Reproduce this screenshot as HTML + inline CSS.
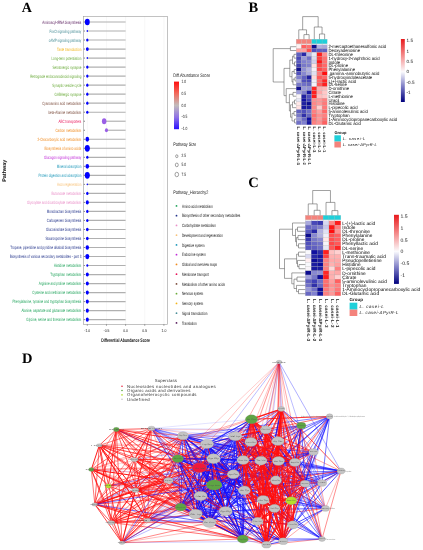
<!DOCTYPE html>
<html><head><meta charset="utf-8"><title>Figure</title>
<style>html,body{margin:0;padding:0;background:#fff;overflow:hidden}svg{display:block}text{font-family:"Liberation Sans",Arial,sans-serif;text-rendering:geometricPrecision}text.ser{font-family:"Liberation Serif",serif}</style>
</head><body>
<svg width="423" height="550" viewBox="0 0 423 550">
<rect width="423" height="550" fill="#fff"/>
<line x1="87.3" y1="16.3" x2="87.3" y2="324.3" stroke="#efefef" stroke-width="0.5"/>
<line x1="106.45" y1="16.3" x2="106.45" y2="324.3" stroke="#efefef" stroke-width="0.5"/>
<line x1="125.6" y1="16.3" x2="125.6" y2="324.3" stroke="#efefef" stroke-width="0.5"/>
<line x1="144.75" y1="16.3" x2="144.75" y2="324.3" stroke="#efefef" stroke-width="0.5"/>
<line x1="163.9" y1="16.3" x2="163.9" y2="324.3" stroke="#efefef" stroke-width="0.5"/>
<line x1="87.3" y1="22" x2="125.6" y2="22" stroke="#b0b0b0" stroke-width="1.15"/>
<line x1="87.3" y1="31.02" x2="125.6" y2="31.02" stroke="#b0b0b0" stroke-width="1.15"/>
<line x1="87.3" y1="40.04" x2="125.6" y2="40.04" stroke="#b0b0b0" stroke-width="1.15"/>
<line x1="87.3" y1="49.06" x2="125.6" y2="49.06" stroke="#b0b0b0" stroke-width="1.15"/>
<line x1="87.3" y1="58.08" x2="125.6" y2="58.08" stroke="#b0b0b0" stroke-width="1.15"/>
<line x1="87.3" y1="67.1" x2="125.6" y2="67.1" stroke="#b0b0b0" stroke-width="1.15"/>
<line x1="87.3" y1="76.12" x2="125.6" y2="76.12" stroke="#b0b0b0" stroke-width="1.15"/>
<line x1="87.3" y1="85.14" x2="125.6" y2="85.14" stroke="#b0b0b0" stroke-width="1.15"/>
<line x1="87.3" y1="94.16" x2="125.6" y2="94.16" stroke="#b0b0b0" stroke-width="1.15"/>
<line x1="87.3" y1="103.18" x2="125.6" y2="103.18" stroke="#b0b0b0" stroke-width="1.15"/>
<line x1="87.3" y1="112.2" x2="125.6" y2="112.2" stroke="#b0b0b0" stroke-width="1.15"/>
<line x1="104.15" y1="121.22" x2="125.6" y2="121.22" stroke="#b0b0b0" stroke-width="1.15"/>
<line x1="106.45" y1="130.24" x2="125.6" y2="130.24" stroke="#b0b0b0" stroke-width="1.15"/>
<line x1="87.3" y1="139.26" x2="125.6" y2="139.26" stroke="#b0b0b0" stroke-width="1.15"/>
<line x1="87.3" y1="148.28" x2="125.6" y2="148.28" stroke="#b0b0b0" stroke-width="1.15"/>
<line x1="87.3" y1="157.3" x2="125.6" y2="157.3" stroke="#b0b0b0" stroke-width="1.15"/>
<line x1="87.3" y1="166.32" x2="125.6" y2="166.32" stroke="#b0b0b0" stroke-width="1.15"/>
<line x1="87.3" y1="175.34" x2="125.6" y2="175.34" stroke="#b0b0b0" stroke-width="1.15"/>
<line x1="87.3" y1="184.36" x2="125.6" y2="184.36" stroke="#b0b0b0" stroke-width="1.15"/>
<line x1="87.3" y1="193.38" x2="125.6" y2="193.38" stroke="#b0b0b0" stroke-width="1.15"/>
<line x1="87.3" y1="202.4" x2="125.6" y2="202.4" stroke="#b0b0b0" stroke-width="1.15"/>
<line x1="87.3" y1="211.42" x2="125.6" y2="211.42" stroke="#b0b0b0" stroke-width="1.15"/>
<line x1="87.3" y1="220.44" x2="125.6" y2="220.44" stroke="#b0b0b0" stroke-width="1.15"/>
<line x1="87.3" y1="229.46" x2="125.6" y2="229.46" stroke="#b0b0b0" stroke-width="1.15"/>
<line x1="87.3" y1="238.48" x2="125.6" y2="238.48" stroke="#b0b0b0" stroke-width="1.15"/>
<line x1="87.3" y1="247.5" x2="125.6" y2="247.5" stroke="#b0b0b0" stroke-width="1.15"/>
<line x1="87.3" y1="256.52" x2="125.6" y2="256.52" stroke="#b0b0b0" stroke-width="1.15"/>
<line x1="87.3" y1="265.54" x2="125.6" y2="265.54" stroke="#b0b0b0" stroke-width="1.15"/>
<line x1="87.3" y1="274.56" x2="125.6" y2="274.56" stroke="#b0b0b0" stroke-width="1.15"/>
<line x1="87.3" y1="283.58" x2="125.6" y2="283.58" stroke="#b0b0b0" stroke-width="1.15"/>
<line x1="87.3" y1="292.6" x2="125.6" y2="292.6" stroke="#b0b0b0" stroke-width="1.15"/>
<line x1="87.3" y1="301.62" x2="125.6" y2="301.62" stroke="#b0b0b0" stroke-width="1.15"/>
<line x1="87.3" y1="310.64" x2="125.6" y2="310.64" stroke="#b0b0b0" stroke-width="1.15"/>
<line x1="87.3" y1="319.66" x2="125.6" y2="319.66" stroke="#b0b0b0" stroke-width="1.15"/>
<ellipse cx="87.3" cy="22" rx="2.43" ry="3.24" fill="#0000ff"/>
<line x1="83.6" y1="22" x2="84.9" y2="22" stroke="#555" stroke-width="0.8"/>
<text transform="translate(81.3,23.6) scale(0.65,1)" text-anchor="end" font-size="4.6" fill="#5a1e5e">Aminoacyl-tRNA biosynthesis</text>
<ellipse cx="87.3" cy="31.02" rx="0.72" ry="0.96" fill="#0000ff"/>
<line x1="83.6" y1="31.02" x2="84.9" y2="31.02" stroke="#555" stroke-width="0.8"/>
<text transform="translate(81.3,32.62) scale(0.65,1)" text-anchor="end" font-size="4.6" fill="#4b8f98">FoxO signaling pathway</text>
<ellipse cx="87.3" cy="40.04" rx="1.17" ry="1.56" fill="#0000ff"/>
<line x1="83.6" y1="40.04" x2="84.9" y2="40.04" stroke="#555" stroke-width="0.8"/>
<text transform="translate(81.3,41.64) scale(0.65,1)" text-anchor="end" font-size="4.6" fill="#4b8f98">cAMP signaling pathway</text>
<ellipse cx="87.3" cy="49.06" rx="1.44" ry="1.92" fill="#0000ff"/>
<line x1="83.6" y1="49.06" x2="84.9" y2="49.06" stroke="#555" stroke-width="0.8"/>
<text transform="translate(81.3,50.66) scale(0.65,1)" text-anchor="end" font-size="4.6" fill="#f2b418">Taste transduction</text>
<ellipse cx="87.3" cy="58.08" rx="0.72" ry="0.96" fill="#0000ff"/>
<line x1="83.6" y1="58.08" x2="84.9" y2="58.08" stroke="#555" stroke-width="0.8"/>
<text transform="translate(81.3,59.68) scale(0.65,1)" text-anchor="end" font-size="4.6" fill="#6aaa3a">Long-term potentiation</text>
<ellipse cx="87.3" cy="67.1" rx="1.17" ry="1.56" fill="#0000ff"/>
<line x1="83.6" y1="67.1" x2="84.9" y2="67.1" stroke="#555" stroke-width="0.8"/>
<text transform="translate(81.3,68.7) scale(0.65,1)" text-anchor="end" font-size="4.6" fill="#6aaa3a">Serotonergic synapse</text>
<ellipse cx="87.3" cy="76.12" rx="1.17" ry="1.56" fill="#0000ff"/>
<line x1="83.6" y1="76.12" x2="84.9" y2="76.12" stroke="#555" stroke-width="0.8"/>
<text transform="translate(81.3,77.72) scale(0.65,1)" text-anchor="end" font-size="4.6" fill="#6aaa3a">Retrograde endocannabinoid signaling</text>
<ellipse cx="87.3" cy="85.14" rx="1.17" ry="1.56" fill="#0000ff"/>
<line x1="83.6" y1="85.14" x2="84.9" y2="85.14" stroke="#555" stroke-width="0.8"/>
<text transform="translate(81.3,86.74) scale(0.65,1)" text-anchor="end" font-size="4.6" fill="#6aaa3a">Synaptic vesicle cycle</text>
<ellipse cx="87.3" cy="94.16" rx="1.17" ry="1.56" fill="#0000ff"/>
<line x1="83.6" y1="94.16" x2="84.9" y2="94.16" stroke="#555" stroke-width="0.8"/>
<text transform="translate(81.3,95.76) scale(0.65,1)" text-anchor="end" font-size="4.6" fill="#6aaa3a">GABAergic synapse</text>
<ellipse cx="87.3" cy="103.18" rx="1.17" ry="1.56" fill="#0000ff"/>
<line x1="83.6" y1="103.18" x2="84.9" y2="103.18" stroke="#555" stroke-width="0.8"/>
<text transform="translate(81.3,104.78) scale(0.65,1)" text-anchor="end" font-size="4.6" fill="#7a4a3a">Cyanoamino acid metabolism</text>
<ellipse cx="87.3" cy="112.2" rx="1.17" ry="1.56" fill="#0000ff"/>
<line x1="83.6" y1="112.2" x2="84.9" y2="112.2" stroke="#555" stroke-width="0.8"/>
<text transform="translate(81.3,113.8) scale(0.65,1)" text-anchor="end" font-size="4.6" fill="#7a4a3a">beta-Alanine metabolism</text>
<ellipse cx="104.15" cy="121.22" rx="2.25" ry="3" fill="#9a5fe6"/>
<line x1="83.6" y1="121.22" x2="84.9" y2="121.22" stroke="#555" stroke-width="0.8"/>
<text transform="translate(81.3,122.82) scale(0.65,1)" text-anchor="end" font-size="4.6" fill="#e8145a">ABC transporters</text>
<ellipse cx="106.45" cy="130.24" rx="1.53" ry="2.04" fill="#9a5fe6"/>
<line x1="83.6" y1="130.24" x2="84.9" y2="130.24" stroke="#555" stroke-width="0.8"/>
<text transform="translate(81.3,131.84) scale(0.65,1)" text-anchor="end" font-size="4.6" fill="#ef8a1e">Carbon metabolism</text>
<ellipse cx="87.3" cy="139.26" rx="1.8" ry="2.4" fill="#0000ff"/>
<line x1="83.6" y1="139.26" x2="84.9" y2="139.26" stroke="#555" stroke-width="0.8"/>
<text transform="translate(81.3,140.86) scale(0.65,1)" text-anchor="end" font-size="4.6" fill="#ef8a1e">2-Oxocarboxylic acid metabolism</text>
<ellipse cx="87.3" cy="148.28" rx="2.52" ry="3.36" fill="#0000ff"/>
<line x1="83.6" y1="148.28" x2="84.9" y2="148.28" stroke="#555" stroke-width="0.8"/>
<text transform="translate(81.3,149.88) scale(0.65,1)" text-anchor="end" font-size="4.6" fill="#ef8a1e">Biosynthesis of amino acids</text>
<ellipse cx="87.3" cy="157.3" rx="1.17" ry="1.56" fill="#0000ff"/>
<line x1="83.6" y1="157.3" x2="84.9" y2="157.3" stroke="#555" stroke-width="0.8"/>
<text transform="translate(81.3,158.9) scale(0.65,1)" text-anchor="end" font-size="4.6" fill="#c02ad8">Glucagon signaling pathway</text>
<ellipse cx="87.3" cy="166.32" rx="1.8" ry="2.4" fill="#0000ff"/>
<line x1="83.6" y1="166.32" x2="84.9" y2="166.32" stroke="#555" stroke-width="0.8"/>
<text transform="translate(81.3,167.92) scale(0.65,1)" text-anchor="end" font-size="4.6" fill="#1b96b8">Mineral absorption</text>
<ellipse cx="87.3" cy="175.34" rx="2.52" ry="3.36" fill="#0000ff"/>
<line x1="83.6" y1="175.34" x2="84.9" y2="175.34" stroke="#555" stroke-width="0.8"/>
<text transform="translate(81.3,176.94) scale(0.65,1)" text-anchor="end" font-size="4.6" fill="#1b96b8">Protein digestion and absorption</text>
<ellipse cx="87.3" cy="184.36" rx="0.72" ry="0.96" fill="#0000ff"/>
<line x1="83.6" y1="184.36" x2="84.9" y2="184.36" stroke="#555" stroke-width="0.8"/>
<text transform="translate(81.3,185.96) scale(0.65,1)" text-anchor="end" font-size="4.6" fill="#f7c27a">Axon regeneration</text>
<ellipse cx="87.3" cy="193.38" rx="1.17" ry="1.56" fill="#0000ff"/>
<line x1="83.6" y1="193.38" x2="84.9" y2="193.38" stroke="#555" stroke-width="0.8"/>
<text transform="translate(81.3,194.98) scale(0.65,1)" text-anchor="end" font-size="4.6" fill="#e98fc8">Butanoate metabolism</text>
<ellipse cx="87.3" cy="202.4" rx="1.53" ry="2.04" fill="#0000ff"/>
<line x1="83.6" y1="202.4" x2="84.9" y2="202.4" stroke="#555" stroke-width="0.8"/>
<text transform="translate(81.3,204) scale(0.65,1)" text-anchor="end" font-size="4.6" fill="#e98fc8">Glyoxylate and dicarboxylate metabolism</text>
<ellipse cx="87.3" cy="211.42" rx="1.17" ry="1.56" fill="#0000ff"/>
<line x1="83.6" y1="211.42" x2="84.9" y2="211.42" stroke="#555" stroke-width="0.8"/>
<text transform="translate(81.3,213.02) scale(0.65,1)" text-anchor="end" font-size="4.6" fill="#22338a">Monobactam biosynthesis</text>
<ellipse cx="87.3" cy="220.44" rx="1.17" ry="1.56" fill="#0000ff"/>
<line x1="83.6" y1="220.44" x2="84.9" y2="220.44" stroke="#555" stroke-width="0.8"/>
<text transform="translate(81.3,222.04) scale(0.65,1)" text-anchor="end" font-size="4.6" fill="#22338a">Carbapenem biosynthesis</text>
<ellipse cx="87.3" cy="229.46" rx="1.35" ry="1.8" fill="#0000ff"/>
<line x1="83.6" y1="229.46" x2="84.9" y2="229.46" stroke="#555" stroke-width="0.8"/>
<text transform="translate(81.3,231.06) scale(0.65,1)" text-anchor="end" font-size="4.6" fill="#22338a">Glucosinolate biosynthesis</text>
<ellipse cx="87.3" cy="238.48" rx="1.35" ry="1.8" fill="#0000ff"/>
<line x1="83.6" y1="238.48" x2="84.9" y2="238.48" stroke="#555" stroke-width="0.8"/>
<text transform="translate(81.3,240.08) scale(0.65,1)" text-anchor="end" font-size="4.6" fill="#22338a">Staurosporine biosynthesis</text>
<ellipse cx="87.3" cy="247.5" rx="1.71" ry="2.28" fill="#0000ff"/>
<line x1="83.6" y1="247.5" x2="84.9" y2="247.5" stroke="#555" stroke-width="0.8"/>
<text transform="translate(81.3,249.1) scale(0.65,1)" text-anchor="end" font-size="4.6" fill="#22338a">Tropane, piperidine and pyridine alkaloid biosynthesis</text>
<ellipse cx="87.3" cy="256.52" rx="1.98" ry="2.64" fill="#0000ff"/>
<line x1="83.6" y1="256.52" x2="84.9" y2="256.52" stroke="#555" stroke-width="0.8"/>
<text transform="translate(81.3,258.12) scale(0.65,1)" text-anchor="end" font-size="4.6" fill="#22338a">Biosynthesis of various secondary metabolites - part 3</text>
<ellipse cx="87.3" cy="265.54" rx="0.99" ry="1.32" fill="#0000ff"/>
<line x1="83.6" y1="265.54" x2="84.9" y2="265.54" stroke="#555" stroke-width="0.8"/>
<text transform="translate(81.3,267.14) scale(0.65,1)" text-anchor="end" font-size="4.6" fill="#1fa35a">Histidine metabolism</text>
<ellipse cx="87.3" cy="274.56" rx="1.53" ry="2.04" fill="#0000ff"/>
<line x1="83.6" y1="274.56" x2="84.9" y2="274.56" stroke="#555" stroke-width="0.8"/>
<text transform="translate(81.3,276.16) scale(0.65,1)" text-anchor="end" font-size="4.6" fill="#1fa35a">Tryptophan metabolism</text>
<ellipse cx="87.3" cy="283.58" rx="1.53" ry="2.04" fill="#0000ff"/>
<line x1="83.6" y1="283.58" x2="84.9" y2="283.58" stroke="#555" stroke-width="0.8"/>
<text transform="translate(81.3,285.18) scale(0.65,1)" text-anchor="end" font-size="4.6" fill="#1fa35a">Arginine and proline metabolism</text>
<ellipse cx="87.3" cy="292.6" rx="1.53" ry="2.04" fill="#0000ff"/>
<line x1="83.6" y1="292.6" x2="84.9" y2="292.6" stroke="#555" stroke-width="0.8"/>
<text transform="translate(81.3,294.2) scale(0.65,1)" text-anchor="end" font-size="4.6" fill="#1fa35a">Cysteine and methionine metabolism</text>
<ellipse cx="87.3" cy="301.62" rx="1.53" ry="2.04" fill="#0000ff"/>
<line x1="83.6" y1="301.62" x2="84.9" y2="301.62" stroke="#555" stroke-width="0.8"/>
<text transform="translate(81.3,303.22) scale(0.65,1)" text-anchor="end" font-size="4.6" fill="#1fa35a">Phenylalanine, tyrosine and tryptophan biosynthesis</text>
<ellipse cx="87.3" cy="310.64" rx="1.53" ry="2.04" fill="#0000ff"/>
<line x1="83.6" y1="310.64" x2="84.9" y2="310.64" stroke="#555" stroke-width="0.8"/>
<text transform="translate(81.3,312.24) scale(0.65,1)" text-anchor="end" font-size="4.6" fill="#1fa35a">Alanine, aspartate and glutamate metabolism</text>
<ellipse cx="87.3" cy="319.66" rx="1.53" ry="2.04" fill="#0000ff"/>
<line x1="83.6" y1="319.66" x2="84.9" y2="319.66" stroke="#555" stroke-width="0.8"/>
<text transform="translate(81.3,321.26) scale(0.65,1)" text-anchor="end" font-size="4.6" fill="#1fa35a">Glycine, serine and threonine metabolism</text>
<rect x="83.5" y="16.3" width="84.1" height="308" fill="none" stroke="#9a9a9a" stroke-width="0.6"/>
<line x1="87.3" y1="324.3" x2="87.3" y2="325.8" stroke="#444" stroke-width="0.5"/>
<text transform="translate(87.3,331.8) scale(0.8,1)" text-anchor="middle" font-size="4.3" fill="#222">-1.0</text>
<line x1="106.45" y1="324.3" x2="106.45" y2="325.8" stroke="#444" stroke-width="0.5"/>
<text transform="translate(106.45,331.8) scale(0.8,1)" text-anchor="middle" font-size="4.3" fill="#222">-0.5</text>
<line x1="125.6" y1="324.3" x2="125.6" y2="325.8" stroke="#444" stroke-width="0.5"/>
<text transform="translate(125.6,331.8) scale(0.8,1)" text-anchor="middle" font-size="4.3" fill="#222">0.0</text>
<line x1="144.75" y1="324.3" x2="144.75" y2="325.8" stroke="#444" stroke-width="0.5"/>
<text transform="translate(144.75,331.8) scale(0.8,1)" text-anchor="middle" font-size="4.3" fill="#222">0.5</text>
<line x1="163.9" y1="324.3" x2="163.9" y2="325.8" stroke="#444" stroke-width="0.5"/>
<text transform="translate(163.9,331.8) scale(0.8,1)" text-anchor="middle" font-size="4.3" fill="#222">1.0</text>
<text x="125.6" y="342.0" text-anchor="middle" font-size="5.2" font-weight="bold" fill="#111" textLength="48.9" lengthAdjust="spacingAndGlyphs">Differential Abundance Score</text>
<text transform="translate(5.6,170.8) rotate(-90)" text-anchor="middle" font-size="5.4" font-weight="bold" fill="#111">Pathway</text>
<defs><linearGradient id="gA" x1="0" y1="0" x2="0" y2="1"><stop offset="0" stop-color="#ff1010"/><stop offset="0.25" stop-color="#f26a5c"/><stop offset="0.5" stop-color="#c2bcbc"/><stop offset="0.75" stop-color="#8f72e6"/><stop offset="1" stop-color="#2a10ff"/></linearGradient></defs>
<text transform="translate(173.2,77.4) scale(0.76,1)" font-size="5.0" fill="#222">Diff.Abundance Score</text>
<rect x="174" y="81.6" width="5" height="47.6" fill="url(#gA)"/>
<text transform="translate(181.6,83.1) scale(0.72,1)" font-size="4.6" fill="#222">1.0</text>
<text transform="translate(181.6,94.85) scale(0.72,1)" font-size="4.6" fill="#222">0.5</text>
<text transform="translate(181.6,106.6) scale(0.72,1)" font-size="4.6" fill="#222">0.0</text>
<text transform="translate(181.6,118.35) scale(0.72,1)" font-size="4.6" fill="#222">-0.5</text>
<text transform="translate(181.6,130.1) scale(0.72,1)" font-size="4.6" fill="#222">-1.0</text>
<text transform="translate(173.2,146.3) scale(0.76,1)" font-size="5.0" fill="#222">Pathway Size</text>
<ellipse cx="176.8" cy="156.2" rx="1.16" ry="1.45" fill="none" stroke="#333" stroke-width="0.45"/>
<text transform="translate(181.6,157.4) scale(0.72,1)" font-size="4.6" fill="#222">2.5</text>
<ellipse cx="176.8" cy="164.9" rx="1.48" ry="1.85" fill="none" stroke="#333" stroke-width="0.45"/>
<text transform="translate(181.6,166.1) scale(0.72,1)" font-size="4.6" fill="#222">5.0</text>
<ellipse cx="176.8" cy="174.5" rx="1.8" ry="2.25" fill="none" stroke="#333" stroke-width="0.45"/>
<text transform="translate(181.6,175.7) scale(0.72,1)" font-size="4.6" fill="#222">7.5</text>
<text transform="translate(173.2,194.4) scale(0.76,1)" font-size="5.0" fill="#222">Pathway_Hierarchy2</text>
<circle cx="176.5" cy="205.9" r="0.9" fill="#1fa35a"/>
<text transform="translate(181.9,207.5) scale(0.65,1)" font-size="4.6" fill="#111">Amino acid metabolism</text>
<circle cx="176.5" cy="215.65" r="0.9" fill="#22338a"/>
<text transform="translate(181.9,217.25) scale(0.65,1)" font-size="4.6" fill="#111">Biosynthesis of other secondary metabolites</text>
<circle cx="176.5" cy="225.4" r="0.9" fill="#e98fc8"/>
<text transform="translate(181.9,227) scale(0.65,1)" font-size="4.6" fill="#111">Carbohydrate metabolism</text>
<circle cx="176.5" cy="235.15" r="0.9" fill="#f7c27a"/>
<text transform="translate(181.9,236.75) scale(0.65,1)" font-size="4.6" fill="#111">Development and regeneration</text>
<circle cx="176.5" cy="244.9" r="0.9" fill="#1b96b8"/>
<text transform="translate(181.9,246.5) scale(0.65,1)" font-size="4.6" fill="#111">Digestive system</text>
<circle cx="176.5" cy="254.65" r="0.9" fill="#c02ad8"/>
<text transform="translate(181.9,256.25) scale(0.65,1)" font-size="4.6" fill="#111">Endocrine system</text>
<circle cx="176.5" cy="264.4" r="0.9" fill="#ef8a1e"/>
<text transform="translate(181.9,266) scale(0.65,1)" font-size="4.6" fill="#111">Global and overview maps</text>
<circle cx="176.5" cy="274.15" r="0.9" fill="#e8145a"/>
<text transform="translate(181.9,275.75) scale(0.65,1)" font-size="4.6" fill="#111">Membrane transport</text>
<circle cx="176.5" cy="283.9" r="0.9" fill="#7a4a3a"/>
<text transform="translate(181.9,285.5) scale(0.65,1)" font-size="4.6" fill="#111">Metabolism of other amino acids</text>
<circle cx="176.5" cy="293.65" r="0.9" fill="#6aaa3a"/>
<text transform="translate(181.9,295.25) scale(0.65,1)" font-size="4.6" fill="#111">Nervous system</text>
<circle cx="176.5" cy="303.4" r="0.9" fill="#f2b418"/>
<text transform="translate(181.9,305) scale(0.65,1)" font-size="4.6" fill="#111">Sensory system</text>
<circle cx="176.5" cy="313.15" r="0.9" fill="#4b8f98"/>
<text transform="translate(181.9,314.75) scale(0.65,1)" font-size="4.6" fill="#111">Signal transduction</text>
<circle cx="176.5" cy="322.9" r="0.9" fill="#5a1e5e"/>
<text transform="translate(181.9,324.5) scale(0.65,1)" font-size="4.6" fill="#111">Translation</text>
<text x="21.8" y="11.7" class="ser" font-weight="bold" font-size="14" fill="#000">A</text>
<rect x="296.2" y="44.8" width="5.17" height="3.81" fill="#fff0f0" stroke="#a8a8a8" stroke-width="0.18"/>
<rect x="301.37" y="44.8" width="5.17" height="3.81" fill="#ff6060" stroke="#a8a8a8" stroke-width="0.18"/>
<rect x="306.54" y="44.8" width="5.17" height="3.81" fill="#ff7070" stroke="#a8a8a8" stroke-width="0.18"/>
<rect x="311.71" y="44.8" width="5.17" height="3.81" fill="#101090" stroke="#a8a8a8" stroke-width="0.18"/>
<rect x="316.88" y="44.8" width="5.17" height="3.81" fill="#b0b0e0" stroke="#a8a8a8" stroke-width="0.18"/>
<rect x="322.05" y="44.8" width="5.17" height="3.81" fill="#a8a8d8" stroke="#a8a8a8" stroke-width="0.18"/>
<rect x="296.2" y="48.61" width="5.17" height="3.81" fill="#ffa0a0" stroke="#a8a8a8" stroke-width="0.18"/>
<rect x="301.37" y="48.61" width="5.17" height="3.81" fill="#ffa0a0" stroke="#a8a8a8" stroke-width="0.18"/>
<rect x="306.54" y="48.61" width="5.17" height="3.81" fill="#ff5050" stroke="#a8a8a8" stroke-width="0.18"/>
<rect x="311.71" y="48.61" width="5.17" height="3.81" fill="#5050c0" stroke="#a8a8a8" stroke-width="0.18"/>
<rect x="316.88" y="48.61" width="5.17" height="3.81" fill="#6060c0" stroke="#a8a8a8" stroke-width="0.18"/>
<rect x="322.05" y="48.61" width="5.17" height="3.81" fill="#6060c0" stroke="#a8a8a8" stroke-width="0.18"/>
<rect x="296.2" y="52.42" width="5.17" height="3.81" fill="#6060c0" stroke="#a8a8a8" stroke-width="0.18"/>
<rect x="301.37" y="52.42" width="5.17" height="3.81" fill="#2828a8" stroke="#a8a8a8" stroke-width="0.18"/>
<rect x="306.54" y="52.42" width="5.17" height="3.81" fill="#b8b8e0" stroke="#a8a8a8" stroke-width="0.18"/>
<rect x="311.71" y="52.42" width="5.17" height="3.81" fill="#e8e8f4" stroke="#a8a8a8" stroke-width="0.18"/>
<rect x="316.88" y="52.42" width="5.17" height="3.81" fill="#ff1e1e" stroke="#a8a8a8" stroke-width="0.18"/>
<rect x="322.05" y="52.42" width="5.17" height="3.81" fill="#ff9090" stroke="#a8a8a8" stroke-width="0.18"/>
<rect x="296.2" y="56.23" width="5.17" height="3.81" fill="#4848b8" stroke="#a8a8a8" stroke-width="0.18"/>
<rect x="301.37" y="56.23" width="5.17" height="3.81" fill="#9898d8" stroke="#a8a8a8" stroke-width="0.18"/>
<rect x="306.54" y="56.23" width="5.17" height="3.81" fill="#7070c8" stroke="#a8a8a8" stroke-width="0.18"/>
<rect x="311.71" y="56.23" width="5.17" height="3.81" fill="#dcdcf0" stroke="#a8a8a8" stroke-width="0.18"/>
<rect x="316.88" y="56.23" width="5.17" height="3.81" fill="#ff4040" stroke="#a8a8a8" stroke-width="0.18"/>
<rect x="322.05" y="56.23" width="5.17" height="3.81" fill="#ff7070" stroke="#a8a8a8" stroke-width="0.18"/>
<rect x="296.2" y="60.04" width="5.17" height="3.81" fill="#5858c0" stroke="#a8a8a8" stroke-width="0.18"/>
<rect x="301.37" y="60.04" width="5.17" height="3.81" fill="#8080d0" stroke="#a8a8a8" stroke-width="0.18"/>
<rect x="306.54" y="60.04" width="5.17" height="3.81" fill="#8888d0" stroke="#a8a8a8" stroke-width="0.18"/>
<rect x="311.71" y="60.04" width="5.17" height="3.81" fill="#d0d0ec" stroke="#a8a8a8" stroke-width="0.18"/>
<rect x="316.88" y="60.04" width="5.17" height="3.81" fill="#ff1616" stroke="#a8a8a8" stroke-width="0.18"/>
<rect x="322.05" y="60.04" width="5.17" height="3.81" fill="#ff7070" stroke="#a8a8a8" stroke-width="0.18"/>
<rect x="296.2" y="63.85" width="5.17" height="3.81" fill="#4040b0" stroke="#a8a8a8" stroke-width="0.18"/>
<rect x="301.37" y="63.85" width="5.17" height="3.81" fill="#7878c8" stroke="#a8a8a8" stroke-width="0.18"/>
<rect x="306.54" y="63.85" width="5.17" height="3.81" fill="#8080cc" stroke="#a8a8a8" stroke-width="0.18"/>
<rect x="311.71" y="63.85" width="5.17" height="3.81" fill="#ffe0e0" stroke="#a8a8a8" stroke-width="0.18"/>
<rect x="316.88" y="63.85" width="5.17" height="3.81" fill="#ff4848" stroke="#a8a8a8" stroke-width="0.18"/>
<rect x="322.05" y="63.85" width="5.17" height="3.81" fill="#ff6868" stroke="#a8a8a8" stroke-width="0.18"/>
<rect x="296.2" y="67.66" width="5.17" height="3.81" fill="#10108c" stroke="#a8a8a8" stroke-width="0.18"/>
<rect x="301.37" y="67.66" width="5.17" height="3.81" fill="#9090d4" stroke="#a8a8a8" stroke-width="0.18"/>
<rect x="306.54" y="67.66" width="5.17" height="3.81" fill="#b0b0e0" stroke="#a8a8a8" stroke-width="0.18"/>
<rect x="311.71" y="67.66" width="5.17" height="3.81" fill="#f4f0f8" stroke="#a8a8a8" stroke-width="0.18"/>
<rect x="316.88" y="67.66" width="5.17" height="3.81" fill="#ff4848" stroke="#a8a8a8" stroke-width="0.18"/>
<rect x="322.05" y="67.66" width="5.17" height="3.81" fill="#ff6060" stroke="#a8a8a8" stroke-width="0.18"/>
<rect x="296.2" y="71.47" width="5.17" height="3.81" fill="#5050bc" stroke="#a8a8a8" stroke-width="0.18"/>
<rect x="301.37" y="71.47" width="5.17" height="3.81" fill="#8888d0" stroke="#a8a8a8" stroke-width="0.18"/>
<rect x="306.54" y="71.47" width="5.17" height="3.81" fill="#a8a8dc" stroke="#a8a8a8" stroke-width="0.18"/>
<rect x="311.71" y="71.47" width="5.17" height="3.81" fill="#e0e0f0" stroke="#a8a8a8" stroke-width="0.18"/>
<rect x="316.88" y="71.47" width="5.17" height="3.81" fill="#ff7878" stroke="#a8a8a8" stroke-width="0.18"/>
<rect x="322.05" y="71.47" width="5.17" height="3.81" fill="#ff0e0e" stroke="#a8a8a8" stroke-width="0.18"/>
<rect x="296.2" y="75.28" width="5.17" height="3.81" fill="#8080cc" stroke="#a8a8a8" stroke-width="0.18"/>
<rect x="301.37" y="75.28" width="5.17" height="3.81" fill="#6060c0" stroke="#a8a8a8" stroke-width="0.18"/>
<rect x="306.54" y="75.28" width="5.17" height="3.81" fill="#2020a0" stroke="#a8a8a8" stroke-width="0.18"/>
<rect x="311.71" y="75.28" width="5.17" height="3.81" fill="#ffd8d8" stroke="#a8a8a8" stroke-width="0.18"/>
<rect x="316.88" y="75.28" width="5.17" height="3.81" fill="#ff5858" stroke="#a8a8a8" stroke-width="0.18"/>
<rect x="322.05" y="75.28" width="5.17" height="3.81" fill="#ff6868" stroke="#a8a8a8" stroke-width="0.18"/>
<rect x="296.2" y="79.09" width="5.17" height="3.81" fill="#b0b0e0" stroke="#a8a8a8" stroke-width="0.18"/>
<rect x="301.37" y="79.09" width="5.17" height="3.81" fill="#5050bc" stroke="#a8a8a8" stroke-width="0.18"/>
<rect x="306.54" y="79.09" width="5.17" height="3.81" fill="#4848b8" stroke="#a8a8a8" stroke-width="0.18"/>
<rect x="311.71" y="79.09" width="5.17" height="3.81" fill="#f0eef8" stroke="#a8a8a8" stroke-width="0.18"/>
<rect x="316.88" y="79.09" width="5.17" height="3.81" fill="#ff6868" stroke="#a8a8a8" stroke-width="0.18"/>
<rect x="322.05" y="79.09" width="5.17" height="3.81" fill="#ff2626" stroke="#a8a8a8" stroke-width="0.18"/>
<rect x="296.2" y="82.9" width="5.17" height="3.81" fill="#7878c8" stroke="#a8a8a8" stroke-width="0.18"/>
<rect x="301.37" y="82.9" width="5.17" height="3.81" fill="#7070c8" stroke="#a8a8a8" stroke-width="0.18"/>
<rect x="306.54" y="82.9" width="5.17" height="3.81" fill="#6868c0" stroke="#a8a8a8" stroke-width="0.18"/>
<rect x="311.71" y="82.9" width="5.17" height="3.81" fill="#f4f4fc" stroke="#a8a8a8" stroke-width="0.18"/>
<rect x="316.88" y="82.9" width="5.17" height="3.81" fill="#ff5858" stroke="#a8a8a8" stroke-width="0.18"/>
<rect x="322.05" y="82.9" width="5.17" height="3.81" fill="#ff1e1e" stroke="#a8a8a8" stroke-width="0.18"/>
<rect x="296.2" y="86.71" width="5.17" height="3.81" fill="#101090" stroke="#a8a8a8" stroke-width="0.18"/>
<rect x="301.37" y="86.71" width="5.17" height="3.81" fill="#9898d8" stroke="#a8a8a8" stroke-width="0.18"/>
<rect x="306.54" y="86.71" width="5.17" height="3.81" fill="#9090d4" stroke="#a8a8a8" stroke-width="0.18"/>
<rect x="311.71" y="86.71" width="5.17" height="3.81" fill="#ff2626" stroke="#a8a8a8" stroke-width="0.18"/>
<rect x="316.88" y="86.71" width="5.17" height="3.81" fill="#ffb0b0" stroke="#a8a8a8" stroke-width="0.18"/>
<rect x="322.05" y="86.71" width="5.17" height="3.81" fill="#ffb8b8" stroke="#a8a8a8" stroke-width="0.18"/>
<rect x="296.2" y="90.52" width="5.17" height="3.81" fill="#a0a0dc" stroke="#a8a8a8" stroke-width="0.18"/>
<rect x="301.37" y="90.52" width="5.17" height="3.81" fill="#8080cc" stroke="#a8a8a8" stroke-width="0.18"/>
<rect x="306.54" y="90.52" width="5.17" height="3.81" fill="#1818a0" stroke="#a8a8a8" stroke-width="0.18"/>
<rect x="311.71" y="90.52" width="5.17" height="3.81" fill="#ff1e1e" stroke="#a8a8a8" stroke-width="0.18"/>
<rect x="316.88" y="90.52" width="5.17" height="3.81" fill="#ffa8a8" stroke="#a8a8a8" stroke-width="0.18"/>
<rect x="322.05" y="90.52" width="5.17" height="3.81" fill="#ffc8c8" stroke="#a8a8a8" stroke-width="0.18"/>
<rect x="296.2" y="94.33" width="5.17" height="3.81" fill="#f8f4f8" stroke="#a8a8a8" stroke-width="0.18"/>
<rect x="301.37" y="94.33" width="5.17" height="3.81" fill="#2020a0" stroke="#a8a8a8" stroke-width="0.18"/>
<rect x="306.54" y="94.33" width="5.17" height="3.81" fill="#5050bc" stroke="#a8a8a8" stroke-width="0.18"/>
<rect x="311.71" y="94.33" width="5.17" height="3.81" fill="#ff1e1e" stroke="#a8a8a8" stroke-width="0.18"/>
<rect x="316.88" y="94.33" width="5.17" height="3.81" fill="#ffc0c0" stroke="#a8a8a8" stroke-width="0.18"/>
<rect x="322.05" y="94.33" width="5.17" height="3.81" fill="#ffc8c8" stroke="#a8a8a8" stroke-width="0.18"/>
<rect x="296.2" y="98.14" width="5.17" height="3.81" fill="#e8e8f4" stroke="#a8a8a8" stroke-width="0.18"/>
<rect x="301.37" y="98.14" width="5.17" height="3.81" fill="#1010a0" stroke="#a8a8a8" stroke-width="0.18"/>
<rect x="306.54" y="98.14" width="5.17" height="3.81" fill="#4040b8" stroke="#a8a8a8" stroke-width="0.18"/>
<rect x="311.71" y="98.14" width="5.17" height="3.81" fill="#ff9090" stroke="#a8a8a8" stroke-width="0.18"/>
<rect x="316.88" y="98.14" width="5.17" height="3.81" fill="#ff9898" stroke="#a8a8a8" stroke-width="0.18"/>
<rect x="322.05" y="98.14" width="5.17" height="3.81" fill="#ff8080" stroke="#a8a8a8" stroke-width="0.18"/>
<rect x="296.2" y="101.95" width="5.17" height="3.81" fill="#ffe8e8" stroke="#a8a8a8" stroke-width="0.18"/>
<rect x="301.37" y="101.95" width="5.17" height="3.81" fill="#2020a0" stroke="#a8a8a8" stroke-width="0.18"/>
<rect x="306.54" y="101.95" width="5.17" height="3.81" fill="#0c0c90" stroke="#a8a8a8" stroke-width="0.18"/>
<rect x="311.71" y="101.95" width="5.17" height="3.81" fill="#ff8888" stroke="#a8a8a8" stroke-width="0.18"/>
<rect x="316.88" y="101.95" width="5.17" height="3.81" fill="#ff9898" stroke="#a8a8a8" stroke-width="0.18"/>
<rect x="322.05" y="101.95" width="5.17" height="3.81" fill="#ff7878" stroke="#a8a8a8" stroke-width="0.18"/>
<rect x="296.2" y="105.76" width="5.17" height="3.81" fill="#ffe0e0" stroke="#a8a8a8" stroke-width="0.18"/>
<rect x="301.37" y="105.76" width="5.17" height="3.81" fill="#1818a0" stroke="#a8a8a8" stroke-width="0.18"/>
<rect x="306.54" y="105.76" width="5.17" height="3.81" fill="#2020a0" stroke="#a8a8a8" stroke-width="0.18"/>
<rect x="311.71" y="105.76" width="5.17" height="3.81" fill="#ff8888" stroke="#a8a8a8" stroke-width="0.18"/>
<rect x="316.88" y="105.76" width="5.17" height="3.81" fill="#ffd0d0" stroke="#a8a8a8" stroke-width="0.18"/>
<rect x="322.05" y="105.76" width="5.17" height="3.81" fill="#ff7878" stroke="#a8a8a8" stroke-width="0.18"/>
<rect x="296.2" y="109.57" width="5.17" height="3.81" fill="#6060c0" stroke="#a8a8a8" stroke-width="0.18"/>
<rect x="301.37" y="109.57" width="5.17" height="3.81" fill="#5050bc" stroke="#a8a8a8" stroke-width="0.18"/>
<rect x="306.54" y="109.57" width="5.17" height="3.81" fill="#7070c8" stroke="#a8a8a8" stroke-width="0.18"/>
<rect x="311.71" y="109.57" width="5.17" height="3.81" fill="#ff8080" stroke="#a8a8a8" stroke-width="0.18"/>
<rect x="316.88" y="109.57" width="5.17" height="3.81" fill="#ffa0a0" stroke="#a8a8a8" stroke-width="0.18"/>
<rect x="322.05" y="109.57" width="5.17" height="3.81" fill="#ff6868" stroke="#a8a8a8" stroke-width="0.18"/>
<rect x="296.2" y="113.38" width="5.17" height="3.81" fill="#7878c8" stroke="#a8a8a8" stroke-width="0.18"/>
<rect x="301.37" y="113.38" width="5.17" height="3.81" fill="#3030a8" stroke="#a8a8a8" stroke-width="0.18"/>
<rect x="306.54" y="113.38" width="5.17" height="3.81" fill="#6868c0" stroke="#a8a8a8" stroke-width="0.18"/>
<rect x="311.71" y="113.38" width="5.17" height="3.81" fill="#ff7070" stroke="#a8a8a8" stroke-width="0.18"/>
<rect x="316.88" y="113.38" width="5.17" height="3.81" fill="#ff9090" stroke="#a8a8a8" stroke-width="0.18"/>
<rect x="322.05" y="113.38" width="5.17" height="3.81" fill="#ff8080" stroke="#a8a8a8" stroke-width="0.18"/>
<rect x="296.2" y="117.19" width="5.17" height="3.81" fill="#9898d8" stroke="#a8a8a8" stroke-width="0.18"/>
<rect x="301.37" y="117.19" width="5.17" height="3.81" fill="#6868c4" stroke="#a8a8a8" stroke-width="0.18"/>
<rect x="306.54" y="117.19" width="5.17" height="3.81" fill="#1010a0" stroke="#a8a8a8" stroke-width="0.18"/>
<rect x="311.71" y="117.19" width="5.17" height="3.81" fill="#ff7878" stroke="#a8a8a8" stroke-width="0.18"/>
<rect x="316.88" y="117.19" width="5.17" height="3.81" fill="#ff9898" stroke="#a8a8a8" stroke-width="0.18"/>
<rect x="322.05" y="117.19" width="5.17" height="3.81" fill="#ff7070" stroke="#a8a8a8" stroke-width="0.18"/>
<rect x="296.2" y="121" width="5.17" height="3.81" fill="#7070c8" stroke="#a8a8a8" stroke-width="0.18"/>
<rect x="301.37" y="121" width="5.17" height="3.81" fill="#8080d0" stroke="#a8a8a8" stroke-width="0.18"/>
<rect x="306.54" y="121" width="5.17" height="3.81" fill="#1818a0" stroke="#a8a8a8" stroke-width="0.18"/>
<rect x="311.71" y="121" width="5.17" height="3.81" fill="#ff8080" stroke="#a8a8a8" stroke-width="0.18"/>
<rect x="316.88" y="121" width="5.17" height="3.81" fill="#ff9090" stroke="#a8a8a8" stroke-width="0.18"/>
<rect x="322.05" y="121" width="5.17" height="3.81" fill="#ff6060" stroke="#a8a8a8" stroke-width="0.18"/>
<rect x="296.2" y="39.2" width="5.17" height="4.6" fill="#f4837c" stroke="#b0b0b0" stroke-width="0.2"/>
<rect x="301.37" y="39.2" width="5.17" height="4.6" fill="#f4837c" stroke="#b0b0b0" stroke-width="0.2"/>
<rect x="306.54" y="39.2" width="5.17" height="4.6" fill="#f4837c" stroke="#b0b0b0" stroke-width="0.2"/>
<rect x="311.71" y="39.2" width="5.17" height="4.6" fill="#1fd0da" stroke="#b0b0b0" stroke-width="0.2"/>
<rect x="316.88" y="39.2" width="5.17" height="4.6" fill="#1fd0da" stroke="#b0b0b0" stroke-width="0.2"/>
<rect x="322.05" y="39.2" width="5.17" height="4.6" fill="#1fd0da" stroke="#b0b0b0" stroke-width="0.2"/>
<path d="M296.2 46.7H290.4V50.52H296.2" fill="none" stroke="#555" stroke-width="0.55"/>
<path d="M296.2 54.32H294V58.13H296.2" fill="none" stroke="#555" stroke-width="0.55"/>
<path d="M296.2 61.94H294.5V65.75H296.2" fill="none" stroke="#555" stroke-width="0.55"/>
<path d="M294 56.23H292.5V63.85H294.5" fill="none" stroke="#555" stroke-width="0.55"/>
<path d="M296.2 69.56H294.2V73.38H296.2" fill="none" stroke="#555" stroke-width="0.55"/>
<path d="M296.2 77.19H295V81H296.2" fill="none" stroke="#555" stroke-width="0.55"/>
<path d="M295 79.09H293V84.81H296.2" fill="none" stroke="#555" stroke-width="0.55"/>
<path d="M294.2 71.47H292V81.95H293" fill="none" stroke="#555" stroke-width="0.55"/>
<path d="M292.5 60.04H289.8V76.71H292" fill="none" stroke="#555" stroke-width="0.55"/>
<path d="M296.2 92.42H293V96.23H296.2" fill="none" stroke="#555" stroke-width="0.55"/>
<path d="M296.2 100.04H294.5V103.85H296.2" fill="none" stroke="#555" stroke-width="0.55"/>
<path d="M294.5 101.95H292.5V107.66H296.2" fill="none" stroke="#555" stroke-width="0.55"/>
<path d="M296.2 111.47H294V115.28H296.2" fill="none" stroke="#555" stroke-width="0.55"/>
<path d="M296.2 119.09H294.5V122.91H296.2" fill="none" stroke="#555" stroke-width="0.55"/>
<path d="M294 113.38H292V121H294.5" fill="none" stroke="#555" stroke-width="0.55"/>
<path d="M292.5 104.81H290.5V117.19H292" fill="none" stroke="#555" stroke-width="0.55"/>
<path d="M293 94.33H289.4V111H290.5" fill="none" stroke="#555" stroke-width="0.55"/>
<path d="M296.2 88.61H286.2V102.66H289.4" fill="none" stroke="#555" stroke-width="0.55"/>
<path d="M289.8 68.37H284V95.64H286.2" fill="none" stroke="#555" stroke-width="0.55"/>
<path d="M290.4 48.61H273.2V82.01H284" fill="none" stroke="#555" stroke-width="0.55"/>
<path d="M303.95 39.2V34.6H309.12V39.2" fill="none" stroke="#555" stroke-width="0.55"/>
<path d="M298.78 39.2V29.8H306.54V34.6" fill="none" stroke="#555" stroke-width="0.55"/>
<path d="M319.46 39.2V34H324.63V39.2" fill="none" stroke="#555" stroke-width="0.55"/>
<path d="M314.29 39.2V27H322.05V34" fill="none" stroke="#555" stroke-width="0.55"/>
<path d="M302.66 29.8V16.6H318.17V27" fill="none" stroke="#555" stroke-width="0.55"/>
<text transform="translate(328.5,48.31) scale(0.92,1)" font-size="4.6" fill="#000">2-mercaptoethanesulfonic acid</text>
<text transform="translate(328.5,52.12) scale(0.92,1)" font-size="4.6" fill="#000">Deoxyadenosine</text>
<text transform="translate(328.5,55.93) scale(0.92,1)" font-size="4.6" fill="#000">DL-threonine</text>
<text transform="translate(328.5,59.74) scale(0.92,1)" font-size="4.6" fill="#000">1-hydroxy-2-naphthoic acid</text>
<text transform="translate(328.5,63.55) scale(0.92,1)" font-size="4.6" fill="#000">Indole</text>
<text transform="translate(328.5,67.36) scale(0.92,1)" font-size="4.6" fill="#000">DL-proline</text>
<text transform="translate(328.5,71.17) scale(0.92,1)" font-size="4.6" fill="#000">Phenylalanine</text>
<text transform="translate(328.5,74.98) scale(0.92,1)" font-size="4.6" fill="#000">.gamma.-aminobutyric acid</text>
<text transform="translate(328.5,78.8) scale(0.92,1)" font-size="4.6" fill="#000">5-hydroxyindoleacetate</text>
<text transform="translate(328.5,82.61) scale(0.92,1)" font-size="4.6" fill="#000">L(+)-lactic acid</text>
<text transform="translate(328.5,86.42) scale(0.92,1)" font-size="4.6" fill="#000">DL-serine</text>
<text transform="translate(328.5,90.22) scale(0.92,1)" font-size="4.6" fill="#000">D-ornithine</text>
<text transform="translate(328.5,94.03) scale(0.92,1)" font-size="4.6" fill="#000">Citrate</text>
<text transform="translate(328.5,97.84) scale(0.92,1)" font-size="4.6" fill="#000">L-methionine</text>
<text transform="translate(328.5,101.65) scale(0.92,1)" font-size="4.6" fill="#000">Uracil</text>
<text transform="translate(328.5,105.46) scale(0.92,1)" font-size="4.6" fill="#000">Histidine</text>
<text transform="translate(328.5,109.27) scale(0.92,1)" font-size="4.6" fill="#000">L-pipecolic acid</text>
<text transform="translate(328.5,113.08) scale(0.92,1)" font-size="4.6" fill="#000">5-aminolevulinic acid</text>
<text transform="translate(328.5,116.89) scale(0.92,1)" font-size="4.6" fill="#000">Tryptophan</text>
<text transform="translate(328.5,120.7) scale(0.92,1)" font-size="4.6" fill="#000">1-Aminocyclopropanecarboxylic acid</text>
<text transform="translate(328.5,124.52) scale(0.92,1)" font-size="4.6" fill="#000">DL-Glutamic acid</text>
<text transform="translate(297.45,126.6) rotate(90)" font-size="4.14" font-weight="bold" textLength="38.3" lengthAdjust="spacing" fill="#1a1a1a">L. casei-ΔPyrR-L-3</text>
<text transform="translate(302.62,126.6) rotate(90)" font-size="4.14" font-weight="bold" textLength="38.3" lengthAdjust="spacing" fill="#1a1a1a">L. casei-ΔPyrR-L-2</text>
<text transform="translate(307.79,126.6) rotate(90)" font-size="4.14" font-weight="bold" textLength="38.3" lengthAdjust="spacing" fill="#1a1a1a">L. casei-ΔPyrR-L-1</text>
<text transform="translate(312.96,126.6) rotate(90)" font-size="4.14" font-weight="bold" textLength="25.6" lengthAdjust="spacing" fill="#1a1a1a">L. casei-L-3</text>
<text transform="translate(318.13,126.6) rotate(90)" font-size="4.14" font-weight="bold" textLength="25.6" lengthAdjust="spacing" fill="#1a1a1a">L. casei-L-2</text>
<text transform="translate(323.3,126.6) rotate(90)" font-size="4.14" font-weight="bold" textLength="25.6" lengthAdjust="spacing" fill="#1a1a1a">L. casei-L-1</text>
<defs><linearGradient id="gB" x1="0" y1="0" x2="0" y2="1"><stop offset="0" stop-color="#e8191c"/><stop offset="0.26" stop-color="#f48a8a"/><stop offset="0.52" stop-color="#fbfbfd"/><stop offset="0.76" stop-color="#7a7ac4"/><stop offset="1" stop-color="#00007e"/></linearGradient></defs>
<rect x="400.9" y="39" width="3.9" height="63" fill="url(#gB)"/>
<text x="406.6" y="42.16" font-size="4.6" fill="#222">1.5</text>
<text x="406.6" y="52.76" font-size="4.6" fill="#222">1</text>
<text x="406.6" y="62.96" font-size="4.6" fill="#222">0.5</text>
<text x="406.6" y="73.36" font-size="4.6" fill="#222">0</text>
<text x="406.6" y="83.56" font-size="4.6" fill="#222">-0.5</text>
<text x="406.6" y="94.16" font-size="4.6" fill="#222">-1</text>
<text x="334.4" y="133.8" font-size="4.03" font-weight="bold" fill="#111">Group</text>
<rect x="334.4" y="135.3" width="6.5" height="6.3" fill="#1fd0da"/>
<rect x="334.4" y="141.6" width="6.5" height="5.9" fill="#f4837c"/>
<text x="342.8" y="139.75" font-size="3.96" font-style="italic" textLength="22.5" lengthAdjust="spacing" fill="#111">L. casei-L</text>
<text x="342.8" y="145.85" font-size="3.96" font-style="italic" textLength="33.9" lengthAdjust="spacing" fill="#111">L. casei-ΔPyrR-L</text>
<text x="248.6" y="11.8" class="ser" font-weight="bold" font-size="14.5" fill="#000">B</text>
<rect x="305.3" y="220.9" width="5.92" height="4.16" fill="#a8a8dc" stroke="#a8a8a8" stroke-width="0.18"/>
<rect x="311.22" y="220.9" width="5.92" height="4.16" fill="#4848b8" stroke="#a8a8a8" stroke-width="0.18"/>
<rect x="317.14" y="220.9" width="5.92" height="4.16" fill="#3838b0" stroke="#a8a8a8" stroke-width="0.18"/>
<rect x="323.06" y="220.9" width="5.92" height="4.16" fill="#d8d8f0" stroke="#a8a8a8" stroke-width="0.18"/>
<rect x="328.98" y="220.9" width="5.92" height="4.16" fill="#ff8888" stroke="#a8a8a8" stroke-width="0.18"/>
<rect x="334.9" y="220.9" width="5.92" height="4.16" fill="#ff1e1e" stroke="#a8a8a8" stroke-width="0.18"/>
<rect x="305.3" y="225.06" width="5.92" height="4.16" fill="#6868c4" stroke="#a8a8a8" stroke-width="0.18"/>
<rect x="311.22" y="225.06" width="5.92" height="4.16" fill="#7070c8" stroke="#a8a8a8" stroke-width="0.18"/>
<rect x="317.14" y="225.06" width="5.92" height="4.16" fill="#8080cc" stroke="#a8a8a8" stroke-width="0.18"/>
<rect x="323.06" y="225.06" width="5.92" height="4.16" fill="#c8c8e8" stroke="#a8a8a8" stroke-width="0.18"/>
<rect x="328.98" y="225.06" width="5.92" height="4.16" fill="#ff1616" stroke="#a8a8a8" stroke-width="0.18"/>
<rect x="334.9" y="225.06" width="5.92" height="4.16" fill="#ff8080" stroke="#a8a8a8" stroke-width="0.18"/>
<rect x="305.3" y="229.22" width="5.92" height="4.16" fill="#5858c0" stroke="#a8a8a8" stroke-width="0.18"/>
<rect x="311.22" y="229.22" width="5.92" height="4.16" fill="#2828a8" stroke="#a8a8a8" stroke-width="0.18"/>
<rect x="317.14" y="229.22" width="5.92" height="4.16" fill="#b0b0e0" stroke="#a8a8a8" stroke-width="0.18"/>
<rect x="323.06" y="229.22" width="5.92" height="4.16" fill="#e0e0f4" stroke="#a8a8a8" stroke-width="0.18"/>
<rect x="328.98" y="229.22" width="5.92" height="4.16" fill="#ff0e0e" stroke="#a8a8a8" stroke-width="0.18"/>
<rect x="334.9" y="229.22" width="5.92" height="4.16" fill="#ff9090" stroke="#a8a8a8" stroke-width="0.18"/>
<rect x="305.3" y="233.38" width="5.92" height="4.16" fill="#0c0c90" stroke="#a8a8a8" stroke-width="0.18"/>
<rect x="311.22" y="233.38" width="5.92" height="4.16" fill="#8888d0" stroke="#a8a8a8" stroke-width="0.18"/>
<rect x="317.14" y="233.38" width="5.92" height="4.16" fill="#b0b0e0" stroke="#a8a8a8" stroke-width="0.18"/>
<rect x="323.06" y="233.38" width="5.92" height="4.16" fill="#eeeef8" stroke="#a8a8a8" stroke-width="0.18"/>
<rect x="328.98" y="233.38" width="5.92" height="4.16" fill="#ff5050" stroke="#a8a8a8" stroke-width="0.18"/>
<rect x="334.9" y="233.38" width="5.92" height="4.16" fill="#ff6060" stroke="#a8a8a8" stroke-width="0.18"/>
<rect x="305.3" y="237.54" width="5.92" height="4.16" fill="#3838b0" stroke="#a8a8a8" stroke-width="0.18"/>
<rect x="311.22" y="237.54" width="5.92" height="4.16" fill="#7878c8" stroke="#a8a8a8" stroke-width="0.18"/>
<rect x="317.14" y="237.54" width="5.92" height="4.16" fill="#8888d0" stroke="#a8a8a8" stroke-width="0.18"/>
<rect x="323.06" y="237.54" width="5.92" height="4.16" fill="#ffe8e8" stroke="#a8a8a8" stroke-width="0.18"/>
<rect x="328.98" y="237.54" width="5.92" height="4.16" fill="#ff5050" stroke="#a8a8a8" stroke-width="0.18"/>
<rect x="334.9" y="237.54" width="5.92" height="4.16" fill="#ff6060" stroke="#a8a8a8" stroke-width="0.18"/>
<rect x="305.3" y="241.7" width="5.92" height="4.16" fill="#5050bc" stroke="#a8a8a8" stroke-width="0.18"/>
<rect x="311.22" y="241.7" width="5.92" height="4.16" fill="#6868c4" stroke="#a8a8a8" stroke-width="0.18"/>
<rect x="317.14" y="241.7" width="5.92" height="4.16" fill="#7070c8" stroke="#a8a8a8" stroke-width="0.18"/>
<rect x="323.06" y="241.7" width="5.92" height="4.16" fill="#f8f4f8" stroke="#a8a8a8" stroke-width="0.18"/>
<rect x="328.98" y="241.7" width="5.92" height="4.16" fill="#ff4848" stroke="#a8a8a8" stroke-width="0.18"/>
<rect x="334.9" y="241.7" width="5.92" height="4.16" fill="#ff5858" stroke="#a8a8a8" stroke-width="0.18"/>
<rect x="305.3" y="245.86" width="5.92" height="4.16" fill="#5858c0" stroke="#a8a8a8" stroke-width="0.18"/>
<rect x="311.22" y="245.86" width="5.92" height="4.16" fill="#6060c0" stroke="#a8a8a8" stroke-width="0.18"/>
<rect x="317.14" y="245.86" width="5.92" height="4.16" fill="#7070c8" stroke="#a8a8a8" stroke-width="0.18"/>
<rect x="323.06" y="245.86" width="5.92" height="4.16" fill="#e8e8f4" stroke="#a8a8a8" stroke-width="0.18"/>
<rect x="328.98" y="245.86" width="5.92" height="4.16" fill="#ff5858" stroke="#a8a8a8" stroke-width="0.18"/>
<rect x="334.9" y="245.86" width="5.92" height="4.16" fill="#ff2626" stroke="#a8a8a8" stroke-width="0.18"/>
<rect x="305.3" y="250.02" width="5.92" height="4.16" fill="#f8f8fc" stroke="#a8a8a8" stroke-width="0.18"/>
<rect x="311.22" y="250.02" width="5.92" height="4.16" fill="#1010a0" stroke="#a8a8a8" stroke-width="0.18"/>
<rect x="317.14" y="250.02" width="5.92" height="4.16" fill="#3030a8" stroke="#a8a8a8" stroke-width="0.18"/>
<rect x="323.06" y="250.02" width="5.92" height="4.16" fill="#ff1e1e" stroke="#a8a8a8" stroke-width="0.18"/>
<rect x="328.98" y="250.02" width="5.92" height="4.16" fill="#ffc0c0" stroke="#a8a8a8" stroke-width="0.18"/>
<rect x="334.9" y="250.02" width="5.92" height="4.16" fill="#ffd0d0" stroke="#a8a8a8" stroke-width="0.18"/>
<rect x="305.3" y="254.18" width="5.92" height="4.16" fill="#d8d8f0" stroke="#a8a8a8" stroke-width="0.18"/>
<rect x="311.22" y="254.18" width="5.92" height="4.16" fill="#2828a8" stroke="#a8a8a8" stroke-width="0.18"/>
<rect x="317.14" y="254.18" width="5.92" height="4.16" fill="#1818a0" stroke="#a8a8a8" stroke-width="0.18"/>
<rect x="323.06" y="254.18" width="5.92" height="4.16" fill="#ff4040" stroke="#a8a8a8" stroke-width="0.18"/>
<rect x="328.98" y="254.18" width="5.92" height="4.16" fill="#ffb0b0" stroke="#a8a8a8" stroke-width="0.18"/>
<rect x="334.9" y="254.18" width="5.92" height="4.16" fill="#ffb0b0" stroke="#a8a8a8" stroke-width="0.18"/>
<rect x="305.3" y="258.34" width="5.92" height="4.16" fill="#ffeef0" stroke="#a8a8a8" stroke-width="0.18"/>
<rect x="311.22" y="258.34" width="5.92" height="4.16" fill="#0c0c98" stroke="#a8a8a8" stroke-width="0.18"/>
<rect x="317.14" y="258.34" width="5.92" height="4.16" fill="#2020a0" stroke="#a8a8a8" stroke-width="0.18"/>
<rect x="323.06" y="258.34" width="5.92" height="4.16" fill="#ff8080" stroke="#a8a8a8" stroke-width="0.18"/>
<rect x="328.98" y="258.34" width="5.92" height="4.16" fill="#ffa8a8" stroke="#a8a8a8" stroke-width="0.18"/>
<rect x="334.9" y="258.34" width="5.92" height="4.16" fill="#ffa8a8" stroke="#a8a8a8" stroke-width="0.18"/>
<rect x="305.3" y="262.5" width="5.92" height="4.16" fill="#f8f8fc" stroke="#a8a8a8" stroke-width="0.18"/>
<rect x="311.22" y="262.5" width="5.92" height="4.16" fill="#1c1ca0" stroke="#a8a8a8" stroke-width="0.18"/>
<rect x="317.14" y="262.5" width="5.92" height="4.16" fill="#0c0c98" stroke="#a8a8a8" stroke-width="0.18"/>
<rect x="323.06" y="262.5" width="5.92" height="4.16" fill="#ff8080" stroke="#a8a8a8" stroke-width="0.18"/>
<rect x="328.98" y="262.5" width="5.92" height="4.16" fill="#ffb0b0" stroke="#a8a8a8" stroke-width="0.18"/>
<rect x="334.9" y="262.5" width="5.92" height="4.16" fill="#ffa0a0" stroke="#a8a8a8" stroke-width="0.18"/>
<rect x="305.3" y="266.66" width="5.92" height="4.16" fill="#f8f4f8" stroke="#a8a8a8" stroke-width="0.18"/>
<rect x="311.22" y="266.66" width="5.92" height="4.16" fill="#1818a0" stroke="#a8a8a8" stroke-width="0.18"/>
<rect x="317.14" y="266.66" width="5.92" height="4.16" fill="#1c1ca0" stroke="#a8a8a8" stroke-width="0.18"/>
<rect x="323.06" y="266.66" width="5.92" height="4.16" fill="#ff8080" stroke="#a8a8a8" stroke-width="0.18"/>
<rect x="328.98" y="266.66" width="5.92" height="4.16" fill="#ffd8d8" stroke="#a8a8a8" stroke-width="0.18"/>
<rect x="334.9" y="266.66" width="5.92" height="4.16" fill="#ff8080" stroke="#a8a8a8" stroke-width="0.18"/>
<rect x="305.3" y="270.82" width="5.92" height="4.16" fill="#0c0c90" stroke="#a8a8a8" stroke-width="0.18"/>
<rect x="311.22" y="270.82" width="5.92" height="4.16" fill="#8888d0" stroke="#a8a8a8" stroke-width="0.18"/>
<rect x="317.14" y="270.82" width="5.92" height="4.16" fill="#9090d4" stroke="#a8a8a8" stroke-width="0.18"/>
<rect x="323.06" y="270.82" width="5.92" height="4.16" fill="#ff2626" stroke="#a8a8a8" stroke-width="0.18"/>
<rect x="328.98" y="270.82" width="5.92" height="4.16" fill="#ffb0b0" stroke="#a8a8a8" stroke-width="0.18"/>
<rect x="334.9" y="270.82" width="5.92" height="4.16" fill="#ffa8a8" stroke="#a8a8a8" stroke-width="0.18"/>
<rect x="305.3" y="274.98" width="5.92" height="4.16" fill="#a0a0dc" stroke="#a8a8a8" stroke-width="0.18"/>
<rect x="311.22" y="274.98" width="5.92" height="4.16" fill="#7878c8" stroke="#a8a8a8" stroke-width="0.18"/>
<rect x="317.14" y="274.98" width="5.92" height="4.16" fill="#0c0c98" stroke="#a8a8a8" stroke-width="0.18"/>
<rect x="323.06" y="274.98" width="5.92" height="4.16" fill="#ff1e1e" stroke="#a8a8a8" stroke-width="0.18"/>
<rect x="328.98" y="274.98" width="5.92" height="4.16" fill="#ffb0b0" stroke="#a8a8a8" stroke-width="0.18"/>
<rect x="334.9" y="274.98" width="5.92" height="4.16" fill="#ffd0d0" stroke="#a8a8a8" stroke-width="0.18"/>
<rect x="305.3" y="279.14" width="5.92" height="4.16" fill="#6060c0" stroke="#a8a8a8" stroke-width="0.18"/>
<rect x="311.22" y="279.14" width="5.92" height="4.16" fill="#4040b8" stroke="#a8a8a8" stroke-width="0.18"/>
<rect x="317.14" y="279.14" width="5.92" height="4.16" fill="#7070c8" stroke="#a8a8a8" stroke-width="0.18"/>
<rect x="323.06" y="279.14" width="5.92" height="4.16" fill="#ff7070" stroke="#a8a8a8" stroke-width="0.18"/>
<rect x="328.98" y="279.14" width="5.92" height="4.16" fill="#ffa0a0" stroke="#a8a8a8" stroke-width="0.18"/>
<rect x="334.9" y="279.14" width="5.92" height="4.16" fill="#ff6060" stroke="#a8a8a8" stroke-width="0.18"/>
<rect x="305.3" y="283.3" width="5.92" height="4.16" fill="#7070c8" stroke="#a8a8a8" stroke-width="0.18"/>
<rect x="311.22" y="283.3" width="5.92" height="4.16" fill="#3030a8" stroke="#a8a8a8" stroke-width="0.18"/>
<rect x="317.14" y="283.3" width="5.92" height="4.16" fill="#6868c4" stroke="#a8a8a8" stroke-width="0.18"/>
<rect x="323.06" y="283.3" width="5.92" height="4.16" fill="#ff6868" stroke="#a8a8a8" stroke-width="0.18"/>
<rect x="328.98" y="283.3" width="5.92" height="4.16" fill="#ff9090" stroke="#a8a8a8" stroke-width="0.18"/>
<rect x="334.9" y="283.3" width="5.92" height="4.16" fill="#ff8080" stroke="#a8a8a8" stroke-width="0.18"/>
<rect x="305.3" y="287.46" width="5.92" height="4.16" fill="#9898d8" stroke="#a8a8a8" stroke-width="0.18"/>
<rect x="311.22" y="287.46" width="5.92" height="4.16" fill="#7070c8" stroke="#a8a8a8" stroke-width="0.18"/>
<rect x="317.14" y="287.46" width="5.92" height="4.16" fill="#0c0c98" stroke="#a8a8a8" stroke-width="0.18"/>
<rect x="323.06" y="287.46" width="5.92" height="4.16" fill="#ff7878" stroke="#a8a8a8" stroke-width="0.18"/>
<rect x="328.98" y="287.46" width="5.92" height="4.16" fill="#ff9898" stroke="#a8a8a8" stroke-width="0.18"/>
<rect x="334.9" y="287.46" width="5.92" height="4.16" fill="#ff7878" stroke="#a8a8a8" stroke-width="0.18"/>
<rect x="305.3" y="291.62" width="5.92" height="4.16" fill="#6868c4" stroke="#a8a8a8" stroke-width="0.18"/>
<rect x="311.22" y="291.62" width="5.92" height="4.16" fill="#8080d0" stroke="#a8a8a8" stroke-width="0.18"/>
<rect x="317.14" y="291.62" width="5.92" height="4.16" fill="#1414a0" stroke="#a8a8a8" stroke-width="0.18"/>
<rect x="323.06" y="291.62" width="5.92" height="4.16" fill="#ff8080" stroke="#a8a8a8" stroke-width="0.18"/>
<rect x="328.98" y="291.62" width="5.92" height="4.16" fill="#ff9898" stroke="#a8a8a8" stroke-width="0.18"/>
<rect x="334.9" y="291.62" width="5.92" height="4.16" fill="#ff6060" stroke="#a8a8a8" stroke-width="0.18"/>
<rect x="305.3" y="215.3" width="5.92" height="4.5" fill="#f4837c" stroke="#b0b0b0" stroke-width="0.2"/>
<rect x="311.22" y="215.3" width="5.92" height="4.5" fill="#f4837c" stroke="#b0b0b0" stroke-width="0.2"/>
<rect x="317.14" y="215.3" width="5.92" height="4.5" fill="#f4837c" stroke="#b0b0b0" stroke-width="0.2"/>
<rect x="323.06" y="215.3" width="5.92" height="4.5" fill="#1fd0da" stroke="#b0b0b0" stroke-width="0.2"/>
<rect x="328.98" y="215.3" width="5.92" height="4.5" fill="#1fd0da" stroke="#b0b0b0" stroke-width="0.2"/>
<rect x="334.9" y="215.3" width="5.92" height="4.5" fill="#1fd0da" stroke="#b0b0b0" stroke-width="0.2"/>
<path d="M305.3 227.14H297.5V231.3H305.3" fill="none" stroke="#555" stroke-width="0.55"/>
<path d="M305.3 235.46H298V239.62H305.3" fill="none" stroke="#555" stroke-width="0.55"/>
<path d="M305.3 243.78H298.5V247.94H305.3" fill="none" stroke="#555" stroke-width="0.55"/>
<path d="M298 237.54H296.5V245.86H298.5" fill="none" stroke="#555" stroke-width="0.55"/>
<path d="M297.5 229.22H295.5V241.7H296.5" fill="none" stroke="#555" stroke-width="0.55"/>
<path d="M305.3 222.98H292.5V235.46H295.5" fill="none" stroke="#555" stroke-width="0.55"/>
<path d="M305.3 252.1H298.5V256.26H305.3" fill="none" stroke="#555" stroke-width="0.55"/>
<path d="M305.3 264.58H299V268.74H305.3" fill="none" stroke="#555" stroke-width="0.55"/>
<path d="M305.3 260.42H297.5V266.66H299" fill="none" stroke="#555" stroke-width="0.55"/>
<path d="M298.5 254.18H296.6V263.54H297.5" fill="none" stroke="#555" stroke-width="0.55"/>
<path d="M305.3 277.06H297V281.22H305.3" fill="none" stroke="#555" stroke-width="0.55"/>
<path d="M305.3 289.54H298.5V293.7H305.3" fill="none" stroke="#555" stroke-width="0.55"/>
<path d="M305.3 285.38H296.5V291.62H298.5" fill="none" stroke="#555" stroke-width="0.55"/>
<path d="M297 279.14H294V288.5H296.5" fill="none" stroke="#555" stroke-width="0.55"/>
<path d="M305.3 272.9H291.8V283.82H294" fill="none" stroke="#555" stroke-width="0.55"/>
<path d="M296.6 258.86H284.5V278.36H291.8" fill="none" stroke="#555" stroke-width="0.55"/>
<path d="M292.5 229.22H279.5V268.61H284.5" fill="none" stroke="#555" stroke-width="0.55"/>
<path d="M314.18 215.3V210.3H320.1V215.3" fill="none" stroke="#555" stroke-width="0.55"/>
<path d="M308.26 215.3V203.9H317.14V210.3" fill="none" stroke="#555" stroke-width="0.55"/>
<path d="M331.94 215.3V210.6H337.86V215.3" fill="none" stroke="#555" stroke-width="0.55"/>
<path d="M326.02 215.3V202.4H334.9V210.6" fill="none" stroke="#555" stroke-width="0.55"/>
<path d="M312.7 203.9V190.5H330.46V202.4" fill="none" stroke="#555" stroke-width="0.55"/>
<text transform="translate(342.3,224.66) scale(1,1)" font-size="4.8" fill="#000">L-(+)-lactic acid</text>
<text transform="translate(342.3,228.82) scale(1,1)" font-size="4.8" fill="#000">Indole</text>
<text transform="translate(342.3,232.98) scale(1,1)" font-size="4.8" fill="#000">DL-threonine</text>
<text transform="translate(342.3,237.14) scale(1,1)" font-size="4.8" fill="#000">Phenylalanine</text>
<text transform="translate(342.3,241.3) scale(1,1)" font-size="4.8" fill="#000">DL-proline</text>
<text transform="translate(342.3,245.46) scale(1,1)" font-size="4.8" fill="#000">Phenyllactic acid</text>
<text transform="translate(342.3,249.62) scale(1,1)" font-size="4.8" fill="#000">DL-serine</text>
<text transform="translate(342.3,253.78) scale(1,1)" font-size="4.8" fill="#000">L-methionine</text>
<text transform="translate(342.3,257.94) scale(1,1)" font-size="4.8" fill="#000">Trans-traumatic acid</text>
<text transform="translate(342.3,262.1) scale(1,1)" font-size="4.8" fill="#000">Pseudopelletierine</text>
<text transform="translate(342.3,266.26) scale(1,1)" font-size="4.8" fill="#000">Histidine</text>
<text transform="translate(342.3,270.42) scale(1,1)" font-size="4.8" fill="#000">L-pipecolic acid</text>
<text transform="translate(342.3,274.58) scale(1,1)" font-size="4.8" fill="#000">D-ornithine</text>
<text transform="translate(342.3,278.74) scale(1,1)" font-size="4.8" fill="#000">Citrate</text>
<text transform="translate(342.3,282.9) scale(1,1)" font-size="4.8" fill="#000">5-aminolevulinic acid</text>
<text transform="translate(342.3,287.06) scale(1,1)" font-size="4.8" fill="#000">Tryptophan</text>
<text transform="translate(342.3,291.22) scale(1,1)" font-size="4.8" fill="#000">1-Aminocyclopropanecarboxylic acid</text>
<text transform="translate(342.3,295.38) scale(1,1)" font-size="4.8" fill="#000">DL-Glutamic acid</text>
<text transform="translate(306.82,299) rotate(90)" font-size="4.48" font-weight="bold" textLength="42.3" lengthAdjust="spacing" fill="#1a1a1a">L. casei-ΔPyrR-L-3</text>
<text transform="translate(312.74,299) rotate(90)" font-size="4.48" font-weight="bold" textLength="42.3" lengthAdjust="spacing" fill="#1a1a1a">L. casei-ΔPyrR-L-2</text>
<text transform="translate(318.66,299) rotate(90)" font-size="4.48" font-weight="bold" textLength="42.3" lengthAdjust="spacing" fill="#1a1a1a">L. casei-ΔPyrR-L-1</text>
<text transform="translate(324.58,299) rotate(90)" font-size="4.48" font-weight="bold" textLength="28.4" lengthAdjust="spacing" fill="#1a1a1a">L. casei-L-3</text>
<text transform="translate(330.5,299) rotate(90)" font-size="4.48" font-weight="bold" textLength="28.4" lengthAdjust="spacing" fill="#1a1a1a">L. casei-L-2</text>
<text transform="translate(336.42,299) rotate(90)" font-size="4.48" font-weight="bold" textLength="28.4" lengthAdjust="spacing" fill="#1a1a1a">L. casei-L-1</text>
<defs><linearGradient id="gC" x1="0" y1="0" x2="0" y2="1"><stop offset="0" stop-color="#e8191c"/><stop offset="0.27" stop-color="#f48a8a"/><stop offset="0.53" stop-color="#fbfbfd"/><stop offset="0.77" stop-color="#7a7ac4"/><stop offset="1" stop-color="#00007e"/></linearGradient></defs>
<rect x="394" y="214.8" width="4.9" height="69.1" fill="url(#gC)"/>
<text x="400.5" y="218.24" font-size="5.1" fill="#222">1.5</text>
<text x="400.5" y="229.74" font-size="5.1" fill="#222">1</text>
<text x="400.5" y="241.64" font-size="5.1" fill="#222">0.5</text>
<text x="400.5" y="253.44" font-size="5.1" fill="#222">0</text>
<text x="400.5" y="264.94" font-size="5.1" fill="#222">-0.5</text>
<text x="400.5" y="276.94" font-size="5.1" fill="#222">-1</text>
<text x="349.6" y="300.84" font-size="4.48" font-weight="bold" fill="#111">Group</text>
<rect x="349.6" y="302.7" width="7.7" height="6.9" fill="#1fd0da"/>
<rect x="349.6" y="309.6" width="7.7" height="6.4" fill="#f4837c"/>
<text x="359.6" y="307.59" font-size="4.4" font-style="italic" textLength="24.1" lengthAdjust="spacing" fill="#111">L. casei-L</text>
<text x="359.6" y="314.24" font-size="4.4" font-style="italic" textLength="38.8" lengthAdjust="spacing" fill="#111">L. casei-ΔPyrR-L</text>
<text x="248.3" y="187.3" class="ser" font-weight="bold" font-size="14.5" fill="#000">C</text>
<line x1="199.5" y1="467.8" x2="235.3" y2="436.3" stroke="#1010ff" stroke-width="0.94" stroke-opacity="0.88"/>
<line x1="225.6" y1="511.2" x2="257.5" y2="521.4" stroke="#1010ff" stroke-width="0.72" stroke-opacity="0.93"/>
<line x1="183" y1="435.8" x2="294.9" y2="462.4" stroke="#1010ff" stroke-width="1.01" stroke-opacity="0.77"/>
<line x1="147.5" y1="520.3" x2="274.5" y2="508.4" stroke="#1010ff" stroke-width="0.32" stroke-opacity="0.4"/>
<line x1="94.8" y1="504.4" x2="235.3" y2="436.3" stroke="#1010ff" stroke-width="0.58" stroke-opacity="0.64"/>
<line x1="168.5" y1="480.5" x2="250.9" y2="442" stroke="#1010ff" stroke-width="0.41" stroke-opacity="0.63"/>
<line x1="207" y1="444" x2="265.7" y2="429.8" stroke="#ff1010" stroke-width="0.51" stroke-opacity="0.99"/>
<line x1="200.6" y1="495.9" x2="257.5" y2="521.4" stroke="#1010ff" stroke-width="0.76" stroke-opacity="0.92"/>
<line x1="251.5" y1="419.3" x2="233.3" y2="474.3" stroke="#1010ff" stroke-width="0.86" stroke-opacity="0.92"/>
<line x1="111.2" y1="522.6" x2="313.5" y2="452" stroke="#ff1010" stroke-width="0.34" stroke-opacity="0.42"/>
<line x1="265.7" y1="429.8" x2="209.4" y2="522.6" stroke="#1010ff" stroke-width="0.95" stroke-opacity="0.98"/>
<line x1="199.5" y1="467.8" x2="291.2" y2="500.7" stroke="#ff1010" stroke-width="0.9" stroke-opacity="0.84"/>
<line x1="260.9" y1="460.7" x2="233.3" y2="474.3" stroke="#1010ff" stroke-width="0.82" stroke-opacity="0.95"/>
<line x1="111.2" y1="522.6" x2="265.7" y2="429.8" stroke="#ff1010" stroke-width="0.31" stroke-opacity="0.41"/>
<line x1="244.3" y1="490.4" x2="209.4" y2="522.6" stroke="#1010ff" stroke-width="1" stroke-opacity="0.94"/>
<line x1="183" y1="435.8" x2="243" y2="460.1" stroke="#1010ff" stroke-width="0.54" stroke-opacity="0.98"/>
<line x1="199.5" y1="467.8" x2="244.3" y2="490.4" stroke="#1010ff" stroke-width="1.1" stroke-opacity="0.98"/>
<line x1="195.6" y1="514" x2="341" y2="471" stroke="#1010ff" stroke-width="0.61" stroke-opacity="0.82"/>
<line x1="147.5" y1="520.3" x2="275.9" y2="480.3" stroke="#1010ff" stroke-width="0.43" stroke-opacity="0.36"/>
<line x1="183" y1="435.8" x2="322" y2="539" stroke="#1010ff" stroke-width="0.42" stroke-opacity="0.63"/>
<line x1="147.5" y1="520.3" x2="257.5" y2="521.4" stroke="#1010ff" stroke-width="0.34" stroke-opacity="0.58"/>
<line x1="122" y1="542.7" x2="294.9" y2="462.4" stroke="#1010ff" stroke-width="0.54" stroke-opacity="0.54"/>
<line x1="257.5" y1="521.4" x2="242.8" y2="539" stroke="#1010ff" stroke-width="0.98" stroke-opacity="0.97"/>
<line x1="243" y1="460.1" x2="200.6" y2="495.9" stroke="#1010ff" stroke-width="0.68" stroke-opacity="0.79"/>
<line x1="207" y1="444" x2="325.4" y2="508.4" stroke="#1010ff" stroke-width="0.74" stroke-opacity="0.75"/>
<line x1="195.6" y1="514" x2="266.5" y2="544.7" stroke="#ff1010" stroke-width="0.83" stroke-opacity="0.79"/>
<line x1="91.3" y1="469.5" x2="283.2" y2="541.2" stroke="#ff1010" stroke-width="0.54" stroke-opacity="0.66"/>
<line x1="233.3" y1="474.3" x2="275.9" y2="480.3" stroke="#1010ff" stroke-width="0.58" stroke-opacity="0.93"/>
<line x1="301.3" y1="425.5" x2="209.4" y2="522.6" stroke="#1010ff" stroke-width="0.38" stroke-opacity="0.76"/>
<line x1="233.3" y1="474.3" x2="279.1" y2="362.1" stroke="#ff1010" stroke-width="0.31" stroke-opacity="0.8"/>
<line x1="99.3" y1="445.4" x2="301.3" y2="425.5" stroke="#ff1010" stroke-width="0.34" stroke-opacity="0.38"/>
<line x1="195.6" y1="514" x2="235.3" y2="436.3" stroke="#1010ff" stroke-width="0.88" stroke-opacity="0.78"/>
<line x1="135.3" y1="490.2" x2="263.1" y2="499.9" stroke="#ff1010" stroke-width="0.34" stroke-opacity="0.55"/>
<line x1="199.5" y1="467.8" x2="294.9" y2="462.4" stroke="#1010ff" stroke-width="0.74" stroke-opacity="0.8"/>
<line x1="207" y1="444" x2="278.4" y2="461" stroke="#1010ff" stroke-width="1.03" stroke-opacity="0.9"/>
<line x1="116.3" y1="429.5" x2="244.3" y2="490.4" stroke="#ff1010" stroke-width="0.51" stroke-opacity="0.63"/>
<line x1="168.5" y1="480.5" x2="275.9" y2="480.3" stroke="#1010ff" stroke-width="0.33" stroke-opacity="0.52"/>
<line x1="209.4" y1="522.6" x2="329.6" y2="416.5" stroke="#1010ff" stroke-width="0.58" stroke-opacity="0.7"/>
<line x1="177.9" y1="458.7" x2="257.5" y2="521.4" stroke="#1010ff" stroke-width="0.59" stroke-opacity="0.88"/>
<line x1="195.6" y1="514" x2="251.5" y2="419.3" stroke="#1010ff" stroke-width="0.73" stroke-opacity="0.76"/>
<line x1="214.2" y1="484.9" x2="292.9" y2="524.8" stroke="#1010ff" stroke-width="0.67" stroke-opacity="0.84"/>
<line x1="151.5" y1="428.4" x2="277.9" y2="441.1" stroke="#1010ff" stroke-width="0.36" stroke-opacity="0.36"/>
<line x1="225.6" y1="511.2" x2="325.4" y2="508.4" stroke="#1010ff" stroke-width="0.6" stroke-opacity="0.72"/>
<line x1="116.3" y1="429.5" x2="265.7" y2="429.8" stroke="#ff1010" stroke-width="0.45" stroke-opacity="0.41"/>
<line x1="183" y1="435.8" x2="274.5" y2="508.4" stroke="#1010ff" stroke-width="0.71" stroke-opacity="0.75"/>
<line x1="242.8" y1="539" x2="329.6" y2="416.5" stroke="#ff1010" stroke-width="0.42" stroke-opacity="0.71"/>
<line x1="213.5" y1="458.7" x2="322" y2="483" stroke="#1010ff" stroke-width="0.64" stroke-opacity="0.97"/>
<line x1="214.2" y1="484.9" x2="322" y2="483" stroke="#1010ff" stroke-width="0.57" stroke-opacity="0.77"/>
<line x1="225.6" y1="511.2" x2="305" y2="483.7" stroke="#1010ff" stroke-width="0.51" stroke-opacity="0.78"/>
<line x1="207" y1="444" x2="235.3" y2="436.3" stroke="#1010ff" stroke-width="1.04" stroke-opacity="0.95"/>
<line x1="135.3" y1="490.2" x2="244.3" y2="490.4" stroke="#1010ff" stroke-width="0.53" stroke-opacity="0.67"/>
<line x1="235.3" y1="436.3" x2="209.4" y2="522.6" stroke="#1010ff" stroke-width="0.89" stroke-opacity="0.91"/>
<line x1="199.5" y1="467.8" x2="325.4" y2="508.4" stroke="#1010ff" stroke-width="0.69" stroke-opacity="0.96"/>
<line x1="214.2" y1="484.9" x2="325.4" y2="508.4" stroke="#1010ff" stroke-width="0.59" stroke-opacity="0.6"/>
<line x1="250.9" y1="442" x2="214.2" y2="484.9" stroke="#1010ff" stroke-width="0.67" stroke-opacity="0.81"/>
<line x1="195.6" y1="514" x2="279.1" y2="362.1" stroke="#ff1010" stroke-width="0.4" stroke-opacity="0.83"/>
<line x1="108.4" y1="486" x2="278.4" y2="461" stroke="#ff1010" stroke-width="0.36" stroke-opacity="0.66"/>
<line x1="250.9" y1="442" x2="233.3" y2="474.3" stroke="#1010ff" stroke-width="1.09" stroke-opacity="0.76"/>
<line x1="207" y1="444" x2="313.5" y2="452" stroke="#1010ff" stroke-width="0.79" stroke-opacity="0.8"/>
<line x1="233.3" y1="474.3" x2="292.9" y2="524.8" stroke="#1010ff" stroke-width="0.57" stroke-opacity="0.98"/>
<line x1="251.5" y1="419.3" x2="209.4" y2="522.6" stroke="#1010ff" stroke-width="0.84" stroke-opacity="0.85"/>
<line x1="94.8" y1="504.4" x2="283.2" y2="541.2" stroke="#ff1010" stroke-width="0.3" stroke-opacity="0.52"/>
<line x1="243" y1="460.1" x2="242.8" y2="539" stroke="#1010ff" stroke-width="1.1" stroke-opacity="0.88"/>
<line x1="183" y1="435.8" x2="301.3" y2="425.5" stroke="#1010ff" stroke-width="0.38" stroke-opacity="0.88"/>
<line x1="243" y1="460.1" x2="233.3" y2="474.3" stroke="#1010ff" stroke-width="0.77" stroke-opacity="0.93"/>
<line x1="116.3" y1="429.5" x2="266.5" y2="544.7" stroke="#ff1010" stroke-width="0.43" stroke-opacity="0.59"/>
<line x1="199.5" y1="467.8" x2="250.9" y2="442" stroke="#1010ff" stroke-width="0.63" stroke-opacity="0.94"/>
<line x1="244.3" y1="490.4" x2="242.8" y2="539" stroke="#1010ff" stroke-width="1" stroke-opacity="0.81"/>
<line x1="214.2" y1="484.9" x2="266.5" y2="544.7" stroke="#1010ff" stroke-width="0.92" stroke-opacity="0.86"/>
<line x1="233.3" y1="474.3" x2="329.6" y2="416.5" stroke="#1010ff" stroke-width="0.37" stroke-opacity="0.72"/>
<line x1="183" y1="435.8" x2="325.4" y2="508.4" stroke="#1010ff" stroke-width="0.38" stroke-opacity="0.9"/>
<line x1="108.4" y1="486" x2="283.2" y2="541.2" stroke="#ff1010" stroke-width="0.55" stroke-opacity="0.5"/>
<line x1="147.5" y1="520.3" x2="281.3" y2="409" stroke="#1010ff" stroke-width="0.38" stroke-opacity="0.37"/>
<line x1="183" y1="435.8" x2="235.3" y2="436.3" stroke="#1010ff" stroke-width="0.58" stroke-opacity="0.86"/>
<line x1="147.5" y1="520.3" x2="313.5" y2="452" stroke="#1010ff" stroke-width="0.28" stroke-opacity="0.42"/>
<line x1="177.9" y1="458.7" x2="313.5" y2="452" stroke="#ff1010" stroke-width="0.7" stroke-opacity="0.69"/>
<line x1="91.3" y1="469.5" x2="322" y2="483" stroke="#1010ff" stroke-width="0.33" stroke-opacity="0.46"/>
<line x1="214.2" y1="484.9" x2="283.2" y2="541.2" stroke="#1010ff" stroke-width="0.69" stroke-opacity="0.87"/>
<line x1="294.9" y1="462.4" x2="214.2" y2="484.9" stroke="#1010ff" stroke-width="0.52" stroke-opacity="0.92"/>
<line x1="111.2" y1="522.6" x2="243" y2="460.1" stroke="#ff1010" stroke-width="0.48" stroke-opacity="0.53"/>
<line x1="135.3" y1="490.2" x2="277.9" y2="441.1" stroke="#ff1010" stroke-width="0.55" stroke-opacity="0.44"/>
<line x1="151.5" y1="428.4" x2="305" y2="483.7" stroke="#1010ff" stroke-width="0.38" stroke-opacity="0.62"/>
<line x1="301.3" y1="425.5" x2="242.8" y2="539" stroke="#1010ff" stroke-width="0.5" stroke-opacity="0.74"/>
<line x1="183" y1="435.8" x2="250.9" y2="442" stroke="#1010ff" stroke-width="0.59" stroke-opacity="0.98"/>
<line x1="213.5" y1="458.7" x2="341" y2="471" stroke="#1010ff" stroke-width="0.49" stroke-opacity="0.77"/>
<line x1="111.2" y1="522.6" x2="244.3" y2="490.4" stroke="#ff1010" stroke-width="0.55" stroke-opacity="0.68"/>
<line x1="213.5" y1="458.7" x2="292.9" y2="524.8" stroke="#1010ff" stroke-width="0.61" stroke-opacity="0.76"/>
<line x1="214.2" y1="484.9" x2="313.5" y2="452" stroke="#ff1010" stroke-width="0.8" stroke-opacity="0.9"/>
<line x1="168.5" y1="480.5" x2="313.5" y2="452" stroke="#1010ff" stroke-width="0.37" stroke-opacity="0.46"/>
<line x1="213.5" y1="458.7" x2="244.3" y2="490.4" stroke="#1010ff" stroke-width="1.05" stroke-opacity="0.9"/>
<line x1="177.9" y1="458.7" x2="251.5" y2="419.3" stroke="#1010ff" stroke-width="0.58" stroke-opacity="0.8"/>
<line x1="207" y1="444" x2="281.3" y2="409" stroke="#1010ff" stroke-width="0.59" stroke-opacity="0.81"/>
<line x1="214.2" y1="484.9" x2="341" y2="471" stroke="#1010ff" stroke-width="0.67" stroke-opacity="0.99"/>
<line x1="242.8" y1="539" x2="341" y2="471" stroke="#1010ff" stroke-width="0.53" stroke-opacity="0.68"/>
<line x1="199.5" y1="467.8" x2="313.5" y2="452" stroke="#ff1010" stroke-width="0.53" stroke-opacity="0.92"/>
<line x1="180.8" y1="507.2" x2="243" y2="460.1" stroke="#1010ff" stroke-width="0.99" stroke-opacity="0.79"/>
<line x1="122" y1="542.7" x2="257.5" y2="521.4" stroke="#ff1010" stroke-width="0.55" stroke-opacity="0.52"/>
<line x1="277.9" y1="441.1" x2="233.3" y2="474.3" stroke="#1010ff" stroke-width="0.72" stroke-opacity="0.9"/>
<line x1="225.6" y1="511.2" x2="266.5" y2="544.7" stroke="#1010ff" stroke-width="0.83" stroke-opacity="0.95"/>
<line x1="168.5" y1="480.5" x2="260.9" y2="460.7" stroke="#1010ff" stroke-width="0.25" stroke-opacity="0.45"/>
<line x1="108.4" y1="486" x2="291.2" y2="500.7" stroke="#ff1010" stroke-width="0.33" stroke-opacity="0.57"/>
<line x1="177.9" y1="458.7" x2="301.3" y2="425.5" stroke="#1010ff" stroke-width="0.54" stroke-opacity="0.81"/>
<line x1="233.3" y1="474.3" x2="266.5" y2="544.7" stroke="#ff1010" stroke-width="0.6" stroke-opacity="0.8"/>
<line x1="183" y1="435.8" x2="292.9" y2="524.8" stroke="#1010ff" stroke-width="0.78" stroke-opacity="0.98"/>
<line x1="183" y1="435.8" x2="329.6" y2="416.5" stroke="#1010ff" stroke-width="0.58" stroke-opacity="0.88"/>
<line x1="177.9" y1="458.7" x2="322" y2="483" stroke="#1010ff" stroke-width="0.41" stroke-opacity="0.7"/>
<line x1="225.6" y1="511.2" x2="329.6" y2="416.5" stroke="#1010ff" stroke-width="0.44" stroke-opacity="0.78"/>
<line x1="168.5" y1="480.5" x2="281.3" y2="409" stroke="#1010ff" stroke-width="0.32" stroke-opacity="0.39"/>
<line x1="207" y1="444" x2="243" y2="460.1" stroke="#1010ff" stroke-width="0.59" stroke-opacity="0.98"/>
<line x1="251.5" y1="419.3" x2="225.6" y2="511.2" stroke="#1010ff" stroke-width="0.85" stroke-opacity="0.8"/>
<line x1="151.5" y1="428.4" x2="265.7" y2="429.8" stroke="#1010ff" stroke-width="0.42" stroke-opacity="0.4"/>
<line x1="91.3" y1="469.5" x2="301.3" y2="425.5" stroke="#ff1010" stroke-width="0.38" stroke-opacity="0.48"/>
<line x1="180.8" y1="507.2" x2="283.2" y2="541.2" stroke="#1010ff" stroke-width="0.95" stroke-opacity="0.99"/>
<line x1="177.9" y1="458.7" x2="265.7" y2="429.8" stroke="#1010ff" stroke-width="0.71" stroke-opacity="0.77"/>
<line x1="108.4" y1="486" x2="305" y2="483.7" stroke="#1010ff" stroke-width="0.37" stroke-opacity="0.49"/>
<line x1="94.8" y1="504.4" x2="266.5" y2="544.7" stroke="#ff1010" stroke-width="0.37" stroke-opacity="0.63"/>
<line x1="200.6" y1="495.9" x2="313.5" y2="452" stroke="#1010ff" stroke-width="0.56" stroke-opacity="0.99"/>
<line x1="147.5" y1="520.3" x2="251.5" y2="419.3" stroke="#1010ff" stroke-width="0.35" stroke-opacity="0.45"/>
<line x1="243" y1="460.1" x2="214.2" y2="484.9" stroke="#1010ff" stroke-width="0.69" stroke-opacity="0.95"/>
<line x1="94.8" y1="504.4" x2="265.7" y2="429.8" stroke="#1010ff" stroke-width="0.54" stroke-opacity="0.44"/>
<line x1="168.5" y1="480.5" x2="277.9" y2="441.1" stroke="#1010ff" stroke-width="0.37" stroke-opacity="0.54"/>
<line x1="199.5" y1="467.8" x2="322" y2="539" stroke="#1010ff" stroke-width="0.47" stroke-opacity="0.98"/>
<line x1="244.3" y1="490.4" x2="200.6" y2="495.9" stroke="#1010ff" stroke-width="1.06" stroke-opacity="0.91"/>
<line x1="278.4" y1="461" x2="225.6" y2="511.2" stroke="#1010ff" stroke-width="1.03" stroke-opacity="0.9"/>
<line x1="151.5" y1="428.4" x2="250.9" y2="442" stroke="#ff1010" stroke-width="0.44" stroke-opacity="0.51"/>
<line x1="122" y1="542.7" x2="265.7" y2="429.8" stroke="#ff1010" stroke-width="0.43" stroke-opacity="0.55"/>
<line x1="301.3" y1="425.5" x2="233.3" y2="474.3" stroke="#1010ff" stroke-width="0.46" stroke-opacity="0.69"/>
<line x1="183" y1="435.8" x2="341" y2="471" stroke="#1010ff" stroke-width="0.72" stroke-opacity="0.88"/>
<line x1="250.9" y1="442" x2="209.4" y2="522.6" stroke="#ff1010" stroke-width="0.98" stroke-opacity="0.84"/>
<line x1="242.8" y1="539" x2="322" y2="539" stroke="#1010ff" stroke-width="0.68" stroke-opacity="0.99"/>
<line x1="199.5" y1="467.8" x2="275.9" y2="480.3" stroke="#1010ff" stroke-width="0.53" stroke-opacity="0.77"/>
<line x1="294.9" y1="462.4" x2="200.6" y2="495.9" stroke="#1010ff" stroke-width="0.66" stroke-opacity="0.96"/>
<line x1="207" y1="444" x2="266.5" y2="544.7" stroke="#1010ff" stroke-width="0.88" stroke-opacity="0.91"/>
<line x1="214.2" y1="484.9" x2="329.6" y2="416.5" stroke="#1010ff" stroke-width="0.43" stroke-opacity="0.63"/>
<line x1="199.5" y1="467.8" x2="305" y2="483.7" stroke="#ff1010" stroke-width="0.52" stroke-opacity="0.77"/>
<line x1="116.3" y1="429.5" x2="292.9" y2="524.8" stroke="#ff1010" stroke-width="0.37" stroke-opacity="0.54"/>
<line x1="199.5" y1="467.8" x2="329.6" y2="416.5" stroke="#1010ff" stroke-width="0.51" stroke-opacity="0.96"/>
<line x1="235.3" y1="436.3" x2="200.6" y2="495.9" stroke="#1010ff" stroke-width="0.99" stroke-opacity="0.77"/>
<line x1="147.5" y1="520.3" x2="266.5" y2="544.7" stroke="#1010ff" stroke-width="0.29" stroke-opacity="0.44"/>
<line x1="168.5" y1="480.5" x2="294.9" y2="462.4" stroke="#1010ff" stroke-width="0.31" stroke-opacity="0.41"/>
<line x1="265.7" y1="429.8" x2="200.6" y2="495.9" stroke="#1010ff" stroke-width="0.52" stroke-opacity="0.81"/>
<line x1="168.5" y1="480.5" x2="257.5" y2="521.4" stroke="#ff1010" stroke-width="0.43" stroke-opacity="0.48"/>
<line x1="251.5" y1="419.3" x2="242.8" y2="539" stroke="#1010ff" stroke-width="0.56" stroke-opacity="0.91"/>
<line x1="134.5" y1="459.6" x2="281.3" y2="409" stroke="#ff1010" stroke-width="0.46" stroke-opacity="0.73"/>
<line x1="209.4" y1="522.6" x2="325.4" y2="508.4" stroke="#ff1010" stroke-width="0.6" stroke-opacity="0.91"/>
<line x1="180.8" y1="507.2" x2="244.3" y2="490.4" stroke="#1010ff" stroke-width="0.56" stroke-opacity="0.81"/>
<line x1="207" y1="444" x2="322" y2="483" stroke="#ff1010" stroke-width="0.67" stroke-opacity="0.85"/>
<line x1="243" y1="460.1" x2="225.6" y2="511.2" stroke="#1010ff" stroke-width="1.01" stroke-opacity="0.96"/>
<line x1="134.5" y1="459.6" x2="275.9" y2="480.3" stroke="#ff1010" stroke-width="0.3" stroke-opacity="0.57"/>
<line x1="180.8" y1="507.2" x2="313.5" y2="452" stroke="#1010ff" stroke-width="0.75" stroke-opacity="0.73"/>
<line x1="134.5" y1="459.6" x2="250.9" y2="442" stroke="#1010ff" stroke-width="0.58" stroke-opacity="0.47"/>
<line x1="199.5" y1="467.8" x2="279.1" y2="362.1" stroke="#1010ff" stroke-width="0.37" stroke-opacity="0.75"/>
<line x1="199.5" y1="467.8" x2="266.5" y2="544.7" stroke="#ff1010" stroke-width="0.78" stroke-opacity="0.84"/>
<line x1="147.5" y1="520.3" x2="322" y2="483" stroke="#1010ff" stroke-width="0.32" stroke-opacity="0.41"/>
<line x1="233.3" y1="474.3" x2="341" y2="471" stroke="#1010ff" stroke-width="0.73" stroke-opacity="0.83"/>
<line x1="199.5" y1="467.8" x2="257.5" y2="521.4" stroke="#1010ff" stroke-width="1.08" stroke-opacity="0.8"/>
<line x1="177.9" y1="458.7" x2="243" y2="460.1" stroke="#1010ff" stroke-width="0.7" stroke-opacity="0.77"/>
<line x1="199.5" y1="467.8" x2="243" y2="460.1" stroke="#1010ff" stroke-width="0.63" stroke-opacity="0.85"/>
<line x1="225.6" y1="511.2" x2="283.2" y2="541.2" stroke="#1010ff" stroke-width="1.06" stroke-opacity="0.92"/>
<line x1="111.2" y1="522.6" x2="257.5" y2="521.4" stroke="#ff1010" stroke-width="0.38" stroke-opacity="0.5"/>
<line x1="209.4" y1="522.6" x2="266.5" y2="544.7" stroke="#ff1010" stroke-width="0.59" stroke-opacity="0.92"/>
<line x1="207" y1="444" x2="283.2" y2="541.2" stroke="#ff1010" stroke-width="0.87" stroke-opacity="0.92"/>
<line x1="213.5" y1="458.7" x2="260.9" y2="460.7" stroke="#1010ff" stroke-width="0.68" stroke-opacity="0.9"/>
<line x1="177.9" y1="458.7" x2="244.3" y2="490.4" stroke="#1010ff" stroke-width="1.02" stroke-opacity="0.76"/>
<line x1="213.5" y1="458.7" x2="235.3" y2="436.3" stroke="#1010ff" stroke-width="0.75" stroke-opacity="0.89"/>
<line x1="233.3" y1="474.3" x2="322" y2="483" stroke="#1010ff" stroke-width="0.55" stroke-opacity="0.87"/>
<line x1="214.2" y1="484.9" x2="263.1" y2="499.9" stroke="#1010ff" stroke-width="0.84" stroke-opacity="0.83"/>
<line x1="177.9" y1="458.7" x2="275.9" y2="480.3" stroke="#1010ff" stroke-width="0.74" stroke-opacity="0.86"/>
<line x1="199.5" y1="467.8" x2="251.5" y2="419.3" stroke="#1010ff" stroke-width="1.08" stroke-opacity="0.83"/>
<line x1="243" y1="460.1" x2="209.4" y2="522.6" stroke="#1010ff" stroke-width="0.76" stroke-opacity="0.98"/>
<line x1="213.5" y1="458.7" x2="243" y2="460.1" stroke="#1010ff" stroke-width="0.98" stroke-opacity="0.83"/>
<line x1="168.5" y1="480.5" x2="266.5" y2="544.7" stroke="#1010ff" stroke-width="0.25" stroke-opacity="0.52"/>
<line x1="180.8" y1="507.2" x2="250.9" y2="442" stroke="#1010ff" stroke-width="0.54" stroke-opacity="0.94"/>
<line x1="168.5" y1="480.5" x2="305" y2="483.7" stroke="#1010ff" stroke-width="0.31" stroke-opacity="0.51"/>
<line x1="195.6" y1="514" x2="263.1" y2="499.9" stroke="#1010ff" stroke-width="0.75" stroke-opacity="0.95"/>
<line x1="180.8" y1="507.2" x2="277.9" y2="441.1" stroke="#ff1010" stroke-width="0.83" stroke-opacity="0.99"/>
<line x1="235.3" y1="436.3" x2="225.6" y2="511.2" stroke="#1010ff" stroke-width="0.84" stroke-opacity="0.86"/>
<line x1="99.3" y1="445.4" x2="243" y2="460.1" stroke="#ff1010" stroke-width="0.54" stroke-opacity="0.46"/>
<line x1="207" y1="444" x2="251.5" y2="419.3" stroke="#1010ff" stroke-width="1" stroke-opacity="0.91"/>
<line x1="195.6" y1="514" x2="243" y2="460.1" stroke="#1010ff" stroke-width="0.59" stroke-opacity="0.9"/>
<line x1="195.6" y1="514" x2="292.9" y2="524.8" stroke="#1010ff" stroke-width="0.89" stroke-opacity="0.94"/>
<line x1="151.5" y1="428.4" x2="266.5" y2="544.7" stroke="#1010ff" stroke-width="0.37" stroke-opacity="0.62"/>
<line x1="91.3" y1="469.5" x2="305" y2="483.7" stroke="#ff1010" stroke-width="0.52" stroke-opacity="0.49"/>
<line x1="135.3" y1="490.2" x2="292.9" y2="524.8" stroke="#ff1010" stroke-width="0.45" stroke-opacity="0.53"/>
<line x1="94.8" y1="504.4" x2="257.5" y2="521.4" stroke="#ff1010" stroke-width="0.31" stroke-opacity="0.45"/>
<line x1="135.3" y1="490.2" x2="291.2" y2="500.7" stroke="#ff1010" stroke-width="0.43" stroke-opacity="0.58"/>
<line x1="235.3" y1="436.3" x2="233.3" y2="474.3" stroke="#1010ff" stroke-width="0.88" stroke-opacity="0.93"/>
<line x1="225.6" y1="511.2" x2="274.5" y2="508.4" stroke="#1010ff" stroke-width="0.95" stroke-opacity="0.84"/>
<line x1="122" y1="542.7" x2="235.3" y2="436.3" stroke="#ff1010" stroke-width="0.6" stroke-opacity="0.52"/>
<line x1="250.9" y1="442" x2="225.6" y2="511.2" stroke="#ff1010" stroke-width="0.94" stroke-opacity="0.82"/>
<line x1="151.5" y1="428.4" x2="278.4" y2="461" stroke="#1010ff" stroke-width="0.32" stroke-opacity="0.4"/>
<line x1="242.8" y1="539" x2="279.1" y2="362.1" stroke="#1010ff" stroke-width="0.32" stroke-opacity="0.78"/>
<line x1="213.5" y1="458.7" x2="301.3" y2="425.5" stroke="#1010ff" stroke-width="0.58" stroke-opacity="0.99"/>
<line x1="200.6" y1="495.9" x2="263.1" y2="499.9" stroke="#1010ff" stroke-width="0.93" stroke-opacity="0.75"/>
<line x1="301.3" y1="425.5" x2="214.2" y2="484.9" stroke="#ff1010" stroke-width="0.51" stroke-opacity="0.94"/>
<line x1="151.5" y1="428.4" x2="275.9" y2="480.3" stroke="#1010ff" stroke-width="0.41" stroke-opacity="0.65"/>
<line x1="180.8" y1="507.2" x2="260.9" y2="460.7" stroke="#1010ff" stroke-width="0.68" stroke-opacity="0.76"/>
<line x1="180.8" y1="507.2" x2="235.3" y2="436.3" stroke="#1010ff" stroke-width="1.04" stroke-opacity="0.76"/>
<line x1="207" y1="444" x2="244.3" y2="490.4" stroke="#1010ff" stroke-width="0.76" stroke-opacity="0.97"/>
<line x1="177.9" y1="458.7" x2="250.9" y2="442" stroke="#1010ff" stroke-width="0.66" stroke-opacity="0.89"/>
<line x1="91.3" y1="469.5" x2="281.3" y2="409" stroke="#ff1010" stroke-width="0.52" stroke-opacity="0.63"/>
<line x1="195.6" y1="514" x2="260.9" y2="460.7" stroke="#1010ff" stroke-width="0.94" stroke-opacity="0.98"/>
<line x1="135.3" y1="490.2" x2="250.9" y2="442" stroke="#ff1010" stroke-width="0.47" stroke-opacity="0.67"/>
<line x1="233.3" y1="474.3" x2="325.4" y2="508.4" stroke="#1010ff" stroke-width="0.35" stroke-opacity="0.93"/>
<line x1="134.5" y1="459.6" x2="266.5" y2="544.7" stroke="#ff1010" stroke-width="0.33" stroke-opacity="0.69"/>
<line x1="151.5" y1="428.4" x2="251.5" y2="419.3" stroke="#1010ff" stroke-width="0.27" stroke-opacity="0.45"/>
<line x1="233.3" y1="474.3" x2="244.3" y2="490.4" stroke="#1010ff" stroke-width="1.03" stroke-opacity="0.97"/>
<line x1="122" y1="542.7" x2="283.2" y2="541.2" stroke="#1010ff" stroke-width="0.3" stroke-opacity="0.65"/>
<line x1="235.3" y1="436.3" x2="242.8" y2="539" stroke="#1010ff" stroke-width="0.84" stroke-opacity="0.82"/>
<line x1="183" y1="435.8" x2="322" y2="483" stroke="#1010ff" stroke-width="0.51" stroke-opacity="0.62"/>
<line x1="177.9" y1="458.7" x2="260.9" y2="460.7" stroke="#1010ff" stroke-width="1.08" stroke-opacity="0.78"/>
<line x1="91.3" y1="469.5" x2="294.9" y2="462.4" stroke="#ff1010" stroke-width="0.46" stroke-opacity="0.58"/>
<line x1="147.5" y1="520.3" x2="250.9" y2="442" stroke="#1010ff" stroke-width="0.44" stroke-opacity="0.44"/>
<line x1="199.5" y1="467.8" x2="274.5" y2="508.4" stroke="#ff1010" stroke-width="0.67" stroke-opacity="0.84"/>
<line x1="151.5" y1="428.4" x2="274.5" y2="508.4" stroke="#1010ff" stroke-width="0.39" stroke-opacity="0.64"/>
<line x1="207" y1="444" x2="279.1" y2="362.1" stroke="#ff1010" stroke-width="0.49" stroke-opacity="0.57"/>
<line x1="168.5" y1="480.5" x2="301.3" y2="425.5" stroke="#1010ff" stroke-width="0.3" stroke-opacity="0.53"/>
<line x1="195.6" y1="514" x2="244.3" y2="490.4" stroke="#1010ff" stroke-width="0.91" stroke-opacity="0.91"/>
<line x1="177.9" y1="458.7" x2="279.1" y2="362.1" stroke="#ff1010" stroke-width="0.32" stroke-opacity="0.68"/>
<line x1="94.8" y1="504.4" x2="294.9" y2="462.4" stroke="#ff1010" stroke-width="0.6" stroke-opacity="0.62"/>
<line x1="122" y1="542.7" x2="251.5" y2="419.3" stroke="#ff1010" stroke-width="0.38" stroke-opacity="0.54"/>
<line x1="183" y1="435.8" x2="244.3" y2="490.4" stroke="#1010ff" stroke-width="0.64" stroke-opacity="0.78"/>
<line x1="111.2" y1="522.6" x2="235.3" y2="436.3" stroke="#ff1010" stroke-width="0.33" stroke-opacity="0.73"/>
<line x1="180.8" y1="507.2" x2="281.3" y2="409" stroke="#1010ff" stroke-width="0.62" stroke-opacity="0.9"/>
<line x1="168.5" y1="480.5" x2="291.2" y2="500.7" stroke="#1010ff" stroke-width="0.36" stroke-opacity="0.46"/>
<line x1="147.5" y1="520.3" x2="277.9" y2="441.1" stroke="#1010ff" stroke-width="0.39" stroke-opacity="0.5"/>
<line x1="180.8" y1="507.2" x2="341" y2="471" stroke="#1010ff" stroke-width="0.76" stroke-opacity="0.85"/>
<line x1="200.6" y1="495.9" x2="329.6" y2="416.5" stroke="#1010ff" stroke-width="0.44" stroke-opacity="0.63"/>
<line x1="207" y1="444" x2="257.5" y2="521.4" stroke="#1010ff" stroke-width="0.84" stroke-opacity="0.92"/>
<line x1="135.3" y1="490.2" x2="266.5" y2="544.7" stroke="#ff1010" stroke-width="0.56" stroke-opacity="0.75"/>
<line x1="168.5" y1="480.5" x2="325.4" y2="508.4" stroke="#1010ff" stroke-width="0.35" stroke-opacity="0.59"/>
<line x1="244.3" y1="490.4" x2="225.6" y2="511.2" stroke="#1010ff" stroke-width="0.61" stroke-opacity="0.91"/>
<line x1="213.5" y1="458.7" x2="325.4" y2="508.4" stroke="#1010ff" stroke-width="0.61" stroke-opacity="0.62"/>
<line x1="213.5" y1="458.7" x2="322" y2="539" stroke="#1010ff" stroke-width="0.71" stroke-opacity="0.83"/>
<line x1="207" y1="444" x2="263.1" y2="499.9" stroke="#1010ff" stroke-width="0.8" stroke-opacity="0.76"/>
<line x1="225.6" y1="511.2" x2="279.1" y2="362.1" stroke="#ff1010" stroke-width="0.34" stroke-opacity="0.81"/>
<line x1="274.5" y1="508.4" x2="329.6" y2="416.5" stroke="#1010ff" stroke-width="0.64" stroke-opacity="0.75"/>
<line x1="244.3" y1="490.4" x2="279.1" y2="362.1" stroke="#ff1010" stroke-width="0.31" stroke-opacity="0.65"/>
<line x1="292.9" y1="524.8" x2="279.1" y2="362.1" stroke="#ff1010" stroke-width="0.42" stroke-opacity="0.81"/>
<line x1="251.5" y1="419.3" x2="329.6" y2="416.5" stroke="#ff1010" stroke-width="0.9" stroke-opacity="0.96"/>
<line x1="265.7" y1="429.8" x2="322" y2="483" stroke="#1010ff" stroke-width="0.45" stroke-opacity="0.98"/>
<line x1="291.2" y1="500.7" x2="341" y2="471" stroke="#ff1010" stroke-width="0.7" stroke-opacity="0.76"/>
<line x1="291.2" y1="500.7" x2="329.6" y2="416.5" stroke="#1010ff" stroke-width="0.47" stroke-opacity="0.93"/>
<line x1="235.3" y1="436.3" x2="301.3" y2="425.5" stroke="#1010ff" stroke-width="0.88" stroke-opacity="0.73"/>
<line x1="329.6" y1="416.5" x2="305" y2="483.7" stroke="#1010ff" stroke-width="0.57" stroke-opacity="0.92"/>
<line x1="301.3" y1="425.5" x2="305" y2="483.7" stroke="#1010ff" stroke-width="0.64" stroke-opacity="0.94"/>
<line x1="294.9" y1="462.4" x2="329.6" y2="416.5" stroke="#ff1010" stroke-width="0.66" stroke-opacity="0.86"/>
<line x1="341" y1="471" x2="305" y2="483.7" stroke="#1010ff" stroke-width="0.89" stroke-opacity="0.77"/>
<line x1="260.9" y1="460.7" x2="325.4" y2="508.4" stroke="#1010ff" stroke-width="0.46" stroke-opacity="0.75"/>
<line x1="294.9" y1="462.4" x2="325.4" y2="508.4" stroke="#1010ff" stroke-width="0.73" stroke-opacity="0.73"/>
<line x1="291.2" y1="500.7" x2="313.5" y2="452" stroke="#ff1010" stroke-width="0.52" stroke-opacity="0.81"/>
<line x1="294.9" y1="462.4" x2="313.5" y2="452" stroke="#ff1010" stroke-width="0.79" stroke-opacity="0.82"/>
<line x1="266.5" y1="544.7" x2="322" y2="539" stroke="#ff1010" stroke-width="0.61" stroke-opacity="0.71"/>
<line x1="294.9" y1="462.4" x2="279.1" y2="362.1" stroke="#ff1010" stroke-width="0.32" stroke-opacity="0.61"/>
<line x1="250.9" y1="442" x2="279.1" y2="362.1" stroke="#ff1010" stroke-width="0.32" stroke-opacity="0.76"/>
<line x1="292.9" y1="524.8" x2="325.4" y2="508.4" stroke="#1010ff" stroke-width="0.89" stroke-opacity="0.81"/>
<line x1="341" y1="471" x2="322" y2="539" stroke="#ff1010" stroke-width="0.55" stroke-opacity="0.87"/>
<line x1="305" y1="483.7" x2="322" y2="483" stroke="#ff1010" stroke-width="0.49" stroke-opacity="0.92"/>
<line x1="263.1" y1="499.9" x2="322" y2="539" stroke="#1010ff" stroke-width="0.69" stroke-opacity="0.73"/>
<line x1="265.7" y1="429.8" x2="279.1" y2="362.1" stroke="#ff1010" stroke-width="0.38" stroke-opacity="0.79"/>
<line x1="263.1" y1="499.9" x2="279.1" y2="362.1" stroke="#1010ff" stroke-width="0.45" stroke-opacity="0.53"/>
<line x1="275.9" y1="480.3" x2="329.6" y2="416.5" stroke="#1010ff" stroke-width="0.42" stroke-opacity="0.91"/>
<line x1="277.9" y1="441.1" x2="322" y2="539" stroke="#ff1010" stroke-width="0.69" stroke-opacity="0.92"/>
<line x1="275.9" y1="480.3" x2="279.1" y2="362.1" stroke="#ff1010" stroke-width="0.43" stroke-opacity="0.66"/>
<line x1="278.4" y1="461" x2="325.4" y2="508.4" stroke="#ff1010" stroke-width="0.68" stroke-opacity="0.73"/>
<line x1="274.5" y1="508.4" x2="341" y2="471" stroke="#1010ff" stroke-width="0.84" stroke-opacity="0.88"/>
<line x1="283.2" y1="541.2" x2="325.4" y2="508.4" stroke="#ff1010" stroke-width="0.48" stroke-opacity="0.74"/>
<line x1="291.2" y1="500.7" x2="325.4" y2="508.4" stroke="#1010ff" stroke-width="0.84" stroke-opacity="0.87"/>
<line x1="274.5" y1="508.4" x2="279.1" y2="362.1" stroke="#ff1010" stroke-width="0.39" stroke-opacity="0.5"/>
<line x1="292.9" y1="524.8" x2="322" y2="483" stroke="#1010ff" stroke-width="0.44" stroke-opacity="0.75"/>
<line x1="341" y1="471" x2="279.1" y2="362.1" stroke="#1010ff" stroke-width="0.53" stroke-opacity="0.63"/>
<line x1="301.3" y1="425.5" x2="283.2" y2="541.2" stroke="#1010ff" stroke-width="0.82" stroke-opacity="0.95"/>
<line x1="274.5" y1="508.4" x2="325.4" y2="508.4" stroke="#1010ff" stroke-width="0.42" stroke-opacity="0.75"/>
<line x1="281.3" y1="409" x2="279.1" y2="362.1" stroke="#1010ff" stroke-width="0.51" stroke-opacity="0.71"/>
<line x1="305" y1="483.7" x2="279.1" y2="362.1" stroke="#ff1010" stroke-width="0.55" stroke-opacity="0.67"/>
<line x1="305" y1="483.7" x2="322" y2="539" stroke="#ff1010" stroke-width="0.41" stroke-opacity="0.93"/>
<line x1="275.9" y1="480.3" x2="325.4" y2="508.4" stroke="#ff1010" stroke-width="0.56" stroke-opacity="0.74"/>
<line x1="277.9" y1="441.1" x2="341" y2="471" stroke="#ff1010" stroke-width="0.46" stroke-opacity="0.85"/>
<line x1="257.5" y1="521.4" x2="279.1" y2="362.1" stroke="#ff1010" stroke-width="0.36" stroke-opacity="0.58"/>
<line x1="278.4" y1="461" x2="279.1" y2="362.1" stroke="#ff1010" stroke-width="0.33" stroke-opacity="0.79"/>
<line x1="341" y1="471" x2="325.4" y2="508.4" stroke="#ff1010" stroke-width="0.41" stroke-opacity="0.74"/>
<line x1="301.3" y1="425.5" x2="292.9" y2="524.8" stroke="#ff1010" stroke-width="0.88" stroke-opacity="0.92"/>
<line x1="301.3" y1="425.5" x2="257.5" y2="521.4" stroke="#1010ff" stroke-width="0.77" stroke-opacity="0.73"/>
<line x1="250.9" y1="442" x2="313.5" y2="452" stroke="#ff1010" stroke-width="0.44" stroke-opacity="0.88"/>
<line x1="265.7" y1="429.8" x2="329.6" y2="416.5" stroke="#ff1010" stroke-width="0.76" stroke-opacity="0.76"/>
<line x1="301.3" y1="425.5" x2="322" y2="539" stroke="#ff1010" stroke-width="0.66" stroke-opacity="0.7"/>
<line x1="281.3" y1="409" x2="301.3" y2="425.5" stroke="#1010ff" stroke-width="0.61" stroke-opacity="0.95"/>
<line x1="278.4" y1="461" x2="341" y2="471" stroke="#1010ff" stroke-width="0.84" stroke-opacity="0.85"/>
<line x1="292.9" y1="524.8" x2="341" y2="471" stroke="#1010ff" stroke-width="0.87" stroke-opacity="0.8"/>
<line x1="275.9" y1="480.3" x2="341" y2="471" stroke="#ff1010" stroke-width="0.67" stroke-opacity="0.99"/>
<line x1="266.5" y1="544.7" x2="325.4" y2="508.4" stroke="#1010ff" stroke-width="0.74" stroke-opacity="0.8"/>
<line x1="277.9" y1="441.1" x2="322" y2="483" stroke="#1010ff" stroke-width="0.47" stroke-opacity="0.88"/>
<line x1="292.9" y1="524.8" x2="322" y2="539" stroke="#1010ff" stroke-width="0.61" stroke-opacity="0.96"/>
<line x1="277.9" y1="441.1" x2="279.1" y2="362.1" stroke="#ff1010" stroke-width="0.51" stroke-opacity="0.83"/>
<line x1="263.1" y1="499.9" x2="325.4" y2="508.4" stroke="#1010ff" stroke-width="0.64" stroke-opacity="0.87"/>
<line x1="263.1" y1="499.9" x2="322" y2="483" stroke="#1010ff" stroke-width="0.45" stroke-opacity="0.86"/>
<line x1="301.3" y1="425.5" x2="291.2" y2="500.7" stroke="#ff1010" stroke-width="0.89" stroke-opacity="0.79"/>
<line x1="283.2" y1="541.2" x2="329.6" y2="416.5" stroke="#1010ff" stroke-width="0.65" stroke-opacity="0.88"/>
<line x1="278.4" y1="461" x2="313.5" y2="452" stroke="#1010ff" stroke-width="0.76" stroke-opacity="0.77"/>
<line x1="301.3" y1="425.5" x2="294.9" y2="462.4" stroke="#1010ff" stroke-width="0.71" stroke-opacity="0.84"/>
<line x1="281.3" y1="409" x2="313.5" y2="452" stroke="#ff1010" stroke-width="0.55" stroke-opacity="0.89"/>
<line x1="313.5" y1="452" x2="325.4" y2="508.4" stroke="#ff1010" stroke-width="0.4" stroke-opacity="0.84"/>
<line x1="301.3" y1="425.5" x2="275.9" y2="480.3" stroke="#1010ff" stroke-width="0.59" stroke-opacity="0.88"/>
<line x1="278.4" y1="461" x2="322" y2="483" stroke="#1010ff" stroke-width="0.49" stroke-opacity="0.99"/>
<line x1="244.3" y1="490.4" x2="322" y2="483" stroke="#1010ff" stroke-width="0.74" stroke-opacity="0.75"/>
<line x1="277.9" y1="441.1" x2="313.5" y2="452" stroke="#ff1010" stroke-width="0.83" stroke-opacity="0.92"/>
<line x1="257.5" y1="521.4" x2="322" y2="483" stroke="#ff1010" stroke-width="0.57" stroke-opacity="0.8"/>
<line x1="329.6" y1="416.5" x2="322" y2="483" stroke="#1010ff" stroke-width="0.61" stroke-opacity="0.93"/>
<line x1="283.2" y1="541.2" x2="322" y2="483" stroke="#1010ff" stroke-width="0.76" stroke-opacity="0.8"/>
<line x1="294.9" y1="462.4" x2="322" y2="539" stroke="#1010ff" stroke-width="0.58" stroke-opacity="0.85"/>
<line x1="275.9" y1="480.3" x2="322" y2="483" stroke="#ff1010" stroke-width="0.58" stroke-opacity="0.82"/>
<line x1="294.9" y1="462.4" x2="341" y2="471" stroke="#1010ff" stroke-width="0.68" stroke-opacity="0.79"/>
<line x1="325.4" y1="508.4" x2="279.1" y2="362.1" stroke="#1010ff" stroke-width="0.53" stroke-opacity="0.54"/>
<line x1="292.9" y1="524.8" x2="313.5" y2="452" stroke="#1010ff" stroke-width="0.55" stroke-opacity="0.92"/>
<line x1="283.2" y1="541.2" x2="313.5" y2="452" stroke="#ff1010" stroke-width="0.63" stroke-opacity="0.7"/>
<line x1="263.1" y1="499.9" x2="313.5" y2="452" stroke="#1010ff" stroke-width="0.46" stroke-opacity="0.75"/>
<line x1="260.9" y1="460.7" x2="341" y2="471" stroke="#1010ff" stroke-width="0.72" stroke-opacity="0.86"/>
<line x1="301.3" y1="425.5" x2="274.5" y2="508.4" stroke="#ff1010" stroke-width="0.43" stroke-opacity="0.96"/>
<line x1="278.4" y1="461" x2="329.6" y2="416.5" stroke="#1010ff" stroke-width="0.87" stroke-opacity="0.77"/>
<line x1="281.3" y1="409" x2="325.4" y2="508.4" stroke="#ff1010" stroke-width="0.55" stroke-opacity="0.82"/>
<line x1="313.5" y1="452" x2="305" y2="483.7" stroke="#1010ff" stroke-width="0.54" stroke-opacity="0.86"/>
<line x1="260.9" y1="460.7" x2="279.1" y2="362.1" stroke="#ff1010" stroke-width="0.33" stroke-opacity="0.56"/>
<line x1="292.9" y1="524.8" x2="329.6" y2="416.5" stroke="#1010ff" stroke-width="0.48" stroke-opacity="0.72"/>
<line x1="266.5" y1="544.7" x2="329.6" y2="416.5" stroke="#1010ff" stroke-width="0.67" stroke-opacity="0.96"/>
<line x1="281.3" y1="409" x2="322" y2="483" stroke="#1010ff" stroke-width="0.47" stroke-opacity="0.74"/>
<line x1="260.9" y1="460.7" x2="313.5" y2="452" stroke="#1010ff" stroke-width="0.65" stroke-opacity="0.87"/>
<line x1="283.2" y1="541.2" x2="322" y2="539" stroke="#1010ff" stroke-width="0.44" stroke-opacity="0.94"/>
<line x1="301.3" y1="425.5" x2="278.4" y2="461" stroke="#ff1010" stroke-width="0.76" stroke-opacity="0.84"/>
<line x1="283.2" y1="541.2" x2="279.1" y2="362.1" stroke="#ff1010" stroke-width="0.43" stroke-opacity="0.71"/>
<line x1="281.3" y1="409" x2="322" y2="539" stroke="#ff1010" stroke-width="0.52" stroke-opacity="0.73"/>
<line x1="265.7" y1="429.8" x2="313.5" y2="452" stroke="#ff1010" stroke-width="0.86" stroke-opacity="0.77"/>
<line x1="275.9" y1="480.3" x2="322" y2="539" stroke="#1010ff" stroke-width="0.74" stroke-opacity="0.77"/>
<line x1="274.5" y1="508.4" x2="322" y2="539" stroke="#1010ff" stroke-width="0.63" stroke-opacity="0.87"/>
<line x1="277.9" y1="441.1" x2="329.6" y2="416.5" stroke="#1010ff" stroke-width="0.66" stroke-opacity="0.91"/>
<line x1="281.3" y1="409" x2="341" y2="471" stroke="#ff1010" stroke-width="0.7" stroke-opacity="0.99"/>
<line x1="278.4" y1="461" x2="322" y2="539" stroke="#1010ff" stroke-width="0.59" stroke-opacity="0.82"/>
<line x1="134.5" y1="459.6" x2="213.5" y2="458.7" stroke="#ff1010" stroke-width="0.68" stroke-opacity="0.95"/>
<line x1="177.9" y1="458.7" x2="225.6" y2="511.2" stroke="#ff1010" stroke-width="0.83" stroke-opacity="0.99"/>
<line x1="183" y1="435.8" x2="122" y2="542.7" stroke="#ff1010" stroke-width="0.44" stroke-opacity="1"/>
<line x1="91.3" y1="469.5" x2="122" y2="542.7" stroke="#ff1010" stroke-width="0.85" stroke-opacity="0.91"/>
<line x1="147.5" y1="520.3" x2="122" y2="542.7" stroke="#ff1010" stroke-width="0.62" stroke-opacity="0.95"/>
<line x1="94.8" y1="504.4" x2="147.5" y2="520.3" stroke="#ff1010" stroke-width="1.04" stroke-opacity="0.85"/>
<line x1="213.5" y1="458.7" x2="242.8" y2="539" stroke="#1010ff" stroke-width="1.15" stroke-opacity="0.95"/>
<line x1="134.5" y1="459.6" x2="147.5" y2="520.3" stroke="#ff1010" stroke-width="0.78" stroke-opacity="0.89"/>
<line x1="183" y1="435.8" x2="242.8" y2="539" stroke="#ff1010" stroke-width="1.09" stroke-opacity="0.91"/>
<line x1="94.8" y1="504.4" x2="200.6" y2="495.9" stroke="#ff1010" stroke-width="0.85" stroke-opacity="0.71"/>
<line x1="91.3" y1="469.5" x2="147.5" y2="520.3" stroke="#ff1010" stroke-width="0.55" stroke-opacity="0.88"/>
<line x1="122" y1="542.7" x2="242.8" y2="539" stroke="#ff1010" stroke-width="0.63" stroke-opacity="0.78"/>
<line x1="111.2" y1="522.6" x2="214.2" y2="484.9" stroke="#ff1010" stroke-width="0.52" stroke-opacity="0.73"/>
<line x1="99.3" y1="445.4" x2="94.8" y2="504.4" stroke="#ff1010" stroke-width="0.71" stroke-opacity="0.91"/>
<line x1="183" y1="435.8" x2="213.5" y2="458.7" stroke="#1010ff" stroke-width="0.62" stroke-opacity="0.97"/>
<line x1="94.8" y1="504.4" x2="233.3" y2="474.3" stroke="#ff1010" stroke-width="0.88" stroke-opacity="0.78"/>
<line x1="135.3" y1="490.2" x2="233.3" y2="474.3" stroke="#ff1010" stroke-width="0.8" stroke-opacity="0.83"/>
<line x1="195.6" y1="514" x2="207" y2="444" stroke="#ff1010" stroke-width="0.83" stroke-opacity="1"/>
<line x1="183" y1="435.8" x2="209.4" y2="522.6" stroke="#1010ff" stroke-width="0.61" stroke-opacity="0.96"/>
<line x1="233.3" y1="474.3" x2="225.6" y2="511.2" stroke="#1010ff" stroke-width="0.85" stroke-opacity="0.95"/>
<line x1="183" y1="435.8" x2="135.3" y2="490.2" stroke="#ff1010" stroke-width="0.99" stroke-opacity="0.95"/>
<line x1="180.8" y1="507.2" x2="225.6" y2="511.2" stroke="#1010ff" stroke-width="0.76" stroke-opacity="0.93"/>
<line x1="168.5" y1="480.5" x2="214.2" y2="484.9" stroke="#1010ff" stroke-width="0.39" stroke-opacity="0.66"/>
<line x1="177.9" y1="458.7" x2="242.8" y2="539" stroke="#1010ff" stroke-width="1.03" stroke-opacity="0.95"/>
<line x1="233.3" y1="474.3" x2="214.2" y2="484.9" stroke="#1010ff" stroke-width="0.84" stroke-opacity="0.99"/>
<line x1="111.2" y1="522.6" x2="147.5" y2="520.3" stroke="#ff1010" stroke-width="1.01" stroke-opacity="0.89"/>
<line x1="168.5" y1="480.5" x2="207" y2="444" stroke="#ff1010" stroke-width="0.79" stroke-opacity="0.8"/>
<line x1="122" y1="542.7" x2="207" y2="444" stroke="#ff1010" stroke-width="0.81" stroke-opacity="0.82"/>
<line x1="151.5" y1="428.4" x2="213.5" y2="458.7" stroke="#1010ff" stroke-width="0.8" stroke-opacity="0.76"/>
<line x1="116.3" y1="429.5" x2="122" y2="542.7" stroke="#ff1010" stroke-width="0.65" stroke-opacity="0.91"/>
<line x1="134.5" y1="459.6" x2="214.2" y2="484.9" stroke="#ff1010" stroke-width="0.58" stroke-opacity="0.74"/>
<line x1="213.5" y1="458.7" x2="200.6" y2="495.9" stroke="#1010ff" stroke-width="1.07" stroke-opacity="0.99"/>
<line x1="135.3" y1="490.2" x2="94.8" y2="504.4" stroke="#ff1010" stroke-width="1.07" stroke-opacity="1"/>
<line x1="94.8" y1="504.4" x2="111.2" y2="522.6" stroke="#ff1010" stroke-width="0.71" stroke-opacity="0.95"/>
<line x1="207" y1="444" x2="233.3" y2="474.3" stroke="#1010ff" stroke-width="1.14" stroke-opacity="0.97"/>
<line x1="177.9" y1="458.7" x2="207" y2="444" stroke="#1010ff" stroke-width="0.72" stroke-opacity="0.99"/>
<line x1="177.9" y1="458.7" x2="147.5" y2="520.3" stroke="#ff1010" stroke-width="0.68" stroke-opacity="0.94"/>
<line x1="116.3" y1="429.5" x2="111.2" y2="522.6" stroke="#ff1010" stroke-width="0.62" stroke-opacity="0.94"/>
<line x1="99.3" y1="445.4" x2="207" y2="444" stroke="#ff1010" stroke-width="0.48" stroke-opacity="0.97"/>
<line x1="134.5" y1="459.6" x2="242.8" y2="539" stroke="#ff1010" stroke-width="0.66" stroke-opacity="0.78"/>
<line x1="151.5" y1="428.4" x2="135.3" y2="490.2" stroke="#ff1010" stroke-width="0.74" stroke-opacity="0.82"/>
<line x1="116.3" y1="429.5" x2="213.5" y2="458.7" stroke="#ff1010" stroke-width="0.99" stroke-opacity="0.74"/>
<line x1="147.5" y1="520.3" x2="242.8" y2="539" stroke="#ff1010" stroke-width="0.56" stroke-opacity="0.91"/>
<line x1="147.5" y1="520.3" x2="200.6" y2="495.9" stroke="#1010ff" stroke-width="0.75" stroke-opacity="0.68"/>
<line x1="177.9" y1="458.7" x2="180.8" y2="507.2" stroke="#1010ff" stroke-width="0.63" stroke-opacity="0.99"/>
<line x1="214.2" y1="484.9" x2="200.6" y2="495.9" stroke="#1010ff" stroke-width="0.78" stroke-opacity="0.98"/>
<line x1="135.3" y1="490.2" x2="225.6" y2="511.2" stroke="#ff1010" stroke-width="0.78" stroke-opacity="0.72"/>
<line x1="195.6" y1="514" x2="214.2" y2="484.9" stroke="#1010ff" stroke-width="1.06" stroke-opacity="0.96"/>
<line x1="151.5" y1="428.4" x2="134.5" y2="459.6" stroke="#ff1010" stroke-width="1.07" stroke-opacity="0.94"/>
<line x1="108.4" y1="486" x2="213.5" y2="458.7" stroke="#ff1010" stroke-width="0.96" stroke-opacity="0.75"/>
<line x1="116.3" y1="429.5" x2="99.3" y2="445.4" stroke="#ff1010" stroke-width="0.82" stroke-opacity="0.87"/>
<line x1="151.5" y1="428.4" x2="233.3" y2="474.3" stroke="#1010ff" stroke-width="0.7" stroke-opacity="0.72"/>
<line x1="111.2" y1="522.6" x2="122" y2="542.7" stroke="#ff1010" stroke-width="0.68" stroke-opacity="0.84"/>
<line x1="177.9" y1="458.7" x2="200.6" y2="495.9" stroke="#ff1010" stroke-width="1.03" stroke-opacity="0.98"/>
<line x1="233.3" y1="474.3" x2="242.8" y2="539" stroke="#1010ff" stroke-width="1.03" stroke-opacity="0.86"/>
<line x1="199.5" y1="467.8" x2="225.6" y2="511.2" stroke="#1010ff" stroke-width="0.8" stroke-opacity="0.88"/>
<line x1="122" y1="542.7" x2="209.4" y2="522.6" stroke="#ff1010" stroke-width="0.58" stroke-opacity="0.86"/>
<line x1="199.5" y1="467.8" x2="108.4" y2="486" stroke="#1010ff" stroke-width="0.63" stroke-opacity="0.77"/>
<line x1="177.9" y1="458.7" x2="94.8" y2="504.4" stroke="#ff1010" stroke-width="0.85" stroke-opacity="0.89"/>
<line x1="151.5" y1="428.4" x2="99.3" y2="445.4" stroke="#ff1010" stroke-width="0.64" stroke-opacity="0.85"/>
<line x1="91.3" y1="469.5" x2="209.4" y2="522.6" stroke="#ff1010" stroke-width="0.9" stroke-opacity="0.87"/>
<line x1="147.5" y1="520.3" x2="195.6" y2="514" stroke="#ff1010" stroke-width="0.72" stroke-opacity="0.66"/>
<line x1="116.3" y1="429.5" x2="147.5" y2="520.3" stroke="#ff1010" stroke-width="0.69" stroke-opacity="0.92"/>
<line x1="207" y1="444" x2="209.4" y2="522.6" stroke="#1010ff" stroke-width="0.6" stroke-opacity="0.98"/>
<line x1="94.8" y1="504.4" x2="209.4" y2="522.6" stroke="#1010ff" stroke-width="0.8" stroke-opacity="0.79"/>
<line x1="199.5" y1="467.8" x2="242.8" y2="539" stroke="#1010ff" stroke-width="1.09" stroke-opacity="0.91"/>
<line x1="183" y1="435.8" x2="94.8" y2="504.4" stroke="#ff1010" stroke-width="0.66" stroke-opacity="0.85"/>
<line x1="99.3" y1="445.4" x2="111.2" y2="522.6" stroke="#ff1010" stroke-width="0.82" stroke-opacity="0.99"/>
<line x1="134.5" y1="459.6" x2="177.9" y2="458.7" stroke="#ff1010" stroke-width="0.63" stroke-opacity="0.84"/>
<line x1="151.5" y1="428.4" x2="122" y2="542.7" stroke="#ff1010" stroke-width="0.59" stroke-opacity="0.85"/>
<line x1="122" y1="542.7" x2="233.3" y2="474.3" stroke="#ff1010" stroke-width="0.48" stroke-opacity="0.93"/>
<line x1="183" y1="435.8" x2="180.8" y2="507.2" stroke="#1010ff" stroke-width="0.72" stroke-opacity="0.9"/>
<line x1="134.5" y1="459.6" x2="180.8" y2="507.2" stroke="#ff1010" stroke-width="0.56" stroke-opacity="0.9"/>
<line x1="135.3" y1="490.2" x2="180.8" y2="507.2" stroke="#ff1010" stroke-width="0.43" stroke-opacity="0.98"/>
<line x1="147.5" y1="520.3" x2="209.4" y2="522.6" stroke="#1010ff" stroke-width="0.65" stroke-opacity="0.86"/>
<line x1="183" y1="435.8" x2="214.2" y2="484.9" stroke="#1010ff" stroke-width="0.76" stroke-opacity="0.87"/>
<line x1="135.3" y1="490.2" x2="122" y2="542.7" stroke="#ff1010" stroke-width="1.01" stroke-opacity="0.97"/>
<line x1="213.5" y1="458.7" x2="225.6" y2="511.2" stroke="#1010ff" stroke-width="1.02" stroke-opacity="0.94"/>
<line x1="199.5" y1="467.8" x2="168.5" y2="480.5" stroke="#1010ff" stroke-width="0.35" stroke-opacity="0.71"/>
<line x1="99.3" y1="445.4" x2="180.8" y2="507.2" stroke="#ff1010" stroke-width="0.41" stroke-opacity="0.99"/>
<line x1="116.3" y1="429.5" x2="168.5" y2="480.5" stroke="#ff1010" stroke-width="0.57" stroke-opacity="0.86"/>
<line x1="99.3" y1="445.4" x2="147.5" y2="520.3" stroke="#ff1010" stroke-width="1.02" stroke-opacity="0.97"/>
<line x1="199.5" y1="467.8" x2="147.5" y2="520.3" stroke="#1010ff" stroke-width="0.49" stroke-opacity="0.61"/>
<line x1="99.3" y1="445.4" x2="199.5" y2="467.8" stroke="#ff1010" stroke-width="0.48" stroke-opacity="0.75"/>
<line x1="183" y1="435.8" x2="147.5" y2="520.3" stroke="#ff1010" stroke-width="0.6" stroke-opacity="0.75"/>
<line x1="180.8" y1="507.2" x2="242.8" y2="539" stroke="#1010ff" stroke-width="1.13" stroke-opacity="0.85"/>
<line x1="214.2" y1="484.9" x2="225.6" y2="511.2" stroke="#1010ff" stroke-width="1.06" stroke-opacity="0.88"/>
<line x1="99.3" y1="445.4" x2="209.4" y2="522.6" stroke="#ff1010" stroke-width="0.77" stroke-opacity="0.85"/>
<line x1="111.2" y1="522.6" x2="225.6" y2="511.2" stroke="#ff1010" stroke-width="0.46" stroke-opacity="0.73"/>
<line x1="195.6" y1="514" x2="225.6" y2="511.2" stroke="#1010ff" stroke-width="0.75" stroke-opacity="0.91"/>
<line x1="151.5" y1="428.4" x2="209.4" y2="522.6" stroke="#1010ff" stroke-width="0.77" stroke-opacity="0.95"/>
<line x1="180.8" y1="507.2" x2="111.2" y2="522.6" stroke="#ff1010" stroke-width="0.96" stroke-opacity="0.77"/>
<line x1="183" y1="435.8" x2="207" y2="444" stroke="#1010ff" stroke-width="1.18" stroke-opacity="0.87"/>
<line x1="91.3" y1="469.5" x2="111.2" y2="522.6" stroke="#ff1010" stroke-width="0.8" stroke-opacity="0.8"/>
<line x1="99.3" y1="445.4" x2="213.5" y2="458.7" stroke="#ff1010" stroke-width="0.67" stroke-opacity="0.88"/>
<line x1="168.5" y1="480.5" x2="225.6" y2="511.2" stroke="#1010ff" stroke-width="0.74" stroke-opacity="0.95"/>
<line x1="168.5" y1="480.5" x2="94.8" y2="504.4" stroke="#ff1010" stroke-width="0.99" stroke-opacity="0.93"/>
<line x1="200.6" y1="495.9" x2="209.4" y2="522.6" stroke="#1010ff" stroke-width="0.91" stroke-opacity="0.91"/>
<line x1="116.3" y1="429.5" x2="233.3" y2="474.3" stroke="#ff1010" stroke-width="0.9" stroke-opacity="0.98"/>
<line x1="195.6" y1="514" x2="200.6" y2="495.9" stroke="#1010ff" stroke-width="0.79" stroke-opacity="0.94"/>
<line x1="183" y1="435.8" x2="177.9" y2="458.7" stroke="#1010ff" stroke-width="0.69" stroke-opacity="0.96"/>
<line x1="91.3" y1="469.5" x2="94.8" y2="504.4" stroke="#ff1010" stroke-width="0.71" stroke-opacity="0.8"/>
<line x1="180.8" y1="507.2" x2="233.3" y2="474.3" stroke="#1010ff" stroke-width="0.6" stroke-opacity="0.98"/>
<line x1="134.5" y1="459.6" x2="195.6" y2="514" stroke="#ff1010" stroke-width="0.94" stroke-opacity="0.76"/>
<line x1="151.5" y1="428.4" x2="91.3" y2="469.5" stroke="#ff1010" stroke-width="0.75" stroke-opacity="0.87"/>
<line x1="94.8" y1="504.4" x2="242.8" y2="539" stroke="#ff1010" stroke-width="0.71" stroke-opacity="0.97"/>
<line x1="108.4" y1="486" x2="168.5" y2="480.5" stroke="#ff1010" stroke-width="0.67" stroke-opacity="0.8"/>
<line x1="134.5" y1="459.6" x2="200.6" y2="495.9" stroke="#ff1010" stroke-width="0.9" stroke-opacity="0.7"/>
<line x1="116.3" y1="429.5" x2="91.3" y2="469.5" stroke="#ff1010" stroke-width="0.54" stroke-opacity="0.82"/>
<line x1="180.8" y1="507.2" x2="147.5" y2="520.3" stroke="#ff1010" stroke-width="0.39" stroke-opacity="0.82"/>
<line x1="214.2" y1="484.9" x2="209.4" y2="522.6" stroke="#1010ff" stroke-width="0.88" stroke-opacity="0.96"/>
<line x1="195.6" y1="514" x2="213.5" y2="458.7" stroke="#1010ff" stroke-width="1.04" stroke-opacity="0.92"/>
<line x1="183" y1="435.8" x2="134.5" y2="459.6" stroke="#ff1010" stroke-width="0.8" stroke-opacity="0.94"/>
<line x1="111.2" y1="522.6" x2="242.8" y2="539" stroke="#ff1010" stroke-width="0.59" stroke-opacity="0.99"/>
<line x1="213.5" y1="458.7" x2="214.2" y2="484.9" stroke="#ff1010" stroke-width="0.78" stroke-opacity="0.85"/>
<line x1="199.5" y1="467.8" x2="195.6" y2="514" stroke="#1010ff" stroke-width="1" stroke-opacity="0.91"/>
<line x1="151.5" y1="428.4" x2="177.9" y2="458.7" stroke="#1010ff" stroke-width="0.63" stroke-opacity="0.84"/>
<line x1="135.3" y1="490.2" x2="111.2" y2="522.6" stroke="#ff1010" stroke-width="1.04" stroke-opacity="0.92"/>
<line x1="91.3" y1="469.5" x2="195.6" y2="514" stroke="#ff1010" stroke-width="0.41" stroke-opacity="0.79"/>
<line x1="99.3" y1="445.4" x2="91.3" y2="469.5" stroke="#ff1010" stroke-width="0.98" stroke-opacity="0.99"/>
<line x1="116.3" y1="429.5" x2="108.4" y2="486" stroke="#ff1010" stroke-width="1.02" stroke-opacity="0.86"/>
<line x1="99.3" y1="445.4" x2="195.6" y2="514" stroke="#ff1010" stroke-width="0.55" stroke-opacity="0.79"/>
<line x1="135.3" y1="490.2" x2="207" y2="444" stroke="#ff1010" stroke-width="0.53" stroke-opacity="0.82"/>
<line x1="108.4" y1="486" x2="207" y2="444" stroke="#ff1010" stroke-width="0.55" stroke-opacity="0.83"/>
<line x1="199.5" y1="467.8" x2="180.8" y2="507.2" stroke="#1010ff" stroke-width="0.74" stroke-opacity="0.89"/>
<line x1="200.6" y1="495.9" x2="225.6" y2="511.2" stroke="#1010ff" stroke-width="1.07" stroke-opacity="0.91"/>
<line x1="180.8" y1="507.2" x2="214.2" y2="484.9" stroke="#1010ff" stroke-width="1.05" stroke-opacity="0.92"/>
<line x1="213.5" y1="458.7" x2="209.4" y2="522.6" stroke="#1010ff" stroke-width="1" stroke-opacity="0.92"/>
<line x1="99.3" y1="445.4" x2="242.8" y2="539" stroke="#ff1010" stroke-width="0.72" stroke-opacity="0.84"/>
<line x1="94.8" y1="504.4" x2="207" y2="444" stroke="#ff1010" stroke-width="0.56" stroke-opacity="0.85"/>
<line x1="168.5" y1="480.5" x2="242.8" y2="539" stroke="#1010ff" stroke-width="0.75" stroke-opacity="0.76"/>
<line x1="135.3" y1="490.2" x2="200.6" y2="495.9" stroke="#ff1010" stroke-width="0.51" stroke-opacity="0.84"/>
<line x1="168.5" y1="480.5" x2="209.4" y2="522.6" stroke="#ff1010" stroke-width="0.68" stroke-opacity="0.67"/>
<line x1="207" y1="444" x2="200.6" y2="495.9" stroke="#1010ff" stroke-width="0.76" stroke-opacity="0.89"/>
<line x1="99.3" y1="445.4" x2="135.3" y2="490.2" stroke="#ff1010" stroke-width="1" stroke-opacity="1"/>
<line x1="116.3" y1="429.5" x2="195.6" y2="514" stroke="#ff1010" stroke-width="0.58" stroke-opacity="0.94"/>
<line x1="233.3" y1="474.3" x2="200.6" y2="495.9" stroke="#ff1010" stroke-width="0.77" stroke-opacity="0.85"/>
<line x1="180.8" y1="507.2" x2="213.5" y2="458.7" stroke="#1010ff" stroke-width="1.16" stroke-opacity="0.96"/>
<line x1="151.5" y1="428.4" x2="207" y2="444" stroke="#1010ff" stroke-width="0.51" stroke-opacity="0.64"/>
<line x1="199.5" y1="467.8" x2="135.3" y2="490.2" stroke="#ff1010" stroke-width="0.98" stroke-opacity="0.89"/>
<line x1="91.3" y1="469.5" x2="168.5" y2="480.5" stroke="#ff1010" stroke-width="1.08" stroke-opacity="0.99"/>
<line x1="151.5" y1="428.4" x2="180.8" y2="507.2" stroke="#ff1010" stroke-width="0.42" stroke-opacity="0.72"/>
<line x1="111.2" y1="522.6" x2="209.4" y2="522.6" stroke="#ff1010" stroke-width="0.59" stroke-opacity="0.83"/>
<line x1="108.4" y1="486" x2="147.5" y2="520.3" stroke="#ff1010" stroke-width="0.64" stroke-opacity="0.9"/>
<line x1="134.5" y1="459.6" x2="135.3" y2="490.2" stroke="#ff1010" stroke-width="0.65" stroke-opacity="0.95"/>
<line x1="134.5" y1="459.6" x2="233.3" y2="474.3" stroke="#ff1010" stroke-width="0.94" stroke-opacity="0.85"/>
<line x1="147.5" y1="520.3" x2="225.6" y2="511.2" stroke="#1010ff" stroke-width="0.69" stroke-opacity="0.83"/>
<line x1="195.6" y1="514" x2="209.4" y2="522.6" stroke="#1010ff" stroke-width="0.85" stroke-opacity="0.95"/>
<line x1="214.2" y1="484.9" x2="242.8" y2="539" stroke="#1010ff" stroke-width="0.64" stroke-opacity="0.89"/>
<line x1="177.9" y1="458.7" x2="213.5" y2="458.7" stroke="#1010ff" stroke-width="0.73" stroke-opacity="0.99"/>
<line x1="91.3" y1="469.5" x2="108.4" y2="486" stroke="#ff1010" stroke-width="0.59" stroke-opacity="0.89"/>
<line x1="151.5" y1="428.4" x2="200.6" y2="495.9" stroke="#1010ff" stroke-width="0.68" stroke-opacity="0.68"/>
<line x1="94.8" y1="504.4" x2="213.5" y2="458.7" stroke="#ff1010" stroke-width="0.42" stroke-opacity="0.75"/>
<line x1="233.3" y1="474.3" x2="209.4" y2="522.6" stroke="#1010ff" stroke-width="1.11" stroke-opacity="0.9"/>
<line x1="151.5" y1="428.4" x2="225.6" y2="511.2" stroke="#ff1010" stroke-width="0.36" stroke-opacity="0.7"/>
<line x1="134.5" y1="459.6" x2="225.6" y2="511.2" stroke="#ff1010" stroke-width="0.96" stroke-opacity="0.91"/>
<line x1="177.9" y1="458.7" x2="168.5" y2="480.5" stroke="#1010ff" stroke-width="0.67" stroke-opacity="0.62"/>
<line x1="183" y1="435.8" x2="200.6" y2="495.9" stroke="#1010ff" stroke-width="0.63" stroke-opacity="0.88"/>
<line x1="147.5" y1="520.3" x2="213.5" y2="458.7" stroke="#ff1010" stroke-width="0.57" stroke-opacity="0.77"/>
<line x1="151.5" y1="428.4" x2="199.5" y2="467.8" stroke="#ff1010" stroke-width="0.75" stroke-opacity="0.87"/>
<line x1="111.2" y1="522.6" x2="233.3" y2="474.3" stroke="#ff1010" stroke-width="0.92" stroke-opacity="0.97"/>
<line x1="91.3" y1="469.5" x2="199.5" y2="467.8" stroke="#ff1010" stroke-width="0.55" stroke-opacity="0.79"/>
<line x1="225.6" y1="511.2" x2="242.8" y2="539" stroke="#1010ff" stroke-width="0.63" stroke-opacity="0.94"/>
<line x1="199.5" y1="467.8" x2="213.5" y2="458.7" stroke="#1010ff" stroke-width="1.01" stroke-opacity="0.88"/>
<line x1="180.8" y1="507.2" x2="122" y2="542.7" stroke="#ff1010" stroke-width="0.41" stroke-opacity="0.89"/>
<line x1="134.5" y1="459.6" x2="168.5" y2="480.5" stroke="#ff1010" stroke-width="0.89" stroke-opacity="0.82"/>
<line x1="180.8" y1="507.2" x2="195.6" y2="514" stroke="#1010ff" stroke-width="1.07" stroke-opacity="0.91"/>
<line x1="94.8" y1="504.4" x2="122" y2="542.7" stroke="#ff1010" stroke-width="0.8" stroke-opacity="0.98"/>
<line x1="207" y1="444" x2="213.5" y2="458.7" stroke="#1010ff" stroke-width="1.11" stroke-opacity="0.86"/>
<line x1="116.3" y1="429.5" x2="199.5" y2="467.8" stroke="#1010ff" stroke-width="0.64" stroke-opacity="0.99"/>
<line x1="180.8" y1="507.2" x2="209.4" y2="522.6" stroke="#1010ff" stroke-width="0.91" stroke-opacity="0.89"/>
<line x1="225.6" y1="511.2" x2="209.4" y2="522.6" stroke="#1010ff" stroke-width="1.01" stroke-opacity="0.97"/>
<line x1="91.3" y1="469.5" x2="135.3" y2="490.2" stroke="#ff1010" stroke-width="0.65" stroke-opacity="0.99"/>
<line x1="134.5" y1="459.6" x2="111.2" y2="522.6" stroke="#ff1010" stroke-width="0.91" stroke-opacity="0.86"/>
<line x1="213.5" y1="458.7" x2="233.3" y2="474.3" stroke="#ff1010" stroke-width="1.03" stroke-opacity="0.98"/>
<line x1="199.5" y1="467.8" x2="207" y2="444" stroke="#1010ff" stroke-width="0.62" stroke-opacity="0.9"/>
<line x1="168.5" y1="480.5" x2="122" y2="542.7" stroke="#ff1010" stroke-width="0.68" stroke-opacity="0.82"/>
<line x1="177.9" y1="458.7" x2="195.6" y2="514" stroke="#1010ff" stroke-width="0.99" stroke-opacity="0.9"/>
<line x1="207" y1="444" x2="214.2" y2="484.9" stroke="#1010ff" stroke-width="1.02" stroke-opacity="0.93"/>
<line x1="183" y1="435.8" x2="199.5" y2="467.8" stroke="#1010ff" stroke-width="0.69" stroke-opacity="0.98"/>
<line x1="207" y1="444" x2="242.8" y2="539" stroke="#1010ff" stroke-width="0.85" stroke-opacity="0.99"/>
<line x1="116.3" y1="429.5" x2="151.5" y2="428.4" stroke="#ff1010" stroke-width="0.59" stroke-opacity="0.93"/>
<line x1="151.5" y1="428.4" x2="147.5" y2="520.3" stroke="#ff1010" stroke-width="0.72" stroke-opacity="0.81"/>
<line x1="183" y1="435.8" x2="233.3" y2="474.3" stroke="#1010ff" stroke-width="0.87" stroke-opacity="0.9"/>
<line x1="108.4" y1="486" x2="209.4" y2="522.6" stroke="#ff1010" stroke-width="0.65" stroke-opacity="0.89"/>
<line x1="116.3" y1="429.5" x2="177.9" y2="458.7" stroke="#ff1010" stroke-width="0.78" stroke-opacity="0.98"/>
<line x1="177.9" y1="458.7" x2="122" y2="542.7" stroke="#1010ff" stroke-width="0.64" stroke-opacity="0.75"/>
<line x1="195.6" y1="514" x2="233.3" y2="474.3" stroke="#1010ff" stroke-width="0.85" stroke-opacity="0.88"/>
<line x1="209.4" y1="522.6" x2="242.8" y2="539" stroke="#ff1010" stroke-width="0.88" stroke-opacity="1"/>
<line x1="111.2" y1="522.6" x2="213.5" y2="458.7" stroke="#ff1010" stroke-width="0.95" stroke-opacity="0.74"/>
<line x1="116.3" y1="429.5" x2="180.8" y2="507.2" stroke="#ff1010" stroke-width="0.73" stroke-opacity="0.72"/>
<line x1="108.4" y1="486" x2="233.3" y2="474.3" stroke="#ff1010" stroke-width="0.42" stroke-opacity="0.87"/>
<line x1="183" y1="435.8" x2="91.3" y2="469.5" stroke="#ff1010" stroke-width="0.44" stroke-opacity="0.77"/>
<line x1="199.5" y1="467.8" x2="214.2" y2="484.9" stroke="#1010ff" stroke-width="1.14" stroke-opacity="0.98"/>
<line x1="180.8" y1="507.2" x2="200.6" y2="495.9" stroke="#ff1010" stroke-width="0.8" stroke-opacity="0.96"/>
<line x1="183" y1="435.8" x2="168.5" y2="480.5" stroke="#ff1010" stroke-width="0.78" stroke-opacity="0.74"/>
<line x1="168.5" y1="480.5" x2="200.6" y2="495.9" stroke="#1010ff" stroke-width="0.48" stroke-opacity="0.71"/>
<line x1="183" y1="435.8" x2="195.6" y2="514" stroke="#ff1010" stroke-width="0.8" stroke-opacity="0.94"/>
<line x1="91.3" y1="469.5" x2="225.6" y2="511.2" stroke="#ff1010" stroke-width="0.42" stroke-opacity="0.74"/>
<line x1="199.5" y1="467.8" x2="200.6" y2="495.9" stroke="#1010ff" stroke-width="0.71" stroke-opacity="0.99"/>
<line x1="116.3" y1="429.5" x2="183" y2="435.8" stroke="#ff1010" stroke-width="0.7" stroke-opacity="0.71"/>
<line x1="134.5" y1="459.6" x2="94.8" y2="504.4" stroke="#ff1010" stroke-width="0.84" stroke-opacity="0.8"/>
<line x1="99.3" y1="445.4" x2="233.3" y2="474.3" stroke="#ff1010" stroke-width="0.71" stroke-opacity="0.87"/>
<line x1="151.5" y1="428.4" x2="242.8" y2="539" stroke="#ff1010" stroke-width="0.45" stroke-opacity="0.67"/>
<line x1="116.3" y1="429.5" x2="225.6" y2="511.2" stroke="#ff1010" stroke-width="0.8" stroke-opacity="0.71"/>
<line x1="91.3" y1="469.5" x2="180.8" y2="507.2" stroke="#ff1010" stroke-width="0.68" stroke-opacity="0.85"/>
<line x1="116.3" y1="429.5" x2="207" y2="444" stroke="#ff1010" stroke-width="0.93" stroke-opacity="0.92"/>
<line x1="168.5" y1="480.5" x2="135.3" y2="490.2" stroke="#ff1010" stroke-width="1.1" stroke-opacity="0.9"/>
<line x1="135.3" y1="490.2" x2="214.2" y2="484.9" stroke="#ff1010" stroke-width="0.77" stroke-opacity="0.85"/>
<line x1="151.5" y1="428.4" x2="111.2" y2="522.6" stroke="#ff1010" stroke-width="0.5" stroke-opacity="0.83"/>
<line x1="122" y1="542.7" x2="200.6" y2="495.9" stroke="#1010ff" stroke-width="0.54" stroke-opacity="0.99"/>
<line x1="200.6" y1="495.9" x2="242.8" y2="539" stroke="#1010ff" stroke-width="0.7" stroke-opacity="0.89"/>
<line x1="183" y1="435.8" x2="225.6" y2="511.2" stroke="#1010ff" stroke-width="0.77" stroke-opacity="0.93"/>
<line x1="199.5" y1="467.8" x2="122" y2="542.7" stroke="#ff1010" stroke-width="0.8" stroke-opacity="0.98"/>
<line x1="207" y1="444" x2="225.6" y2="511.2" stroke="#ff1010" stroke-width="0.89" stroke-opacity="0.92"/>
<line x1="147.5" y1="520.3" x2="214.2" y2="484.9" stroke="#ff1010" stroke-width="0.47" stroke-opacity="0.92"/>
<line x1="134.5" y1="459.6" x2="209.4" y2="522.6" stroke="#ff1010" stroke-width="0.62" stroke-opacity="0.82"/>
<line x1="116.3" y1="429.5" x2="94.8" y2="504.4" stroke="#ff1010" stroke-width="0.85" stroke-opacity="0.93"/>
<line x1="177.9" y1="458.7" x2="233.3" y2="474.3" stroke="#1010ff" stroke-width="0.73" stroke-opacity="0.89"/>
<line x1="151.5" y1="428.4" x2="183" y2="435.8" stroke="#1010ff" stroke-width="0.62" stroke-opacity="0.69"/>
<line x1="177.9" y1="458.7" x2="111.2" y2="522.6" stroke="#ff1010" stroke-width="0.68" stroke-opacity="0.8"/>
<line x1="99.3" y1="445.4" x2="134.5" y2="459.6" stroke="#ff1010" stroke-width="0.74" stroke-opacity="0.99"/>
<line x1="168.5" y1="480.5" x2="233.3" y2="474.3" stroke="#1010ff" stroke-width="0.6" stroke-opacity="0.62"/>
<line x1="116.3" y1="429.5" x2="134.5" y2="459.6" stroke="#ff1010" stroke-width="1" stroke-opacity="0.82"/>
<line x1="147.5" y1="520.3" x2="233.3" y2="474.3" stroke="#1010ff" stroke-width="0.53" stroke-opacity="0.91"/>
<line x1="177.9" y1="458.7" x2="199.5" y2="467.8" stroke="#1010ff" stroke-width="0.98" stroke-opacity="0.99"/>
<line x1="177.9" y1="458.7" x2="209.4" y2="522.6" stroke="#1010ff" stroke-width="1.18" stroke-opacity="0.89"/>
<line x1="195.6" y1="514" x2="242.8" y2="539" stroke="#1010ff" stroke-width="0.89" stroke-opacity="1"/>
<line x1="168.5" y1="480.5" x2="111.2" y2="522.6" stroke="#ff1010" stroke-width="0.78" stroke-opacity="0.96"/>
<line x1="135.3" y1="490.2" x2="213.5" y2="458.7" stroke="#ff1010" stroke-width="0.63" stroke-opacity="0.74"/>
<line x1="180.8" y1="507.2" x2="207" y2="444" stroke="#1010ff" stroke-width="0.81" stroke-opacity="0.95"/>
<line x1="116.3" y1="429.5" x2="209.4" y2="522.6" stroke="#ff1010" stroke-width="0.47" stroke-opacity="0.72"/>
<line x1="94.8" y1="504.4" x2="214.2" y2="484.9" stroke="#1010ff" stroke-width="0.62" stroke-opacity="0.93"/>
<line x1="151.5" y1="428.4" x2="94.8" y2="504.4" stroke="#ff1010" stroke-width="0.54" stroke-opacity="0.81"/>
<line x1="135.3" y1="490.2" x2="195.6" y2="514" stroke="#ff1010" stroke-width="0.87" stroke-opacity="0.77"/>
<line x1="99.3" y1="445.4" x2="122" y2="542.7" stroke="#ff1010" stroke-width="0.85" stroke-opacity="0.85"/>
<line x1="99.3" y1="445.4" x2="214.2" y2="484.9" stroke="#ff1010" stroke-width="0.74" stroke-opacity="0.77"/>
<line x1="275.9" y1="480.3" x2="263.1" y2="499.9" stroke="#ff1010" stroke-width="1.24" stroke-opacity="0.96"/>
<line x1="263.1" y1="499.9" x2="283.2" y2="541.2" stroke="#ff1010" stroke-width="0.89" stroke-opacity="0.93"/>
<line x1="278.4" y1="461" x2="257.5" y2="521.4" stroke="#ff1010" stroke-width="0.77" stroke-opacity="0.86"/>
<line x1="265.7" y1="429.8" x2="283.2" y2="541.2" stroke="#ff1010" stroke-width="0.7" stroke-opacity="0.95"/>
<line x1="235.3" y1="436.3" x2="250.9" y2="442" stroke="#ff1010" stroke-width="0.89" stroke-opacity="0.87"/>
<line x1="277.9" y1="441.1" x2="305" y2="483.7" stroke="#ff1010" stroke-width="0.8" stroke-opacity="0.87"/>
<line x1="281.3" y1="409" x2="274.5" y2="508.4" stroke="#ff1010" stroke-width="1.26" stroke-opacity="0.94"/>
<line x1="281.3" y1="409" x2="263.1" y2="499.9" stroke="#ff1010" stroke-width="0.65" stroke-opacity="0.91"/>
<line x1="260.9" y1="460.7" x2="244.3" y2="490.4" stroke="#ff1010" stroke-width="0.68" stroke-opacity="0.98"/>
<line x1="251.5" y1="419.3" x2="263.1" y2="499.9" stroke="#ff1010" stroke-width="0.76" stroke-opacity="0.94"/>
<line x1="265.7" y1="429.8" x2="291.2" y2="500.7" stroke="#ff1010" stroke-width="0.63" stroke-opacity="0.97"/>
<line x1="235.3" y1="436.3" x2="266.5" y2="544.7" stroke="#ff1010" stroke-width="1.28" stroke-opacity="0.96"/>
<line x1="251.5" y1="419.3" x2="291.2" y2="500.7" stroke="#1010ff" stroke-width="1.22" stroke-opacity="0.93"/>
<line x1="251.5" y1="419.3" x2="257.5" y2="521.4" stroke="#ff1010" stroke-width="0.7" stroke-opacity="0.86"/>
<line x1="277.9" y1="441.1" x2="275.9" y2="480.3" stroke="#ff1010" stroke-width="0.96" stroke-opacity="0.92"/>
<line x1="277.9" y1="441.1" x2="274.5" y2="508.4" stroke="#ff1010" stroke-width="0.96" stroke-opacity="0.93"/>
<line x1="277.9" y1="441.1" x2="243" y2="460.1" stroke="#ff1010" stroke-width="1.19" stroke-opacity="0.98"/>
<line x1="250.9" y1="442" x2="281.3" y2="409" stroke="#ff1010" stroke-width="0.64" stroke-opacity="0.96"/>
<line x1="281.3" y1="409" x2="257.5" y2="521.4" stroke="#1010ff" stroke-width="1.22" stroke-opacity="0.86"/>
<line x1="251.5" y1="419.3" x2="281.3" y2="409" stroke="#ff1010" stroke-width="1.17" stroke-opacity="0.98"/>
<line x1="281.3" y1="409" x2="305" y2="483.7" stroke="#ff1010" stroke-width="0.79" stroke-opacity="0.92"/>
<line x1="243" y1="460.1" x2="260.9" y2="460.7" stroke="#ff1010" stroke-width="0.95" stroke-opacity="0.99"/>
<line x1="243" y1="460.1" x2="266.5" y2="544.7" stroke="#ff1010" stroke-width="1.08" stroke-opacity="0.91"/>
<line x1="281.3" y1="409" x2="278.4" y2="461" stroke="#ff1010" stroke-width="0.9" stroke-opacity="1"/>
<line x1="244.3" y1="490.4" x2="274.5" y2="508.4" stroke="#ff1010" stroke-width="1.25" stroke-opacity="0.88"/>
<line x1="274.5" y1="508.4" x2="305" y2="483.7" stroke="#ff1010" stroke-width="0.83" stroke-opacity="0.88"/>
<line x1="260.9" y1="460.7" x2="257.5" y2="521.4" stroke="#ff1010" stroke-width="0.85" stroke-opacity="1"/>
<line x1="235.3" y1="436.3" x2="274.5" y2="508.4" stroke="#ff1010" stroke-width="0.7" stroke-opacity="0.97"/>
<line x1="265.7" y1="429.8" x2="305" y2="483.7" stroke="#1010ff" stroke-width="1.22" stroke-opacity="0.87"/>
<line x1="277.9" y1="441.1" x2="281.3" y2="409" stroke="#ff1010" stroke-width="1.11" stroke-opacity="0.86"/>
<line x1="265.7" y1="429.8" x2="266.5" y2="544.7" stroke="#ff1010" stroke-width="0.94" stroke-opacity="0.88"/>
<line x1="244.3" y1="490.4" x2="291.2" y2="500.7" stroke="#ff1010" stroke-width="1.14" stroke-opacity="0.98"/>
<line x1="235.3" y1="436.3" x2="294.9" y2="462.4" stroke="#ff1010" stroke-width="1.2" stroke-opacity="0.96"/>
<line x1="281.3" y1="409" x2="244.3" y2="490.4" stroke="#ff1010" stroke-width="0.9" stroke-opacity="0.94"/>
<line x1="275.9" y1="480.3" x2="274.5" y2="508.4" stroke="#ff1010" stroke-width="0.8" stroke-opacity="0.86"/>
<line x1="274.5" y1="508.4" x2="283.2" y2="541.2" stroke="#ff1010" stroke-width="1.17" stroke-opacity="0.95"/>
<line x1="235.3" y1="436.3" x2="244.3" y2="490.4" stroke="#ff1010" stroke-width="0.61" stroke-opacity="0.85"/>
<line x1="277.9" y1="441.1" x2="244.3" y2="490.4" stroke="#ff1010" stroke-width="1.1" stroke-opacity="0.97"/>
<line x1="278.4" y1="461" x2="291.2" y2="500.7" stroke="#ff1010" stroke-width="0.91" stroke-opacity="0.91"/>
<line x1="250.9" y1="442" x2="266.5" y2="544.7" stroke="#ff1010" stroke-width="1" stroke-opacity="0.87"/>
<line x1="294.9" y1="462.4" x2="274.5" y2="508.4" stroke="#ff1010" stroke-width="1.27" stroke-opacity="0.88"/>
<line x1="275.9" y1="480.3" x2="266.5" y2="544.7" stroke="#ff1010" stroke-width="1.09" stroke-opacity="0.91"/>
<line x1="250.9" y1="442" x2="244.3" y2="490.4" stroke="#ff1010" stroke-width="0.85" stroke-opacity="1"/>
<line x1="263.1" y1="499.9" x2="274.5" y2="508.4" stroke="#ff1010" stroke-width="1.27" stroke-opacity="0.92"/>
<line x1="275.9" y1="480.3" x2="283.2" y2="541.2" stroke="#ff1010" stroke-width="1.25" stroke-opacity="0.87"/>
<line x1="260.9" y1="460.7" x2="278.4" y2="461" stroke="#ff1010" stroke-width="0.91" stroke-opacity="0.94"/>
<line x1="243" y1="460.1" x2="278.4" y2="461" stroke="#ff1010" stroke-width="0.89" stroke-opacity="0.97"/>
<line x1="251.5" y1="419.3" x2="243" y2="460.1" stroke="#ff1010" stroke-width="1.2" stroke-opacity="0.97"/>
<line x1="292.9" y1="524.8" x2="266.5" y2="544.7" stroke="#ff1010" stroke-width="0.61" stroke-opacity="0.98"/>
<line x1="294.9" y1="462.4" x2="244.3" y2="490.4" stroke="#ff1010" stroke-width="0.71" stroke-opacity="0.96"/>
<line x1="235.3" y1="436.3" x2="305" y2="483.7" stroke="#ff1010" stroke-width="0.9" stroke-opacity="0.98"/>
<line x1="281.3" y1="409" x2="243" y2="460.1" stroke="#ff1010" stroke-width="0.88" stroke-opacity="0.99"/>
<line x1="274.5" y1="508.4" x2="266.5" y2="544.7" stroke="#1010ff" stroke-width="1.16" stroke-opacity="0.86"/>
<line x1="274.5" y1="508.4" x2="257.5" y2="521.4" stroke="#ff1010" stroke-width="1.17" stroke-opacity="0.99"/>
<line x1="277.9" y1="441.1" x2="292.9" y2="524.8" stroke="#ff1010" stroke-width="0.67" stroke-opacity="0.89"/>
<line x1="244.3" y1="490.4" x2="266.5" y2="544.7" stroke="#ff1010" stroke-width="1" stroke-opacity="0.94"/>
<line x1="263.1" y1="499.9" x2="257.5" y2="521.4" stroke="#ff1010" stroke-width="0.84" stroke-opacity="0.98"/>
<line x1="265.7" y1="429.8" x2="281.3" y2="409" stroke="#ff1010" stroke-width="1.21" stroke-opacity="0.92"/>
<line x1="265.7" y1="429.8" x2="274.5" y2="508.4" stroke="#ff1010" stroke-width="1.29" stroke-opacity="0.86"/>
<line x1="275.9" y1="480.3" x2="291.2" y2="500.7" stroke="#ff1010" stroke-width="1.09" stroke-opacity="0.91"/>
<line x1="251.5" y1="419.3" x2="266.5" y2="544.7" stroke="#ff1010" stroke-width="0.71" stroke-opacity="0.94"/>
<line x1="250.9" y1="442" x2="278.4" y2="461" stroke="#ff1010" stroke-width="0.83" stroke-opacity="0.88"/>
<line x1="294.9" y1="462.4" x2="283.2" y2="541.2" stroke="#ff1010" stroke-width="0.75" stroke-opacity="0.98"/>
<line x1="291.2" y1="500.7" x2="305" y2="483.7" stroke="#ff1010" stroke-width="1.1" stroke-opacity="0.91"/>
<line x1="275.9" y1="480.3" x2="257.5" y2="521.4" stroke="#ff1010" stroke-width="1.25" stroke-opacity="0.95"/>
<line x1="263.1" y1="499.9" x2="305" y2="483.7" stroke="#ff1010" stroke-width="0.68" stroke-opacity="0.98"/>
<line x1="278.4" y1="461" x2="244.3" y2="490.4" stroke="#ff1010" stroke-width="0.85" stroke-opacity="0.88"/>
<line x1="257.5" y1="521.4" x2="292.9" y2="524.8" stroke="#ff1010" stroke-width="1.04" stroke-opacity="0.9"/>
<line x1="251.5" y1="419.3" x2="305" y2="483.7" stroke="#ff1010" stroke-width="1.15" stroke-opacity="0.91"/>
<line x1="291.2" y1="500.7" x2="266.5" y2="544.7" stroke="#ff1010" stroke-width="1.18" stroke-opacity="0.91"/>
<line x1="265.7" y1="429.8" x2="278.4" y2="461" stroke="#ff1010" stroke-width="1" stroke-opacity="0.95"/>
<line x1="265.7" y1="429.8" x2="277.9" y2="441.1" stroke="#ff1010" stroke-width="0.66" stroke-opacity="0.86"/>
<line x1="281.3" y1="409" x2="291.2" y2="500.7" stroke="#ff1010" stroke-width="0.61" stroke-opacity="0.87"/>
<line x1="277.9" y1="441.1" x2="294.9" y2="462.4" stroke="#ff1010" stroke-width="1.18" stroke-opacity="0.91"/>
<line x1="244.3" y1="490.4" x2="305" y2="483.7" stroke="#ff1010" stroke-width="0.81" stroke-opacity="0.94"/>
<line x1="277.9" y1="441.1" x2="291.2" y2="500.7" stroke="#ff1010" stroke-width="0.64" stroke-opacity="0.98"/>
<line x1="243" y1="460.1" x2="283.2" y2="541.2" stroke="#ff1010" stroke-width="1.02" stroke-opacity="0.9"/>
<line x1="294.9" y1="462.4" x2="291.2" y2="500.7" stroke="#ff1010" stroke-width="0.71" stroke-opacity="0.9"/>
<line x1="235.3" y1="436.3" x2="291.2" y2="500.7" stroke="#1010ff" stroke-width="0.94" stroke-opacity="0.86"/>
<line x1="235.3" y1="436.3" x2="263.1" y2="499.9" stroke="#ff1010" stroke-width="1.11" stroke-opacity="0.87"/>
<line x1="281.3" y1="409" x2="275.9" y2="480.3" stroke="#ff1010" stroke-width="0.96" stroke-opacity="0.99"/>
<line x1="250.9" y1="442" x2="294.9" y2="462.4" stroke="#ff1010" stroke-width="0.82" stroke-opacity="0.99"/>
<line x1="281.3" y1="409" x2="266.5" y2="544.7" stroke="#ff1010" stroke-width="1.25" stroke-opacity="0.94"/>
<line x1="260.9" y1="460.7" x2="275.9" y2="480.3" stroke="#ff1010" stroke-width="0.82" stroke-opacity="1"/>
<line x1="277.9" y1="441.1" x2="283.2" y2="541.2" stroke="#ff1010" stroke-width="0.61" stroke-opacity="0.94"/>
<line x1="251.5" y1="419.3" x2="277.9" y2="441.1" stroke="#ff1010" stroke-width="1.22" stroke-opacity="0.86"/>
<line x1="257.5" y1="521.4" x2="305" y2="483.7" stroke="#ff1010" stroke-width="0.99" stroke-opacity="0.91"/>
<line x1="243" y1="460.1" x2="305" y2="483.7" stroke="#ff1010" stroke-width="0.86" stroke-opacity="0.91"/>
<line x1="281.3" y1="409" x2="292.9" y2="524.8" stroke="#ff1010" stroke-width="0.79" stroke-opacity="0.95"/>
<line x1="260.9" y1="460.7" x2="292.9" y2="524.8" stroke="#ff1010" stroke-width="0.63" stroke-opacity="0.91"/>
<line x1="275.9" y1="480.3" x2="292.9" y2="524.8" stroke="#ff1010" stroke-width="1.18" stroke-opacity="0.94"/>
<line x1="294.9" y1="462.4" x2="275.9" y2="480.3" stroke="#ff1010" stroke-width="0.73" stroke-opacity="0.89"/>
<line x1="243" y1="460.1" x2="294.9" y2="462.4" stroke="#1010ff" stroke-width="1.03" stroke-opacity="0.91"/>
<line x1="235.3" y1="436.3" x2="275.9" y2="480.3" stroke="#ff1010" stroke-width="1.25" stroke-opacity="0.89"/>
<line x1="235.3" y1="436.3" x2="260.9" y2="460.7" stroke="#ff1010" stroke-width="0.77" stroke-opacity="0.96"/>
<line x1="251.5" y1="419.3" x2="278.4" y2="461" stroke="#ff1010" stroke-width="0.99" stroke-opacity="0.97"/>
<line x1="278.4" y1="461" x2="275.9" y2="480.3" stroke="#ff1010" stroke-width="0.61" stroke-opacity="0.97"/>
<line x1="277.9" y1="441.1" x2="278.4" y2="461" stroke="#ff1010" stroke-width="1.21" stroke-opacity="0.89"/>
<line x1="294.9" y1="462.4" x2="257.5" y2="521.4" stroke="#ff1010" stroke-width="0.76" stroke-opacity="0.92"/>
<line x1="257.5" y1="521.4" x2="283.2" y2="541.2" stroke="#ff1010" stroke-width="0.81" stroke-opacity="0.96"/>
<line x1="250.9" y1="442" x2="243" y2="460.1" stroke="#ff1010" stroke-width="1.21" stroke-opacity="0.89"/>
<line x1="294.9" y1="462.4" x2="292.9" y2="524.8" stroke="#ff1010" stroke-width="1.09" stroke-opacity="0.89"/>
<line x1="291.2" y1="500.7" x2="257.5" y2="521.4" stroke="#ff1010" stroke-width="1.13" stroke-opacity="0.87"/>
<line x1="274.5" y1="508.4" x2="292.9" y2="524.8" stroke="#ff1010" stroke-width="0.84" stroke-opacity="0.87"/>
<line x1="250.9" y1="442" x2="292.9" y2="524.8" stroke="#ff1010" stroke-width="0.73" stroke-opacity="0.92"/>
<line x1="275.9" y1="480.3" x2="305" y2="483.7" stroke="#ff1010" stroke-width="0.98" stroke-opacity="0.89"/>
<line x1="265.7" y1="429.8" x2="260.9" y2="460.7" stroke="#ff1010" stroke-width="0.68" stroke-opacity="0.99"/>
<line x1="266.5" y1="544.7" x2="283.2" y2="541.2" stroke="#1010ff" stroke-width="0.84" stroke-opacity="0.87"/>
<line x1="244.3" y1="490.4" x2="263.1" y2="499.9" stroke="#ff1010" stroke-width="0.77" stroke-opacity="0.87"/>
<line x1="283.2" y1="541.2" x2="305" y2="483.7" stroke="#ff1010" stroke-width="1.29" stroke-opacity="0.86"/>
<line x1="260.9" y1="460.7" x2="263.1" y2="499.9" stroke="#ff1010" stroke-width="1.29" stroke-opacity="0.98"/>
<line x1="277.9" y1="441.1" x2="266.5" y2="544.7" stroke="#ff1010" stroke-width="0.67" stroke-opacity="0.95"/>
<line x1="278.4" y1="461" x2="263.1" y2="499.9" stroke="#ff1010" stroke-width="1.23" stroke-opacity="0.94"/>
<line x1="278.4" y1="461" x2="283.2" y2="541.2" stroke="#ff1010" stroke-width="1.02" stroke-opacity="0.99"/>
<line x1="244.3" y1="490.4" x2="283.2" y2="541.2" stroke="#ff1010" stroke-width="1.09" stroke-opacity="0.99"/>
<line x1="250.9" y1="442" x2="283.2" y2="541.2" stroke="#ff1010" stroke-width="1.14" stroke-opacity="0.96"/>
<line x1="251.5" y1="419.3" x2="265.7" y2="429.8" stroke="#ff1010" stroke-width="0.8" stroke-opacity="0.85"/>
<line x1="250.9" y1="442" x2="275.9" y2="480.3" stroke="#1010ff" stroke-width="1.07" stroke-opacity="0.88"/>
<line x1="250.9" y1="442" x2="260.9" y2="460.7" stroke="#ff1010" stroke-width="0.71" stroke-opacity="0.89"/>
<line x1="235.3" y1="436.3" x2="257.5" y2="521.4" stroke="#ff1010" stroke-width="0.87" stroke-opacity="0.97"/>
<line x1="244.3" y1="490.4" x2="257.5" y2="521.4" stroke="#ff1010" stroke-width="0.73" stroke-opacity="0.97"/>
<line x1="235.3" y1="436.3" x2="281.3" y2="409" stroke="#ff1010" stroke-width="0.6" stroke-opacity="0.95"/>
<line x1="250.9" y1="442" x2="305" y2="483.7" stroke="#ff1010" stroke-width="0.74" stroke-opacity="0.94"/>
<line x1="243" y1="460.1" x2="244.3" y2="490.4" stroke="#ff1010" stroke-width="0.95" stroke-opacity="0.92"/>
<line x1="243" y1="460.1" x2="257.5" y2="521.4" stroke="#ff1010" stroke-width="0.63" stroke-opacity="0.93"/>
<line x1="243" y1="460.1" x2="275.9" y2="480.3" stroke="#ff1010" stroke-width="0.87" stroke-opacity="0.93"/>
<line x1="278.4" y1="461" x2="305" y2="483.7" stroke="#ff1010" stroke-width="0.77" stroke-opacity="0.88"/>
<line x1="260.9" y1="460.7" x2="266.5" y2="544.7" stroke="#ff1010" stroke-width="1.08" stroke-opacity="0.85"/>
<line x1="244.3" y1="490.4" x2="292.9" y2="524.8" stroke="#ff1010" stroke-width="0.86" stroke-opacity="0.93"/>
<line x1="235.3" y1="436.3" x2="265.7" y2="429.8" stroke="#ff1010" stroke-width="1.26" stroke-opacity="1"/>
<line x1="235.3" y1="436.3" x2="277.9" y2="441.1" stroke="#ff1010" stroke-width="0.75" stroke-opacity="0.87"/>
<line x1="277.9" y1="441.1" x2="263.1" y2="499.9" stroke="#ff1010" stroke-width="1.1" stroke-opacity="0.91"/>
<line x1="277.9" y1="441.1" x2="257.5" y2="521.4" stroke="#ff1010" stroke-width="1.28" stroke-opacity="0.88"/>
<line x1="250.9" y1="442" x2="257.5" y2="521.4" stroke="#ff1010" stroke-width="0.6" stroke-opacity="0.97"/>
<line x1="278.4" y1="461" x2="294.9" y2="462.4" stroke="#ff1010" stroke-width="1.18" stroke-opacity="0.94"/>
<line x1="250.9" y1="442" x2="277.9" y2="441.1" stroke="#ff1010" stroke-width="1.04" stroke-opacity="0.87"/>
<line x1="251.5" y1="419.3" x2="260.9" y2="460.7" stroke="#ff1010" stroke-width="1.24" stroke-opacity="0.9"/>
<line x1="235.3" y1="436.3" x2="251.5" y2="419.3" stroke="#ff1010" stroke-width="0.61" stroke-opacity="0.91"/>
<line x1="235.3" y1="436.3" x2="278.4" y2="461" stroke="#ff1010" stroke-width="0.64" stroke-opacity="0.97"/>
<line x1="235.3" y1="436.3" x2="243" y2="460.1" stroke="#1010ff" stroke-width="0.69" stroke-opacity="0.85"/>
<line x1="251.5" y1="419.3" x2="283.2" y2="541.2" stroke="#ff1010" stroke-width="0.96" stroke-opacity="0.85"/>
<line x1="260.9" y1="460.7" x2="291.2" y2="500.7" stroke="#ff1010" stroke-width="0.71" stroke-opacity="0.89"/>
<line x1="265.7" y1="429.8" x2="250.9" y2="442" stroke="#ff1010" stroke-width="0.63" stroke-opacity="0.88"/>
<line x1="235.3" y1="436.3" x2="283.2" y2="541.2" stroke="#ff1010" stroke-width="0.83" stroke-opacity="0.94"/>
<line x1="251.5" y1="419.3" x2="244.3" y2="490.4" stroke="#ff1010" stroke-width="0.92" stroke-opacity="0.86"/>
<line x1="260.9" y1="460.7" x2="283.2" y2="541.2" stroke="#ff1010" stroke-width="1.19" stroke-opacity="0.94"/>
<line x1="278.4" y1="461" x2="266.5" y2="544.7" stroke="#ff1010" stroke-width="1.23" stroke-opacity="0.97"/>
<line x1="251.5" y1="419.3" x2="294.9" y2="462.4" stroke="#ff1010" stroke-width="1.13" stroke-opacity="0.99"/>
<line x1="263.1" y1="499.9" x2="292.9" y2="524.8" stroke="#ff1010" stroke-width="0.73" stroke-opacity="0.95"/>
<line x1="263.1" y1="499.9" x2="266.5" y2="544.7" stroke="#ff1010" stroke-width="1.06" stroke-opacity="0.91"/>
<line x1="281.3" y1="409" x2="283.2" y2="541.2" stroke="#ff1010" stroke-width="0.96" stroke-opacity="0.92"/>
<line x1="243" y1="460.1" x2="292.9" y2="524.8" stroke="#ff1010" stroke-width="1.24" stroke-opacity="0.97"/>
<line x1="260.9" y1="460.7" x2="274.5" y2="508.4" stroke="#ff1010" stroke-width="0.73" stroke-opacity="0.88"/>
<line x1="265.7" y1="429.8" x2="275.9" y2="480.3" stroke="#ff1010" stroke-width="0.91" stroke-opacity="0.87"/>
<line x1="243" y1="460.1" x2="263.1" y2="499.9" stroke="#ff1010" stroke-width="1.01" stroke-opacity="0.86"/>
<line x1="292.9" y1="524.8" x2="283.2" y2="541.2" stroke="#ff1010" stroke-width="0.91" stroke-opacity="0.94"/>
<line x1="281.3" y1="409" x2="294.9" y2="462.4" stroke="#ff1010" stroke-width="1.24" stroke-opacity="0.97"/>
<line x1="265.7" y1="429.8" x2="263.1" y2="499.9" stroke="#ff1010" stroke-width="1.23" stroke-opacity="0.99"/>
<line x1="294.9" y1="462.4" x2="266.5" y2="544.7" stroke="#ff1010" stroke-width="0.86" stroke-opacity="0.89"/>
<line x1="291.2" y1="500.7" x2="283.2" y2="541.2" stroke="#ff1010" stroke-width="1.27" stroke-opacity="0.93"/>
<line x1="251.5" y1="419.3" x2="274.5" y2="508.4" stroke="#ff1010" stroke-width="0.73" stroke-opacity="0.96"/>
<line x1="277.9" y1="441.1" x2="260.9" y2="460.7" stroke="#ff1010" stroke-width="0.61" stroke-opacity="0.99"/>
<line x1="265.7" y1="429.8" x2="292.9" y2="524.8" stroke="#ff1010" stroke-width="0.67" stroke-opacity="0.9"/>
<line x1="294.9" y1="462.4" x2="305" y2="483.7" stroke="#ff1010" stroke-width="0.66" stroke-opacity="0.88"/>
<line x1="250.9" y1="442" x2="291.2" y2="500.7" stroke="#ff1010" stroke-width="0.8" stroke-opacity="0.98"/>
<line x1="275.9" y1="480.3" x2="244.3" y2="490.4" stroke="#ff1010" stroke-width="0.77" stroke-opacity="0.87"/>
<line x1="281.3" y1="409" x2="260.9" y2="460.7" stroke="#ff1010" stroke-width="0.84" stroke-opacity="0.89"/>
<line x1="294.9" y1="462.4" x2="263.1" y2="499.9" stroke="#ff1010" stroke-width="0.91" stroke-opacity="0.98"/>
<line x1="265.7" y1="429.8" x2="243" y2="460.1" stroke="#1010ff" stroke-width="0.64" stroke-opacity="0.94"/>
<line x1="265.7" y1="429.8" x2="257.5" y2="521.4" stroke="#ff1010" stroke-width="0.81" stroke-opacity="0.94"/>
<line x1="266.5" y1="544.7" x2="305" y2="483.7" stroke="#ff1010" stroke-width="0.83" stroke-opacity="0.96"/>
<line x1="291.2" y1="500.7" x2="274.5" y2="508.4" stroke="#ff1010" stroke-width="0.91" stroke-opacity="0.98"/>
<line x1="251.5" y1="419.3" x2="275.9" y2="480.3" stroke="#ff1010" stroke-width="0.74" stroke-opacity="0.89"/>
<line x1="251.5" y1="419.3" x2="250.9" y2="442" stroke="#ff1010" stroke-width="0.9" stroke-opacity="0.94"/>
<line x1="263.1" y1="499.9" x2="291.2" y2="500.7" stroke="#ff1010" stroke-width="1.07" stroke-opacity="0.94"/>
<ellipse cx="116.3" cy="429.5" rx="2.91" ry="2.13" fill="#5ea544" stroke="#8a8a8a" stroke-width="0.25"/>
<text x="116.3" y="429.95" font-size="1.3" text-anchor="middle" fill="#555" textLength="15.6" lengthAdjust="spacingAndGlyphs">Ile-Pro</text>
<ellipse cx="151.5" cy="428.4" rx="3.58" ry="2.24" fill="#c4c4c4" stroke="#8a8a8a" stroke-width="0.25"/>
<text x="151.5" y="428.85" font-size="1.3" text-anchor="middle" fill="#555" textLength="21.3" lengthAdjust="spacingAndGlyphs">Phe-Val</text>
<ellipse cx="99.3" cy="445.4" rx="2.91" ry="1.68" fill="#c4c4c4" stroke="#8a8a8a" stroke-width="0.25"/>
<text x="99.3" y="445.85" font-size="1.3" text-anchor="middle" fill="#555" textLength="17" lengthAdjust="spacingAndGlyphs">Leu-Glu</text>
<ellipse cx="183" cy="435.8" rx="5.6" ry="4.03" fill="#c4c4c4" stroke="#8a8a8a" stroke-width="0.25"/>
<text x="183" y="436.39" font-size="1.68" text-anchor="middle" fill="#555" textLength="8.4" lengthAdjust="spacingAndGlyphs">Gly-Phe</text>
<ellipse cx="91.3" cy="469.5" rx="2.69" ry="2.02" fill="#5ea544" stroke="#8a8a8a" stroke-width="0.25"/>
<text x="91.3" y="469.95" font-size="1.3" text-anchor="middle" fill="#555" textLength="11.3" lengthAdjust="spacingAndGlyphs">Tyr-Ala</text>
<ellipse cx="134.5" cy="459.6" rx="3.58" ry="2.13" fill="#c4c4c4" stroke="#8a8a8a" stroke-width="0.25"/>
<text x="134.5" y="460.06" font-size="1.3" text-anchor="middle" fill="#555" textLength="10" lengthAdjust="spacingAndGlyphs">Pro-Leu</text>
<ellipse cx="177.9" cy="458.7" rx="5.6" ry="3.92" fill="#5ea544" stroke="#8a8a8a" stroke-width="0.25"/>
<text x="177.9" y="459.29" font-size="1.68" text-anchor="middle" fill="#555" textLength="8.4" lengthAdjust="spacingAndGlyphs">Ser-Ile</text>
<ellipse cx="199.5" cy="467.8" rx="7.17" ry="4.93" fill="#f0183c" stroke="#8a8a8a" stroke-width="0.25"/>
<text x="199.5" y="468.5" font-size="2" text-anchor="middle" fill="#555" textLength="10.75" lengthAdjust="spacingAndGlyphs">Thr-Val</text>
<ellipse cx="108.4" cy="486" rx="2.91" ry="2.24" fill="#b5df2c" stroke="#8a8a8a" stroke-width="0.25"/>
<text x="108.4" y="486.45" font-size="1.3" text-anchor="middle" fill="#555" textLength="8.6" lengthAdjust="spacingAndGlyphs">His-Pro</text>
<ellipse cx="168.5" cy="480.5" rx="4.7" ry="2.91" fill="#c4c4c4" stroke="#8a8a8a" stroke-width="0.25"/>
<text x="168.5" y="480.99" font-size="1.41" text-anchor="middle" fill="#555" textLength="7.06" lengthAdjust="spacingAndGlyphs">Arg-Gln</text>
<ellipse cx="135.3" cy="490.2" rx="3.58" ry="2.24" fill="#c4c4c4" stroke="#8a8a8a" stroke-width="0.25"/>
<text x="135.3" y="490.65" font-size="1.3" text-anchor="middle" fill="#555" textLength="10" lengthAdjust="spacingAndGlyphs">Lys-Phe</text>
<ellipse cx="94.8" cy="504.4" rx="2.91" ry="1.68" fill="#c4c4c4" stroke="#8a8a8a" stroke-width="0.25"/>
<text x="94.8" y="504.85" font-size="1.3" text-anchor="middle" fill="#555" textLength="8.6" lengthAdjust="spacingAndGlyphs">Met-Gly</text>
<ellipse cx="180.8" cy="507.2" rx="5.6" ry="3.92" fill="#5ea544" stroke="#8a8a8a" stroke-width="0.25"/>
<text x="180.8" y="507.79" font-size="1.68" text-anchor="middle" fill="#555" textLength="8.4" lengthAdjust="spacingAndGlyphs">Asp-Leu</text>
<ellipse cx="111.2" cy="522.6" rx="3.58" ry="2.02" fill="#c4c4c4" stroke="#8a8a8a" stroke-width="0.25"/>
<text x="111.2" y="523.06" font-size="1.3" text-anchor="middle" fill="#555" textLength="11.4" lengthAdjust="spacingAndGlyphs">Glu-Tyr</text>
<ellipse cx="147.5" cy="520.3" rx="3.58" ry="2.02" fill="#c4c4c4" stroke="#8a8a8a" stroke-width="0.25"/>
<text x="147.5" y="520.75" font-size="1.3" text-anchor="middle" fill="#555" textLength="19.1" lengthAdjust="spacingAndGlyphs">Ala-Ile</text>
<ellipse cx="195.6" cy="514" rx="6.72" ry="4.82" fill="#c4c4c4" stroke="#8a8a8a" stroke-width="0.25"/>
<text x="195.6" y="514.7" font-size="2" text-anchor="middle" fill="#555" textLength="10.08" lengthAdjust="spacingAndGlyphs">Gln-Trp</text>
<ellipse cx="122" cy="542.7" rx="2.91" ry="1.68" fill="#c4c4c4" stroke="#8a8a8a" stroke-width="0.25"/>
<text x="122" y="543.16" font-size="1.3" text-anchor="middle" fill="#555" textLength="8.5" lengthAdjust="spacingAndGlyphs">Asn-Val</text>
<ellipse cx="207" cy="444" rx="6.72" ry="4.7" fill="#c4c4c4" stroke="#8a8a8a" stroke-width="0.25"/>
<text x="207" y="444.7" font-size="2" text-anchor="middle" fill="#555" textLength="10.08" lengthAdjust="spacingAndGlyphs">Trp-Ser</text>
<ellipse cx="213.5" cy="458.7" rx="6.94" ry="5.04" fill="#c4c4c4" stroke="#8a8a8a" stroke-width="0.25"/>
<text x="213.5" y="459.4" font-size="2" text-anchor="middle" fill="#555" textLength="10.42" lengthAdjust="spacingAndGlyphs">Cys-Gly</text>
<ellipse cx="235.3" cy="436.3" rx="6.72" ry="4.48" fill="#c4c4c4" stroke="#8a8a8a" stroke-width="0.25"/>
<text x="235.3" y="437" font-size="2" text-anchor="middle" fill="#555" textLength="10.08" lengthAdjust="spacingAndGlyphs">Val-Trp</text>
<ellipse cx="251.5" cy="419.3" rx="6.16" ry="4.48" fill="#5ea544" stroke="#8a8a8a" stroke-width="0.25"/>
<text x="251.5" y="419.95" font-size="1.85" text-anchor="middle" fill="#555" textLength="9.24" lengthAdjust="spacingAndGlyphs">Ile-Pro</text>
<ellipse cx="265.7" cy="429.8" rx="5.6" ry="4.03" fill="#c4c4c4" stroke="#8a8a8a" stroke-width="0.25"/>
<text x="265.7" y="430.39" font-size="1.68" text-anchor="middle" fill="#555" textLength="8.4" lengthAdjust="spacingAndGlyphs">Phe-Val</text>
<ellipse cx="250.9" cy="442" rx="6.16" ry="4.48" fill="#c4c4c4" stroke="#8a8a8a" stroke-width="0.25"/>
<text x="250.9" y="442.65" font-size="1.85" text-anchor="middle" fill="#555" textLength="9.24" lengthAdjust="spacingAndGlyphs">Leu-Glu</text>
<ellipse cx="277.9" cy="441.1" rx="6.16" ry="4.48" fill="#c4c4c4" stroke="#8a8a8a" stroke-width="0.25"/>
<text x="277.9" y="441.75" font-size="1.85" text-anchor="middle" fill="#555" textLength="9.24" lengthAdjust="spacingAndGlyphs">Gly-Phe</text>
<ellipse cx="281.3" cy="409" rx="3.58" ry="2.46" fill="#c4c4c4" stroke="#8a8a8a" stroke-width="0.25"/>
<text x="281.3" y="409.45" font-size="1.3" text-anchor="middle" fill="#555" textLength="6" lengthAdjust="spacingAndGlyphs">Tyr-Ala</text>
<ellipse cx="301.3" cy="425.5" rx="4.7" ry="3.36" fill="#5ea544" stroke="#8a8a8a" stroke-width="0.25"/>
<text x="301.3" y="425.99" font-size="1.41" text-anchor="middle" fill="#555" textLength="7.06" lengthAdjust="spacingAndGlyphs">Pro-Leu</text>
<ellipse cx="243" cy="460.1" rx="6.16" ry="4.48" fill="#c4c4c4" stroke="#8a8a8a" stroke-width="0.25"/>
<text x="243" y="460.75" font-size="1.85" text-anchor="middle" fill="#555" textLength="9.24" lengthAdjust="spacingAndGlyphs">Ser-Ile</text>
<ellipse cx="260.9" cy="460.7" rx="6.16" ry="4.48" fill="#c4c4c4" stroke="#8a8a8a" stroke-width="0.25"/>
<text x="260.9" y="461.35" font-size="1.85" text-anchor="middle" fill="#555" textLength="9.24" lengthAdjust="spacingAndGlyphs">Thr-Val</text>
<ellipse cx="278.4" cy="461" rx="6.16" ry="4.48" fill="#c4c4c4" stroke="#8a8a8a" stroke-width="0.25"/>
<text x="278.4" y="461.65" font-size="1.85" text-anchor="middle" fill="#555" textLength="9.24" lengthAdjust="spacingAndGlyphs">His-Pro</text>
<ellipse cx="294.9" cy="462.4" rx="5.6" ry="4.03" fill="#c4c4c4" stroke="#8a8a8a" stroke-width="0.25"/>
<text x="294.9" y="462.99" font-size="1.68" text-anchor="middle" fill="#555" textLength="8.4" lengthAdjust="spacingAndGlyphs">Arg-Gln</text>
<ellipse cx="233.3" cy="474.3" rx="6.16" ry="4.48" fill="#c4c4c4" stroke="#8a8a8a" stroke-width="0.25"/>
<text x="233.3" y="474.95" font-size="1.85" text-anchor="middle" fill="#555" textLength="9.24" lengthAdjust="spacingAndGlyphs">Lys-Phe</text>
<ellipse cx="275.9" cy="480.3" rx="5.6" ry="4.48" fill="#c4c4c4" stroke="#8a8a8a" stroke-width="0.25"/>
<text x="275.9" y="480.89" font-size="1.68" text-anchor="middle" fill="#555" textLength="8.4" lengthAdjust="spacingAndGlyphs">Met-Gly</text>
<ellipse cx="214.2" cy="484.9" rx="7.84" ry="5.15" fill="#5ea544" stroke="#8a8a8a" stroke-width="0.25"/>
<text x="214.2" y="485.6" font-size="2" text-anchor="middle" fill="#555" textLength="11.76" lengthAdjust="spacingAndGlyphs">Asp-Leu</text>
<ellipse cx="244.3" cy="490.4" rx="6.16" ry="4.48" fill="#c4c4c4" stroke="#8a8a8a" stroke-width="0.25"/>
<text x="244.3" y="491.05" font-size="1.85" text-anchor="middle" fill="#555" textLength="9.24" lengthAdjust="spacingAndGlyphs">Glu-Tyr</text>
<ellipse cx="200.6" cy="495.9" rx="6.72" ry="4.7" fill="#c4c4c4" stroke="#8a8a8a" stroke-width="0.25"/>
<text x="200.6" y="496.6" font-size="2" text-anchor="middle" fill="#555" textLength="10.08" lengthAdjust="spacingAndGlyphs">Ala-Ile</text>
<ellipse cx="263.1" cy="499.9" rx="6.16" ry="4.48" fill="#c4c4c4" stroke="#8a8a8a" stroke-width="0.25"/>
<text x="263.1" y="500.55" font-size="1.85" text-anchor="middle" fill="#555" textLength="9.24" lengthAdjust="spacingAndGlyphs">Gln-Trp</text>
<ellipse cx="291.2" cy="500.7" rx="5.6" ry="4.03" fill="#b5df2c" stroke="#8a8a8a" stroke-width="0.25"/>
<text x="291.2" y="501.29" font-size="1.68" text-anchor="middle" fill="#555" textLength="8.4" lengthAdjust="spacingAndGlyphs">Asn-Val</text>
<ellipse cx="225.6" cy="511.2" rx="6.72" ry="4.82" fill="#c4c4c4" stroke="#8a8a8a" stroke-width="0.25"/>
<text x="225.6" y="511.9" font-size="2" text-anchor="middle" fill="#555" textLength="10.08" lengthAdjust="spacingAndGlyphs">Cys-Gly</text>
<ellipse cx="274.5" cy="508.4" rx="5.6" ry="4.03" fill="#c4c4c4" stroke="#8a8a8a" stroke-width="0.25"/>
<text x="274.5" y="508.99" font-size="1.68" text-anchor="middle" fill="#555" textLength="8.4" lengthAdjust="spacingAndGlyphs">Val-Trp</text>
<ellipse cx="209.4" cy="522.6" rx="6.72" ry="4.82" fill="#c4c4c4" stroke="#8a8a8a" stroke-width="0.25"/>
<text x="209.4" y="523.3" font-size="2" text-anchor="middle" fill="#555" textLength="10.08" lengthAdjust="spacingAndGlyphs">Ile-Pro</text>
<ellipse cx="257.5" cy="521.4" rx="5.6" ry="4.03" fill="#c4c4c4" stroke="#8a8a8a" stroke-width="0.25"/>
<text x="257.5" y="521.99" font-size="1.68" text-anchor="middle" fill="#555" textLength="8.4" lengthAdjust="spacingAndGlyphs">Phe-Val</text>
<ellipse cx="292.9" cy="524.8" rx="5.6" ry="4.03" fill="#c4c4c4" stroke="#8a8a8a" stroke-width="0.25"/>
<text x="292.9" y="525.39" font-size="1.68" text-anchor="middle" fill="#555" textLength="8.4" lengthAdjust="spacingAndGlyphs">Leu-Glu</text>
<ellipse cx="242.8" cy="539" rx="5.6" ry="4.03" fill="#5ea544" stroke="#8a8a8a" stroke-width="0.25"/>
<text x="242.8" y="539.59" font-size="1.68" text-anchor="middle" fill="#555" textLength="8.4" lengthAdjust="spacingAndGlyphs">Gly-Phe</text>
<ellipse cx="266.5" cy="544.7" rx="4.7" ry="3.36" fill="#c4c4c4" stroke="#8a8a8a" stroke-width="0.25"/>
<text x="266.5" y="545.19" font-size="1.41" text-anchor="middle" fill="#555" textLength="7.06" lengthAdjust="spacingAndGlyphs">Tyr-Ala</text>
<ellipse cx="283.2" cy="541.2" rx="4.7" ry="3.36" fill="#c4c4c4" stroke="#8a8a8a" stroke-width="0.25"/>
<text x="283.2" y="541.69" font-size="1.41" text-anchor="middle" fill="#555" textLength="7.06" lengthAdjust="spacingAndGlyphs">Pro-Leu</text>
<ellipse cx="329.6" cy="416.5" rx="3.36" ry="2.69" fill="#c4c4c4" stroke="#8a8a8a" stroke-width="0.25"/>
<text x="329.6" y="416.95" font-size="1.3" text-anchor="middle" fill="#555" textLength="6" lengthAdjust="spacingAndGlyphs">Ser-Ile</text>
<ellipse cx="313.5" cy="452" rx="4.7" ry="3.36" fill="#c4c4c4" stroke="#8a8a8a" stroke-width="0.25"/>
<text x="313.5" y="452.49" font-size="1.41" text-anchor="middle" fill="#555" textLength="7" lengthAdjust="spacingAndGlyphs">Thr-Val</text>
<ellipse cx="341" cy="471" rx="4.03" ry="2.91" fill="#c4c4c4" stroke="#8a8a8a" stroke-width="0.25"/>
<text x="341" y="471.45" font-size="1.3" text-anchor="middle" fill="#555" textLength="7" lengthAdjust="spacingAndGlyphs">His-Pro</text>
<ellipse cx="305" cy="483.7" rx="4.7" ry="3.36" fill="#c4c4c4" stroke="#8a8a8a" stroke-width="0.25"/>
<text x="305" y="484.19" font-size="1.41" text-anchor="middle" fill="#555" textLength="7.06" lengthAdjust="spacingAndGlyphs">Arg-Gln</text>
<ellipse cx="322" cy="483" rx="4.7" ry="3.36" fill="#c4c4c4" stroke="#8a8a8a" stroke-width="0.25"/>
<text x="322" y="483.49" font-size="1.41" text-anchor="middle" fill="#555" textLength="7" lengthAdjust="spacingAndGlyphs">Lys-Phe</text>
<ellipse cx="325.4" cy="508.4" rx="4.03" ry="2.91" fill="#c4c4c4" stroke="#8a8a8a" stroke-width="0.25"/>
<text x="325.4" y="508.85" font-size="1.3" text-anchor="middle" fill="#555" textLength="7" lengthAdjust="spacingAndGlyphs">Met-Gly</text>
<ellipse cx="322" cy="539" rx="3.36" ry="2.46" fill="#c4c4c4" stroke="#8a8a8a" stroke-width="0.25"/>
<text x="322" y="539.46" font-size="1.3" text-anchor="middle" fill="#555" textLength="7" lengthAdjust="spacingAndGlyphs">Asp-Leu</text>
<ellipse cx="279.1" cy="362.1" rx="2.91" ry="1.79" fill="#c4c4c4" stroke="#8a8a8a" stroke-width="0.25"/>
<text x="279.1" y="362.56" font-size="1.3" text-anchor="middle" fill="#555" textLength="14" lengthAdjust="spacingAndGlyphs">Ala-Ile</text>
<text x="334.2" y="417.1" font-size="1.7" fill="#777" textLength="31" lengthAdjust="spacingAndGlyphs">Indoleacetaldehyde 2,4-dinitrophenylhydrazone</text>
<text x="301" y="417.4" font-size="1.7" fill="#777" textLength="24" lengthAdjust="spacingAndGlyphs">N-Acetylserotonin glucuronide</text>
<text x="344.6" y="471.8" font-size="1.7" fill="#777" textLength="7" lengthAdjust="spacingAndGlyphs">Thymine</text>
<text x="325.5" y="539.8" font-size="1.7" fill="#777" textLength="10" lengthAdjust="spacingAndGlyphs">Guanosine</text>
<text x="329" y="509.2" font-size="1.7" fill="#777" textLength="6" lengthAdjust="spacingAndGlyphs">Uridine</text>
<text x="154.8" y="381.8" font-size="4.3" fill="#333" textLength="22" lengthAdjust="spacing">Superclass</text>
<circle cx="122.0" cy="386.2" r="0.8" fill="#e8203c"/>
<text x="127.1" y="387.7" font-size="4.3" fill="#333" textLength="88.6" lengthAdjust="spacing">Nucleosides nucleotides and analogues</text>
<circle cx="122.0" cy="390.55" r="0.8" fill="#5ea544"/>
<text x="127.1" y="392.05" font-size="4.3" fill="#333" textLength="63.2" lengthAdjust="spacing">Organic acids and derivatives</text>
<circle cx="122.0" cy="394.9" r="0.8" fill="#b5df2c"/>
<text x="127.1" y="396.4" font-size="4.3" fill="#333" textLength="69.4" lengthAdjust="spacing">Organoheterocyclic compounds</text>
<circle cx="122.0" cy="399.25" r="0.8" fill="#c4c4c4"/>
<text x="127.1" y="400.75" font-size="4.3" fill="#333" textLength="22.6" lengthAdjust="spacing">Undefined</text>
<text x="21.9" y="362.7" class="ser" font-weight="bold" font-size="14.5" fill="#000">D</text>
</svg>
</body></html>
